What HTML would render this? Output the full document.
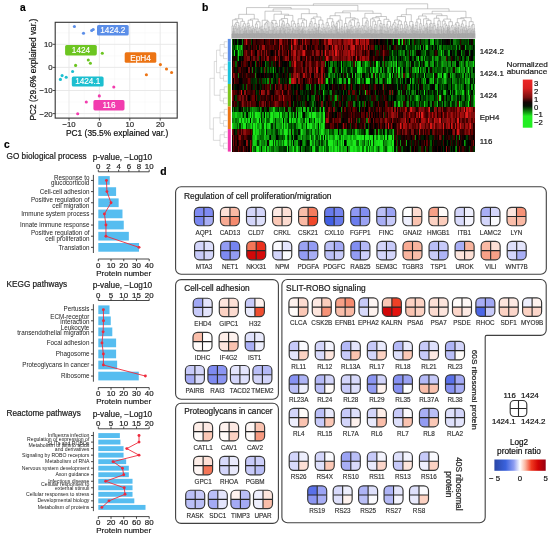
<!DOCTYPE html>
<html><head><meta charset="utf-8"><title>Figure</title>
<style>html,body{margin:0;padding:0;background:#fff;overflow:hidden}svg{display:block}
text{font-family:"Liberation Sans",Arial,Helvetica,sans-serif}</style></head>
<body><svg width="550" height="537" viewBox="0 0 550 537">
<rect width="550" height="537" fill="#fff"/>
<text x="20.00" y="11.00" font-size="10.2" text-anchor="start" fill="#000" stroke="#000" stroke-width="0.2" font-weight="bold">a</text>
<g stroke="#f4f4f4" stroke-width="0.5">
<line x1="84.20" y1="22.3" x2="84.20" y2="118.1"/>
<line x1="114.60" y1="22.3" x2="114.60" y2="118.1"/>
<line x1="145.00" y1="22.3" x2="145.00" y2="118.1"/>
<line x1="55.2" y1="32.75" x2="177.2" y2="32.75"/>
<line x1="55.2" y1="55.85" x2="177.2" y2="55.85"/>
<line x1="55.2" y1="78.95" x2="177.2" y2="78.95"/>
<line x1="55.2" y1="102.05" x2="177.2" y2="102.05"/>
</g>
<g stroke="#e6e6e6" stroke-width="0.9">
<line x1="69.00" y1="22.3" x2="69.00" y2="118.1"/>
<line x1="99.40" y1="22.3" x2="99.40" y2="118.1"/>
<line x1="129.80" y1="22.3" x2="129.80" y2="118.1"/>
<line x1="160.20" y1="22.3" x2="160.20" y2="118.1"/>
<line x1="55.2" y1="44.30" x2="177.2" y2="44.30"/>
<line x1="55.2" y1="67.40" x2="177.2" y2="67.40"/>
<line x1="55.2" y1="90.50" x2="177.2" y2="90.50"/>
<line x1="55.2" y1="113.60" x2="177.2" y2="113.60"/>
</g>
<circle cx="74.4" cy="26.5" r="1.55" fill="#5b8ee8"/>
<circle cx="83.5" cy="33.3" r="1.55" fill="#5b8ee8"/>
<circle cx="91.7" cy="30.5" r="1.55" fill="#5b8ee8"/>
<circle cx="93.2" cy="29.5" r="1.55" fill="#5b8ee8"/>
<circle cx="102.3" cy="53.2" r="1.55" fill="#6cc520"/>
<circle cx="88.3" cy="60" r="1.55" fill="#6cc520"/>
<circle cx="90.4" cy="63.3" r="1.55" fill="#6cc520"/>
<circle cx="75.6" cy="65.4" r="1.55" fill="#6cc520"/>
<circle cx="72.6" cy="71.5" r="1.55" fill="#1cbfd0"/>
<circle cx="62.1" cy="75.6" r="1.55" fill="#1cbfd0"/>
<circle cx="60.4" cy="79.4" r="1.55" fill="#1cbfd0"/>
<circle cx="66.2" cy="77.3" r="1.55" fill="#1cbfd0"/>
<circle cx="113.8" cy="87" r="1.55" fill="#f23cae"/>
<circle cx="99.3" cy="95.9" r="1.55" fill="#f23cae"/>
<circle cx="86.3" cy="102" r="1.55" fill="#f23cae"/>
<circle cx="77.7" cy="113.7" r="1.55" fill="#f23cae"/>
<circle cx="146.4" cy="74.8" r="1.55" fill="#ec7414"/>
<circle cx="160.4" cy="64.6" r="1.55" fill="#ec7414"/>
<circle cx="166.5" cy="69" r="1.55" fill="#ec7414"/>
<circle cx="171.6" cy="72.5" r="1.55" fill="#ec7414"/>
<rect x="97.0" y="25.0" width="31.7" height="10.5" rx="1.6" fill="#5b8ee8"/>
<text x="112.85" y="33.20" font-size="8.2" text-anchor="middle" fill="#fff" stroke="#fff" stroke-width="0.15">1424.2</text>
<rect x="65.1" y="44.9" width="31.7" height="10.5" rx="1.6" fill="#6cc520"/>
<text x="80.95" y="53.10" font-size="8.2" text-anchor="middle" fill="#fff" stroke="#fff" stroke-width="0.15">1424</text>
<rect x="124.7" y="52.3" width="31.6" height="10.5" rx="1.6" fill="#ec7414"/>
<text x="140.50" y="60.50" font-size="8.2" text-anchor="middle" fill="#fff" stroke="#fff" stroke-width="0.15">EpH4</text>
<rect x="71.8" y="76.5" width="31.8" height="10.0" rx="1.6" fill="#1cbfd0"/>
<text x="87.70" y="84.45" font-size="8.2" text-anchor="middle" fill="#fff" stroke="#fff" stroke-width="0.15">1424.1</text>
<rect x="93.4" y="100.1" width="31.1" height="10.3" rx="1.6" fill="#f23cae"/>
<text x="108.95" y="108.20" font-size="8.2" text-anchor="middle" fill="#fff" stroke="#fff" stroke-width="0.15">116</text>
<rect x="55.2" y="22.3" width="121.99999999999999" height="95.8" fill="none" stroke="#333" stroke-width="1.1"/>
<g stroke="#333" stroke-width="0.9">
<line x1="52.7" y1="44.30" x2="55.2" y2="44.30"/>
<line x1="52.7" y1="67.40" x2="55.2" y2="67.40"/>
<line x1="52.7" y1="90.50" x2="55.2" y2="90.50"/>
<line x1="52.7" y1="113.60" x2="55.2" y2="113.60"/>
<line x1="69.00" y1="118.1" x2="69.00" y2="120.6"/>
<line x1="99.40" y1="118.1" x2="99.40" y2="120.6"/>
<line x1="129.80" y1="118.1" x2="129.80" y2="120.6"/>
<line x1="160.20" y1="118.1" x2="160.20" y2="120.6"/>
</g>
<text x="52.60" y="47.20" font-size="8.0" text-anchor="end" fill="#2a2a2a" stroke="#2a2a2a" stroke-width="0.2" textLength="8.63" lengthAdjust="spacingAndGlyphs">10</text>
<text x="52.60" y="70.30" font-size="8.0" text-anchor="end" fill="#2a2a2a" stroke="#2a2a2a" stroke-width="0.2" textLength="4.32" lengthAdjust="spacingAndGlyphs">0</text>
<text x="52.60" y="93.40" font-size="8.0" text-anchor="end" fill="#2a2a2a" stroke="#2a2a2a" stroke-width="0.2" textLength="13.16" lengthAdjust="spacingAndGlyphs">−10</text>
<text x="52.60" y="116.50" font-size="8.0" text-anchor="end" fill="#2a2a2a" stroke="#2a2a2a" stroke-width="0.2" textLength="13.16" lengthAdjust="spacingAndGlyphs">−20</text>
<text x="69.00" y="127.20" font-size="8.0" text-anchor="middle" fill="#2a2a2a" stroke="#2a2a2a" stroke-width="0.2" textLength="13.16" lengthAdjust="spacingAndGlyphs">−10</text>
<text x="99.40" y="127.20" font-size="8.0" text-anchor="middle" fill="#2a2a2a" stroke="#2a2a2a" stroke-width="0.2" textLength="4.32" lengthAdjust="spacingAndGlyphs">0</text>
<text x="129.80" y="127.20" font-size="8.0" text-anchor="middle" fill="#2a2a2a" stroke="#2a2a2a" stroke-width="0.2" textLength="8.63" lengthAdjust="spacingAndGlyphs">10</text>
<text x="160.20" y="127.20" font-size="8.0" text-anchor="middle" fill="#2a2a2a" stroke="#2a2a2a" stroke-width="0.2" textLength="8.63" lengthAdjust="spacingAndGlyphs">20</text>
<text x="117.10" y="135.80" font-size="8.3" text-anchor="middle" fill="#111" stroke="#111" stroke-width="0.2" textLength="102.30" lengthAdjust="spacingAndGlyphs">PC1 (35.5% explained var.)</text>
<text x="36.40" y="69.70" font-size="8.3" text-anchor="middle" fill="#111" stroke="#111" stroke-width="0.2" textLength="101.80" lengthAdjust="spacingAndGlyphs" transform="rotate(-90 36.40 69.70)">PC2 (29.6% explained var.)</text>
<text x="4.00" y="148.30" font-size="10.2" text-anchor="start" fill="#000" stroke="#000" stroke-width="0.2" font-weight="bold">c</text>
<text x="6.60" y="158.60" font-size="8.2" text-anchor="start" fill="#1a1a1a" stroke="#1a1a1a" stroke-width="0.2">GO biological process</text>
<text x="122.40" y="159.90" font-size="8.2" text-anchor="middle" fill="#1a1a1a" stroke="#1a1a1a" stroke-width="0.2" textLength="59.40" lengthAdjust="spacingAndGlyphs">p-value, −Log10</text>
<text x="98.30" y="169.20" font-size="7.9" text-anchor="middle" fill="#222" stroke="#222" stroke-width="0.2">0</text>
<text x="108.48" y="169.20" font-size="7.9" text-anchor="middle" fill="#222" stroke="#222" stroke-width="0.2">2</text>
<text x="118.66" y="169.20" font-size="7.9" text-anchor="middle" fill="#222" stroke="#222" stroke-width="0.2">4</text>
<text x="128.84" y="169.20" font-size="7.9" text-anchor="middle" fill="#222" stroke="#222" stroke-width="0.2">6</text>
<text x="139.02" y="169.20" font-size="7.9" text-anchor="middle" fill="#222" stroke="#222" stroke-width="0.2">8</text>
<text x="149.20" y="169.20" font-size="7.9" text-anchor="middle" fill="#222" stroke="#222" stroke-width="0.2">10</text>
<g stroke="#333" stroke-width="0.9" fill="none">
<line x1="98.3" y1="171.8" x2="149.2" y2="171.8"/>
<line x1="98.30" y1="169.60000000000002" x2="98.30" y2="171.8"/>
<line x1="108.48" y1="169.60000000000002" x2="108.48" y2="171.8"/>
<line x1="118.66" y1="169.60000000000002" x2="118.66" y2="171.8"/>
<line x1="128.84" y1="169.60000000000002" x2="128.84" y2="171.8"/>
<line x1="139.02" y1="169.60000000000002" x2="139.02" y2="171.8"/>
<line x1="149.20" y1="169.60000000000002" x2="149.20" y2="171.8"/>
<line x1="93.4" y1="174.90" x2="93.4" y2="253.00"/>
<line x1="91.0" y1="180.45" x2="93.4" y2="180.45"/>
<line x1="91.0" y1="191.60" x2="93.4" y2="191.60"/>
<line x1="91.0" y1="202.75" x2="93.4" y2="202.75"/>
<line x1="91.0" y1="213.90" x2="93.4" y2="213.90"/>
<line x1="91.0" y1="225.05" x2="93.4" y2="225.05"/>
<line x1="91.0" y1="236.20" x2="93.4" y2="236.20"/>
<line x1="91.0" y1="247.35" x2="93.4" y2="247.35"/>
<line x1="98.3" y1="259.0" x2="149.2" y2="259.0"/>
<line x1="98.30" y1="259.0" x2="98.30" y2="261.2"/>
<line x1="111.02" y1="259.0" x2="111.02" y2="261.2"/>
<line x1="123.75" y1="259.0" x2="123.75" y2="261.2"/>
<line x1="136.47" y1="259.0" x2="136.47" y2="261.2"/>
<line x1="149.20" y1="259.0" x2="149.20" y2="261.2"/>
</g>
<text x="98.30" y="267.50" font-size="7.9" text-anchor="middle" fill="#222" stroke="#222" stroke-width="0.2">0</text>
<text x="111.02" y="267.50" font-size="7.9" text-anchor="middle" fill="#222" stroke="#222" stroke-width="0.2">10</text>
<text x="123.75" y="267.50" font-size="7.9" text-anchor="middle" fill="#222" stroke="#222" stroke-width="0.2">20</text>
<text x="136.47" y="267.50" font-size="7.9" text-anchor="middle" fill="#222" stroke="#222" stroke-width="0.2">30</text>
<text x="149.20" y="267.50" font-size="7.9" text-anchor="middle" fill="#222" stroke="#222" stroke-width="0.2">40</text>
<text x="123.70" y="275.50" font-size="8.05" text-anchor="middle" fill="#1a1a1a" stroke="#1a1a1a" stroke-width="0.2" textLength="55.10" lengthAdjust="spacingAndGlyphs">Protein number</text>
<rect x="98.3" y="176.10" width="11.45" height="8.7" fill="#56bdf0"/>
<rect x="98.3" y="187.25" width="17.81" height="8.7" fill="#56bdf0"/>
<rect x="98.3" y="198.40" width="20.36" height="8.7" fill="#56bdf0"/>
<rect x="98.3" y="209.55" width="24.18" height="8.7" fill="#56bdf0"/>
<rect x="98.3" y="220.70" width="25.45" height="8.7" fill="#56bdf0"/>
<rect x="98.3" y="231.85" width="30.54" height="8.7" fill="#56bdf0"/>
<rect x="98.3" y="243.00" width="40.72" height="8.7" fill="#56bdf0"/>
<polyline points="106.44,180.45 106.95,191.60 111.02,202.75 104.41,213.90 105.94,225.05 105.94,236.20 139.02,247.35" fill="none" stroke="#ee2a3c" stroke-width="0.9"/>
<circle cx="106.44" cy="180.45" r="1.45" fill="#ee2a3c"/>
<circle cx="106.95" cy="191.60" r="1.45" fill="#ee2a3c"/>
<circle cx="111.02" cy="202.75" r="1.45" fill="#ee2a3c"/>
<circle cx="104.41" cy="213.90" r="1.45" fill="#ee2a3c"/>
<circle cx="105.94" cy="225.05" r="1.45" fill="#ee2a3c"/>
<circle cx="105.94" cy="236.20" r="1.45" fill="#ee2a3c"/>
<circle cx="139.02" cy="247.35" r="1.45" fill="#ee2a3c"/>
<text x="89.40" y="179.59" font-size="6.3" text-anchor="end" fill="#222">Response to</text>
<text x="89.40" y="185.49" font-size="6.3" text-anchor="end" fill="#222">glucocorticoid</text>
<text x="89.40" y="193.99" font-size="6.3" text-anchor="end" fill="#222">Cell-cell adhesion</text>
<text x="89.40" y="201.89" font-size="6.3" text-anchor="end" fill="#222">Positive regulation of</text>
<text x="89.40" y="207.79" font-size="6.3" text-anchor="end" fill="#222">cell migration</text>
<text x="89.40" y="216.29" font-size="6.3" text-anchor="end" fill="#222">Immune system process</text>
<text x="89.40" y="227.44" font-size="6.3" text-anchor="end" fill="#222">Innate immune response</text>
<text x="89.40" y="235.34" font-size="6.3" text-anchor="end" fill="#222">Positive regulation of</text>
<text x="89.40" y="241.24" font-size="6.3" text-anchor="end" fill="#222">cell proliferation</text>
<text x="89.40" y="249.74" font-size="6.3" text-anchor="end" fill="#222">Translation</text>
<text x="6.60" y="287.20" font-size="8.2" text-anchor="start" fill="#1a1a1a" stroke="#1a1a1a" stroke-width="0.2">KEGG pathways</text>
<text x="122.40" y="288.20" font-size="8.2" text-anchor="middle" fill="#1a1a1a" stroke="#1a1a1a" stroke-width="0.2" textLength="59.40" lengthAdjust="spacingAndGlyphs">p-value, −Log10</text>
<text x="98.30" y="297.50" font-size="7.9" text-anchor="middle" fill="#222" stroke="#222" stroke-width="0.2">0</text>
<text x="111.02" y="297.50" font-size="7.9" text-anchor="middle" fill="#222" stroke="#222" stroke-width="0.2">5</text>
<text x="123.75" y="297.50" font-size="7.9" text-anchor="middle" fill="#222" stroke="#222" stroke-width="0.2">10</text>
<text x="136.47" y="297.50" font-size="7.9" text-anchor="middle" fill="#222" stroke="#222" stroke-width="0.2">15</text>
<text x="149.20" y="297.50" font-size="7.9" text-anchor="middle" fill="#222" stroke="#222" stroke-width="0.2">20</text>
<g stroke="#333" stroke-width="0.9" fill="none">
<line x1="98.3" y1="300.5" x2="149.2" y2="300.5"/>
<line x1="98.30" y1="298.3" x2="98.30" y2="300.5"/>
<line x1="111.02" y1="298.3" x2="111.02" y2="300.5"/>
<line x1="123.75" y1="298.3" x2="123.75" y2="300.5"/>
<line x1="136.47" y1="298.3" x2="136.47" y2="300.5"/>
<line x1="149.20" y1="298.3" x2="149.20" y2="300.5"/>
<line x1="93.4" y1="304.20" x2="93.4" y2="381.70"/>
<line x1="91.0" y1="309.75" x2="93.4" y2="309.75"/>
<line x1="91.0" y1="320.80" x2="93.4" y2="320.80"/>
<line x1="91.0" y1="331.85" x2="93.4" y2="331.85"/>
<line x1="91.0" y1="342.90" x2="93.4" y2="342.90"/>
<line x1="91.0" y1="353.95" x2="93.4" y2="353.95"/>
<line x1="91.0" y1="365.00" x2="93.4" y2="365.00"/>
<line x1="91.0" y1="376.05" x2="93.4" y2="376.05"/>
<line x1="98.3" y1="387.6" x2="149.2" y2="387.6"/>
<line x1="98.30" y1="387.6" x2="98.30" y2="389.8"/>
<line x1="111.02" y1="387.6" x2="111.02" y2="389.8"/>
<line x1="123.75" y1="387.6" x2="123.75" y2="389.8"/>
<line x1="136.47" y1="387.6" x2="136.47" y2="389.8"/>
<line x1="149.20" y1="387.6" x2="149.20" y2="389.8"/>
</g>
<text x="98.30" y="396.10" font-size="7.9" text-anchor="middle" fill="#222" stroke="#222" stroke-width="0.2">0</text>
<text x="111.02" y="396.10" font-size="7.9" text-anchor="middle" fill="#222" stroke="#222" stroke-width="0.2">10</text>
<text x="123.75" y="396.10" font-size="7.9" text-anchor="middle" fill="#222" stroke="#222" stroke-width="0.2">20</text>
<text x="136.47" y="396.10" font-size="7.9" text-anchor="middle" fill="#222" stroke="#222" stroke-width="0.2">30</text>
<text x="149.20" y="396.10" font-size="7.9" text-anchor="middle" fill="#222" stroke="#222" stroke-width="0.2">40</text>
<text x="123.70" y="404.10" font-size="8.05" text-anchor="middle" fill="#1a1a1a" stroke="#1a1a1a" stroke-width="0.2" textLength="55.10" lengthAdjust="spacingAndGlyphs">Protein number</text>
<rect x="98.3" y="305.40" width="11.20" height="8.7" fill="#56bdf0"/>
<rect x="98.3" y="316.45" width="12.47" height="8.7" fill="#56bdf0"/>
<rect x="98.3" y="327.50" width="14.00" height="8.7" fill="#56bdf0"/>
<rect x="98.3" y="338.55" width="17.81" height="8.7" fill="#56bdf0"/>
<rect x="98.3" y="349.60" width="17.81" height="8.7" fill="#56bdf0"/>
<rect x="98.3" y="360.65" width="18.83" height="8.7" fill="#56bdf0"/>
<rect x="98.3" y="371.70" width="40.47" height="8.7" fill="#56bdf0"/>
<polyline points="103.39,309.75 103.49,320.80 103.14,331.85 101.99,342.90 103.39,353.95 103.39,365.00 145.38,376.05" fill="none" stroke="#ee2a3c" stroke-width="0.9"/>
<circle cx="103.39" cy="309.75" r="1.45" fill="#ee2a3c"/>
<circle cx="103.49" cy="320.80" r="1.45" fill="#ee2a3c"/>
<circle cx="103.14" cy="331.85" r="1.45" fill="#ee2a3c"/>
<circle cx="101.99" cy="342.90" r="1.45" fill="#ee2a3c"/>
<circle cx="103.39" cy="353.95" r="1.45" fill="#ee2a3c"/>
<circle cx="103.39" cy="365.00" r="1.45" fill="#ee2a3c"/>
<circle cx="145.38" cy="376.05" r="1.45" fill="#ee2a3c"/>
<text x="89.40" y="311.44" font-size="6.3" text-anchor="end" fill="#222">Pertussis</text>
<text x="89.40" y="318.99" font-size="6.3" text-anchor="end" fill="#222">ECM-receptor</text>
<text x="89.40" y="324.19" font-size="6.3" text-anchor="end" fill="#222">interaction</text>
<text x="89.40" y="330.04" font-size="6.3" text-anchor="end" fill="#222">Leukocyte</text>
<text x="89.40" y="335.24" font-size="6.3" text-anchor="end" fill="#222">transendothelial migration</text>
<text x="89.40" y="344.59" font-size="6.3" text-anchor="end" fill="#222">Focal adhesion</text>
<text x="89.40" y="355.64" font-size="6.3" text-anchor="end" fill="#222">Phagosome</text>
<text x="89.40" y="366.69" font-size="6.3" text-anchor="end" fill="#222">Proteoglycans in cancer</text>
<text x="89.40" y="377.74" font-size="6.3" text-anchor="end" fill="#222">Ribosome</text>
<text x="6.60" y="415.80" font-size="8.2" text-anchor="start" fill="#1a1a1a" stroke="#1a1a1a" stroke-width="0.2">Reactome pathways</text>
<text x="122.40" y="416.70" font-size="8.2" text-anchor="middle" fill="#1a1a1a" stroke="#1a1a1a" stroke-width="0.2" textLength="59.40" lengthAdjust="spacingAndGlyphs">p-value, −Log10</text>
<text x="98.30" y="426.00" font-size="7.9" text-anchor="middle" fill="#222" stroke="#222" stroke-width="0.2">0</text>
<text x="111.02" y="426.00" font-size="7.9" text-anchor="middle" fill="#222" stroke="#222" stroke-width="0.2">5</text>
<text x="123.75" y="426.00" font-size="7.9" text-anchor="middle" fill="#222" stroke="#222" stroke-width="0.2">10</text>
<text x="136.47" y="426.00" font-size="7.9" text-anchor="middle" fill="#222" stroke="#222" stroke-width="0.2">15</text>
<text x="149.20" y="426.00" font-size="7.9" text-anchor="middle" fill="#222" stroke="#222" stroke-width="0.2">20</text>
<g stroke="#333" stroke-width="0.9" fill="none">
<line x1="98.3" y1="428.8" x2="149.2" y2="428.8"/>
<line x1="98.30" y1="426.6" x2="98.30" y2="428.8"/>
<line x1="111.02" y1="426.6" x2="111.02" y2="428.8"/>
<line x1="123.75" y1="426.6" x2="123.75" y2="428.8"/>
<line x1="136.47" y1="426.6" x2="136.47" y2="428.8"/>
<line x1="149.20" y1="426.6" x2="149.20" y2="428.8"/>
<line x1="93.4" y1="431.90" x2="93.4" y2="511.13"/>
<line x1="91.0" y1="435.55" x2="93.4" y2="435.55"/>
<line x1="91.0" y1="442.08" x2="93.4" y2="442.08"/>
<line x1="91.0" y1="448.61" x2="93.4" y2="448.61"/>
<line x1="91.0" y1="455.14" x2="93.4" y2="455.14"/>
<line x1="91.0" y1="461.67" x2="93.4" y2="461.67"/>
<line x1="91.0" y1="468.20" x2="93.4" y2="468.20"/>
<line x1="91.0" y1="474.73" x2="93.4" y2="474.73"/>
<line x1="91.0" y1="481.26" x2="93.4" y2="481.26"/>
<line x1="91.0" y1="487.79" x2="93.4" y2="487.79"/>
<line x1="91.0" y1="494.32" x2="93.4" y2="494.32"/>
<line x1="91.0" y1="500.85" x2="93.4" y2="500.85"/>
<line x1="91.0" y1="507.38" x2="93.4" y2="507.38"/>
<line x1="98.3" y1="516.6" x2="149.2" y2="516.6"/>
<line x1="98.30" y1="516.6" x2="98.30" y2="518.8000000000001"/>
<line x1="111.02" y1="516.6" x2="111.02" y2="518.8000000000001"/>
<line x1="123.75" y1="516.6" x2="123.75" y2="518.8000000000001"/>
<line x1="136.47" y1="516.6" x2="136.47" y2="518.8000000000001"/>
<line x1="149.20" y1="516.6" x2="149.20" y2="518.8000000000001"/>
</g>
<text x="98.30" y="525.10" font-size="7.9" text-anchor="middle" fill="#222" stroke="#222" stroke-width="0.2">0</text>
<text x="111.02" y="525.10" font-size="7.9" text-anchor="middle" fill="#222" stroke="#222" stroke-width="0.2">20</text>
<text x="123.75" y="525.10" font-size="7.9" text-anchor="middle" fill="#222" stroke="#222" stroke-width="0.2">40</text>
<text x="136.47" y="525.10" font-size="7.9" text-anchor="middle" fill="#222" stroke="#222" stroke-width="0.2">60</text>
<text x="149.20" y="525.10" font-size="7.9" text-anchor="middle" fill="#222" stroke="#222" stroke-width="0.2">80</text>
<text x="123.70" y="533.10" font-size="8.05" text-anchor="middle" fill="#1a1a1a" stroke="#1a1a1a" stroke-width="0.2" textLength="55.10" lengthAdjust="spacingAndGlyphs">Protein number</text>
<rect x="98.3" y="433.10" width="21.57" height="4.9" fill="#56bdf0"/>
<rect x="98.3" y="439.63" width="22.14" height="4.9" fill="#56bdf0"/>
<rect x="98.3" y="446.16" width="25.26" height="4.9" fill="#56bdf0"/>
<rect x="98.3" y="452.69" width="25.26" height="4.9" fill="#56bdf0"/>
<rect x="98.3" y="459.22" width="27.87" height="4.9" fill="#56bdf0"/>
<rect x="98.3" y="465.75" width="30.54" height="4.9" fill="#56bdf0"/>
<rect x="98.3" y="472.28" width="30.54" height="4.9" fill="#56bdf0"/>
<rect x="98.3" y="478.81" width="34.23" height="4.9" fill="#56bdf0"/>
<rect x="98.3" y="485.34" width="34.23" height="4.9" fill="#56bdf0"/>
<rect x="98.3" y="491.87" width="34.23" height="4.9" fill="#56bdf0"/>
<rect x="98.3" y="498.40" width="36.01" height="4.9" fill="#56bdf0"/>
<rect x="98.3" y="504.93" width="47.21" height="4.9" fill="#56bdf0"/>
<polyline points="139.02,435.55 139.02,442.08 126.80,448.61 139.02,455.14 113.06,461.67 122.48,468.20 123.75,474.73 105.68,481.26 124.26,487.79 125.02,494.32 108.99,500.85 101.86,507.38" fill="none" stroke="#ee2a3c" stroke-width="0.9"/>
<circle cx="139.02" cy="435.55" r="1.45" fill="#ee2a3c"/>
<circle cx="139.02" cy="442.08" r="1.45" fill="#ee2a3c"/>
<circle cx="126.80" cy="448.61" r="1.45" fill="#ee2a3c"/>
<circle cx="139.02" cy="455.14" r="1.45" fill="#ee2a3c"/>
<circle cx="113.06" cy="461.67" r="1.45" fill="#ee2a3c"/>
<circle cx="122.48" cy="468.20" r="1.45" fill="#ee2a3c"/>
<circle cx="123.75" cy="474.73" r="1.45" fill="#ee2a3c"/>
<circle cx="105.68" cy="481.26" r="1.45" fill="#ee2a3c"/>
<circle cx="124.26" cy="487.79" r="1.45" fill="#ee2a3c"/>
<circle cx="125.02" cy="494.32" r="1.45" fill="#ee2a3c"/>
<circle cx="108.99" cy="500.85" r="1.45" fill="#ee2a3c"/>
<circle cx="101.86" cy="507.38" r="1.45" fill="#ee2a3c"/>
<text x="89.40" y="437.10" font-size="5.15" text-anchor="end" fill="#222">Influenza infection</text>
<text x="89.40" y="440.78" font-size="5.15" text-anchor="end" fill="#222">Regulation of expression of</text>
<text x="89.40" y="444.68" font-size="5.15" text-anchor="end" fill="#222">SLITs and ROBOs</text>
<text x="89.40" y="447.31" font-size="5.15" text-anchor="end" fill="#222">Metabolism of amino acids</text>
<text x="89.40" y="451.21" font-size="5.15" text-anchor="end" fill="#222">and derivatives</text>
<text x="89.40" y="456.69" font-size="5.15" text-anchor="end" fill="#222">Signaling by ROBO receptors</text>
<text x="89.40" y="463.22" font-size="5.15" text-anchor="end" fill="#222">Metabolism of RNA</text>
<text x="89.40" y="469.75" font-size="5.15" text-anchor="end" fill="#222">Nervous system development</text>
<text x="89.40" y="476.28" font-size="5.15" text-anchor="end" fill="#222">Axon guidance</text>
<text x="89.40" y="482.81" font-size="5.15" text-anchor="end" fill="#222">Infectious disease</text>
<text x="89.40" y="486.49" font-size="5.15" text-anchor="end" fill="#222">Cellular responses to</text>
<text x="89.40" y="490.39" font-size="5.15" text-anchor="end" fill="#222">external stimuli</text>
<text x="89.40" y="495.87" font-size="5.15" text-anchor="end" fill="#222">Cellular responses to stress</text>
<text x="89.40" y="502.40" font-size="5.15" text-anchor="end" fill="#222">Developmental biology</text>
<text x="89.40" y="508.93" font-size="5.15" text-anchor="end" fill="#222">Metabolism of proteins</text>
<text x="201.90" y="10.90" font-size="10.4" text-anchor="start" fill="#000" stroke="#000" stroke-width="0.2" font-weight="bold">b</text>
<defs><filter id="hb" x="-0.01" y="-0.01" width="1.02" height="1.02"><feGaussianBlur stdDeviation="0.45 0.35"/></filter></defs>
<g filter="url(#hb)">
<g transform="translate(231.6 38.9) scale(1.28211 5.63500)" shape-rendering="crispEdges">
<path fill="#046104" d="M0 0h1v1h-1zM4 0h1v1h-1zM132 0h1v1h-1zM135 0h1v1h-1zM141 0h1v1h-1zM175 0h1v1h-1zM112 1h1v1h-1zM157 1h1v1h-1zM166 1h1v1h-1zM168 1h1v1h-1zM185 1h1v1h-1zM7 2h1v1h-1zM130 2h1v1h-1zM132 2h1v1h-1zM137 2h1v1h-1zM143 2h1v1h-1zM149 2h1v1h-1zM150 2h1v1h-1zM156 2h1v1h-1zM175 2h1v1h-1zM141 3h1v1h-1zM183 3h1v1h-1zM3 4h1v1h-1zM81 4h1v1h-1zM90 4h1v1h-1zM102 4h1v1h-1zM103 4h1v1h-1zM106 4h1v1h-1zM107 4h1v1h-1zM114 4h1v1h-1zM125 4h1v1h-1zM130 4h1v1h-1zM133 4h1v1h-1zM145 4h1v1h-1zM182 4h1v1h-1zM28 5h1v1h-1zM34 5h1v1h-1zM75 5h1v1h-1zM114 5h1v1h-1zM154 5h1v1h-1zM172 5h1v1h-1zM178 5h1v1h-1zM87 6h1v1h-1zM116 6h1v1h-1zM122 6h1v1h-1zM135 6h1v1h-1zM142 6h1v1h-1zM152 6h1v1h-1zM153 6h1v1h-1zM154 6h1v1h-1zM155 6h1v1h-1zM160 6h1v1h-1zM178 6h1v1h-1zM87 7h1v1h-1zM117 7h1v1h-1zM148 7h1v1h-1zM161 7h1v1h-1zM170 7h1v1h-1zM11 8h1v1h-1zM58 8h1v1h-1zM59 8h1v1h-1zM141 8h1v1h-1zM143 8h1v1h-1zM183 8h1v1h-1zM185 8h1v1h-1zM65 9h1v1h-1zM87 9h1v1h-1zM112 9h1v1h-1zM140 9h1v1h-1zM147 9h1v1h-1zM177 9h1v1h-1zM183 9h1v1h-1zM185 9h1v1h-1zM59 10h1v1h-1zM63 10h1v1h-1zM130 10h1v1h-1zM146 10h1v1h-1zM166 10h1v1h-1zM174 10h1v1h-1zM181 10h1v1h-1zM48 11h1v1h-1zM80 11h1v1h-1zM102 11h1v1h-1zM139 11h1v1h-1zM141 11h1v1h-1zM144 11h1v1h-1zM151 11h1v1h-1zM158 11h1v1h-1zM159 11h1v1h-1zM183 11h1v1h-1zM4 12h1v1h-1zM20 12h1v1h-1zM23 12h1v1h-1zM34 12h1v1h-1zM68 12h1v1h-1zM41 13h1v1h-1zM46 13h1v1h-1zM47 13h1v1h-1zM28 14h1v1h-1zM46 14h1v1h-1zM50 14h1v1h-1zM4 15h1v1h-1zM45 15h1v1h-1zM106 15h1v1h-1zM31 16h1v1h-1zM44 16h1v1h-1zM51 16h1v1h-1zM65 16h1v1h-1zM111 16h1v1h-1zM115 16h1v1h-1zM123 16h1v1h-1zM22 17h1v1h-1zM38 17h1v1h-1zM41 17h1v1h-1zM55 17h1v1h-1zM68 17h1v1h-1zM84 17h1v1h-1zM125 17h1v1h-1zM175 17h1v1h-1zM36 18h1v1h-1zM44 18h1v1h-1zM82 18h1v1h-1zM155 18h1v1h-1zM182 18h1v1h-1zM56 19h1v1h-1zM65 19h1v1h-1zM72 19h1v1h-1zM75 19h1v1h-1zM133 19h1v1h-1zM151 19h1v1h-1z"/>
<path fill="#150000" d="M1 0h1v1h-1zM9 0h1v1h-1zM19 0h1v1h-1zM32 0h1v1h-1zM36 0h1v1h-1zM44 0h1v1h-1zM61 0h1v1h-1zM118 0h1v1h-1zM147 0h1v1h-1zM187 0h1v1h-1zM11 1h1v1h-1zM12 1h1v1h-1zM59 1h1v1h-1zM111 1h1v1h-1zM9 2h1v1h-1zM35 2h1v1h-1zM111 2h1v1h-1zM26 3h1v1h-1zM45 3h1v1h-1zM57 3h1v1h-1zM63 3h1v1h-1zM108 3h1v1h-1zM109 3h1v1h-1zM112 3h1v1h-1zM119 3h1v1h-1zM186 3h1v1h-1zM0 4h1v1h-1zM2 5h1v1h-1zM4 5h1v1h-1zM7 5h1v1h-1zM17 5h1v1h-1zM36 5h1v1h-1zM45 5h1v1h-1zM46 5h1v1h-1zM155 5h1v1h-1zM7 6h1v1h-1zM9 6h1v1h-1zM14 6h1v1h-1zM22 6h1v1h-1zM41 6h1v1h-1zM93 6h1v1h-1zM107 6h1v1h-1zM114 6h1v1h-1zM159 6h1v1h-1zM8 7h1v1h-1zM76 7h1v1h-1zM111 7h1v1h-1zM118 7h1v1h-1zM158 7h1v1h-1zM6 8h1v1h-1zM21 8h1v1h-1zM79 8h1v1h-1zM85 8h1v1h-1zM92 8h1v1h-1zM113 8h1v1h-1zM123 8h1v1h-1zM146 8h1v1h-1zM5 9h1v1h-1zM8 9h1v1h-1zM11 9h1v1h-1zM30 9h1v1h-1zM42 9h1v1h-1zM49 9h1v1h-1zM106 9h1v1h-1zM116 9h1v1h-1zM128 9h1v1h-1zM133 9h1v1h-1zM30 10h1v1h-1zM57 10h1v1h-1zM65 10h1v1h-1zM88 10h1v1h-1zM89 10h1v1h-1zM101 10h1v1h-1zM138 10h1v1h-1zM164 10h1v1h-1zM165 10h1v1h-1zM49 11h1v1h-1zM50 11h1v1h-1zM54 11h1v1h-1zM94 11h1v1h-1zM107 11h1v1h-1zM113 11h1v1h-1zM135 11h1v1h-1zM8 12h1v1h-1zM43 12h1v1h-1zM48 12h1v1h-1zM49 12h1v1h-1zM74 12h1v1h-1zM82 12h1v1h-1zM90 12h1v1h-1zM102 12h1v1h-1zM114 12h1v1h-1zM156 12h1v1h-1zM89 13h1v1h-1zM121 13h1v1h-1zM163 13h1v1h-1zM88 14h1v1h-1zM89 14h1v1h-1zM111 14h1v1h-1zM75 15h1v1h-1zM80 15h1v1h-1zM81 15h1v1h-1zM109 15h1v1h-1zM111 15h1v1h-1zM113 15h1v1h-1zM127 15h1v1h-1zM188 15h1v1h-1zM46 16h1v1h-1zM139 16h1v1h-1zM166 16h1v1h-1zM170 16h1v1h-1zM13 17h1v1h-1zM14 17h1v1h-1zM136 17h1v1h-1zM139 17h1v1h-1zM168 17h1v1h-1zM178 17h1v1h-1zM180 17h1v1h-1zM2 18h1v1h-1zM9 18h1v1h-1zM132 18h1v1h-1zM133 18h1v1h-1zM134 18h1v1h-1zM146 18h1v1h-1zM149 18h1v1h-1zM160 18h1v1h-1zM179 18h1v1h-1zM0 19h1v1h-1zM135 19h1v1h-1zM144 19h1v1h-1z"/>
<path fill="#002900" d="M2 0h1v1h-1zM162 0h1v1h-1zM2 1h1v1h-1zM130 1h1v1h-1zM135 1h1v1h-1zM139 1h1v1h-1zM153 1h1v1h-1zM154 1h1v1h-1zM161 1h1v1h-1zM115 2h1v1h-1zM123 2h1v1h-1zM124 2h1v1h-1zM127 2h1v1h-1zM136 2h1v1h-1zM140 2h1v1h-1zM154 2h1v1h-1zM167 2h1v1h-1zM186 2h1v1h-1zM188 2h1v1h-1zM151 3h1v1h-1zM154 3h1v1h-1zM162 3h1v1h-1zM178 3h1v1h-1zM181 3h1v1h-1zM27 4h1v1h-1zM93 4h1v1h-1zM135 4h1v1h-1zM19 5h1v1h-1zM22 5h1v1h-1zM78 5h1v1h-1zM90 5h1v1h-1zM96 5h1v1h-1zM115 5h1v1h-1zM189 5h1v1h-1zM73 6h1v1h-1zM81 6h1v1h-1zM138 6h1v1h-1zM177 6h1v1h-1zM15 7h1v1h-1zM17 7h1v1h-1zM38 7h1v1h-1zM40 7h1v1h-1zM42 7h1v1h-1zM81 7h1v1h-1zM126 7h1v1h-1zM136 7h1v1h-1zM181 7h1v1h-1zM187 7h1v1h-1zM2 8h1v1h-1zM8 8h1v1h-1zM17 8h1v1h-1zM19 8h1v1h-1zM22 8h1v1h-1zM48 8h1v1h-1zM83 8h1v1h-1zM96 8h1v1h-1zM107 8h1v1h-1zM131 8h1v1h-1zM134 8h1v1h-1zM139 8h1v1h-1zM164 8h1v1h-1zM54 9h1v1h-1zM57 9h1v1h-1zM59 9h1v1h-1zM74 9h1v1h-1zM81 9h1v1h-1zM96 9h1v1h-1zM119 9h1v1h-1zM124 9h1v1h-1zM126 9h1v1h-1zM129 9h1v1h-1zM148 9h1v1h-1zM149 9h1v1h-1zM155 9h1v1h-1zM157 9h1v1h-1zM159 9h1v1h-1zM167 9h1v1h-1zM168 9h1v1h-1zM21 10h1v1h-1zM56 10h1v1h-1zM90 10h1v1h-1zM105 10h1v1h-1zM107 10h1v1h-1zM128 10h1v1h-1zM141 10h1v1h-1zM149 10h1v1h-1zM151 10h1v1h-1zM5 11h1v1h-1zM43 11h1v1h-1zM61 11h1v1h-1zM69 11h1v1h-1zM78 11h1v1h-1zM79 11h1v1h-1zM83 11h1v1h-1zM98 11h1v1h-1zM108 11h1v1h-1zM128 11h1v1h-1zM142 11h1v1h-1zM154 11h1v1h-1zM173 11h1v1h-1zM7 12h1v1h-1zM11 12h1v1h-1zM13 12h1v1h-1zM21 12h1v1h-1zM27 12h1v1h-1zM63 12h1v1h-1zM81 12h1v1h-1zM9 13h1v1h-1zM23 13h1v1h-1zM23 14h1v1h-1zM98 14h1v1h-1zM31 15h1v1h-1zM34 15h1v1h-1zM58 15h1v1h-1zM3 16h1v1h-1zM35 16h1v1h-1zM49 16h1v1h-1zM36 17h1v1h-1zM44 17h1v1h-1zM121 17h1v1h-1zM154 17h1v1h-1zM172 17h1v1h-1zM52 18h1v1h-1zM58 18h1v1h-1zM68 18h1v1h-1zM139 18h1v1h-1zM145 18h1v1h-1zM171 18h1v1h-1zM23 19h1v1h-1zM41 19h1v1h-1zM42 19h1v1h-1zM62 19h1v1h-1zM145 19h1v1h-1zM172 19h1v1h-1zM188 19h1v1h-1zM189 19h1v1h-1z"/>
<path fill="#000000" d="M3 0h1v1h-1zM25 0h1v1h-1zM111 0h1v1h-1zM113 0h1v1h-1zM116 0h1v1h-1zM139 0h1v1h-1zM158 0h1v1h-1zM164 0h1v1h-1zM168 0h1v1h-1zM71 1h1v1h-1zM76 1h1v1h-1zM117 1h1v1h-1zM125 1h1v1h-1zM18 2h1v1h-1zM19 2h1v1h-1zM108 2h1v1h-1zM129 2h1v1h-1zM135 2h1v1h-1zM178 2h1v1h-1zM183 2h1v1h-1zM187 2h1v1h-1zM6 3h1v1h-1zM14 3h1v1h-1zM54 3h1v1h-1zM131 3h1v1h-1zM6 4h1v1h-1zM17 4h1v1h-1zM24 4h1v1h-1zM35 4h1v1h-1zM39 4h1v1h-1zM41 4h1v1h-1zM42 4h1v1h-1zM44 4h1v1h-1zM86 4h1v1h-1zM147 4h1v1h-1zM176 4h1v1h-1zM33 5h1v1h-1zM68 5h1v1h-1zM117 5h1v1h-1zM152 5h1v1h-1zM20 6h1v1h-1zM23 6h1v1h-1zM24 6h1v1h-1zM31 6h1v1h-1zM63 6h1v1h-1zM83 6h1v1h-1zM103 6h1v1h-1zM124 6h1v1h-1zM164 6h1v1h-1zM181 6h1v1h-1zM7 7h1v1h-1zM34 7h1v1h-1zM56 7h1v1h-1zM80 7h1v1h-1zM103 7h1v1h-1zM114 7h1v1h-1zM140 7h1v1h-1zM152 7h1v1h-1zM153 7h1v1h-1zM171 7h1v1h-1zM0 8h1v1h-1zM5 8h1v1h-1zM20 8h1v1h-1zM32 8h1v1h-1zM56 8h1v1h-1zM60 8h1v1h-1zM73 8h1v1h-1zM106 8h1v1h-1zM116 8h1v1h-1zM121 8h1v1h-1zM140 8h1v1h-1zM157 8h1v1h-1zM168 8h1v1h-1zM171 8h1v1h-1zM186 8h1v1h-1zM32 9h1v1h-1zM88 9h1v1h-1zM98 9h1v1h-1zM109 9h1v1h-1zM113 9h1v1h-1zM127 9h1v1h-1zM135 9h1v1h-1zM139 9h1v1h-1zM146 9h1v1h-1zM169 9h1v1h-1zM18 10h1v1h-1zM46 10h1v1h-1zM58 10h1v1h-1zM61 10h1v1h-1zM68 10h1v1h-1zM74 10h1v1h-1zM100 10h1v1h-1zM121 10h1v1h-1zM147 10h1v1h-1zM167 10h1v1h-1zM178 10h1v1h-1zM182 10h1v1h-1zM47 11h1v1h-1zM66 11h1v1h-1zM72 11h1v1h-1zM75 11h1v1h-1zM101 11h1v1h-1zM105 11h1v1h-1zM156 11h1v1h-1zM6 12h1v1h-1zM55 12h1v1h-1zM58 12h1v1h-1zM87 12h1v1h-1zM117 12h1v1h-1zM25 13h1v1h-1zM56 13h1v1h-1zM78 13h1v1h-1zM100 13h1v1h-1zM104 13h1v1h-1zM110 13h1v1h-1zM112 13h1v1h-1zM114 13h1v1h-1zM117 13h1v1h-1zM40 14h1v1h-1zM109 14h1v1h-1zM138 14h1v1h-1zM90 15h1v1h-1zM108 15h1v1h-1zM112 15h1v1h-1zM119 15h1v1h-1zM83 16h1v1h-1zM109 16h1v1h-1zM171 16h1v1h-1zM30 17h1v1h-1zM35 17h1v1h-1zM72 17h1v1h-1zM150 17h1v1h-1zM181 17h1v1h-1zM4 18h1v1h-1zM10 18h1v1h-1zM53 18h1v1h-1zM54 18h1v1h-1zM127 18h1v1h-1zM137 18h1v1h-1zM156 18h1v1h-1zM189 18h1v1h-1zM13 19h1v1h-1zM53 19h1v1h-1zM137 19h1v1h-1zM141 19h1v1h-1zM159 19h1v1h-1zM162 19h1v1h-1zM166 19h1v1h-1zM168 19h1v1h-1z"/>
<path fill="#001b00" d="M5 0h1v1h-1zM68 0h1v1h-1zM128 0h1v1h-1zM136 0h1v1h-1zM140 0h1v1h-1zM143 0h1v1h-1zM153 0h1v1h-1zM165 0h1v1h-1zM186 0h1v1h-1zM45 1h1v1h-1zM140 1h1v1h-1zM164 1h1v1h-1zM176 1h1v1h-1zM152 2h1v1h-1zM160 2h1v1h-1zM166 2h1v1h-1zM173 2h1v1h-1zM7 3h1v1h-1zM117 3h1v1h-1zM121 3h1v1h-1zM133 3h1v1h-1zM149 3h1v1h-1zM168 3h1v1h-1zM175 3h1v1h-1zM33 4h1v1h-1zM79 4h1v1h-1zM84 4h1v1h-1zM109 4h1v1h-1zM154 4h1v1h-1zM181 4h1v1h-1zM3 5h1v1h-1zM24 5h1v1h-1zM29 5h1v1h-1zM39 5h1v1h-1zM91 5h1v1h-1zM95 5h1v1h-1zM107 5h1v1h-1zM120 5h1v1h-1zM131 5h1v1h-1zM165 5h1v1h-1zM28 6h1v1h-1zM36 6h1v1h-1zM42 6h1v1h-1zM74 6h1v1h-1zM108 6h1v1h-1zM140 6h1v1h-1zM146 6h1v1h-1zM149 6h1v1h-1zM175 6h1v1h-1zM16 7h1v1h-1zM22 7h1v1h-1zM27 7h1v1h-1zM32 7h1v1h-1zM33 7h1v1h-1zM94 7h1v1h-1zM95 7h1v1h-1zM119 7h1v1h-1zM130 7h1v1h-1zM132 7h1v1h-1zM143 7h1v1h-1zM189 7h1v1h-1zM50 8h1v1h-1zM101 8h1v1h-1zM109 8h1v1h-1zM119 8h1v1h-1zM144 8h1v1h-1zM167 8h1v1h-1zM188 8h1v1h-1zM20 9h1v1h-1zM67 9h1v1h-1zM84 9h1v1h-1zM92 9h1v1h-1zM93 9h1v1h-1zM102 9h1v1h-1zM131 9h1v1h-1zM163 9h1v1h-1zM173 9h1v1h-1zM20 10h1v1h-1zM51 10h1v1h-1zM54 10h1v1h-1zM84 10h1v1h-1zM87 10h1v1h-1zM94 10h1v1h-1zM95 10h1v1h-1zM114 10h1v1h-1zM117 10h1v1h-1zM122 10h1v1h-1zM176 10h1v1h-1zM60 11h1v1h-1zM64 11h1v1h-1zM73 11h1v1h-1zM122 11h1v1h-1zM143 11h1v1h-1zM169 11h1v1h-1zM172 11h1v1h-1zM181 11h1v1h-1zM2 12h1v1h-1zM36 12h1v1h-1zM66 12h1v1h-1zM70 12h1v1h-1zM155 12h1v1h-1zM157 12h1v1h-1zM11 13h1v1h-1zM80 13h1v1h-1zM106 13h1v1h-1zM85 14h1v1h-1zM67 15h1v1h-1zM27 16h1v1h-1zM93 16h1v1h-1zM119 16h1v1h-1zM121 16h1v1h-1zM122 16h1v1h-1zM145 16h1v1h-1zM110 17h1v1h-1zM130 17h1v1h-1zM131 17h1v1h-1zM148 17h1v1h-1zM149 17h1v1h-1zM156 17h1v1h-1zM157 17h1v1h-1zM170 17h1v1h-1zM141 18h1v1h-1zM164 18h1v1h-1zM182 19h1v1h-1z"/>
<path fill="#060000" d="M6 0h1v1h-1zM16 0h1v1h-1zM123 0h1v1h-1zM127 0h1v1h-1zM131 0h1v1h-1zM154 0h1v1h-1zM171 0h1v1h-1zM114 1h1v1h-1zM124 1h1v1h-1zM148 1h1v1h-1zM156 1h1v1h-1zM31 2h1v1h-1zM43 2h1v1h-1zM145 2h1v1h-1zM170 2h1v1h-1zM171 2h1v1h-1zM177 2h1v1h-1zM8 3h1v1h-1zM22 3h1v1h-1zM122 3h1v1h-1zM129 3h1v1h-1zM139 3h1v1h-1zM179 3h1v1h-1zM182 3h1v1h-1zM187 3h1v1h-1zM13 4h1v1h-1zM16 4h1v1h-1zM22 4h1v1h-1zM25 4h1v1h-1zM74 4h1v1h-1zM82 4h1v1h-1zM129 4h1v1h-1zM158 4h1v1h-1zM175 4h1v1h-1zM11 5h1v1h-1zM12 5h1v1h-1zM14 5h1v1h-1zM35 5h1v1h-1zM38 5h1v1h-1zM73 5h1v1h-1zM79 5h1v1h-1zM84 5h1v1h-1zM134 5h1v1h-1zM146 5h1v1h-1zM188 5h1v1h-1zM21 6h1v1h-1zM26 6h1v1h-1zM33 6h1v1h-1zM40 6h1v1h-1zM44 6h1v1h-1zM92 6h1v1h-1zM95 6h1v1h-1zM151 6h1v1h-1zM1 7h1v1h-1zM6 7h1v1h-1zM134 7h1v1h-1zM137 7h1v1h-1zM138 7h1v1h-1zM147 7h1v1h-1zM4 8h1v1h-1zM15 8h1v1h-1zM43 8h1v1h-1zM49 8h1v1h-1zM52 8h1v1h-1zM66 8h1v1h-1zM74 8h1v1h-1zM76 8h1v1h-1zM77 8h1v1h-1zM90 8h1v1h-1zM97 8h1v1h-1zM114 8h1v1h-1zM142 8h1v1h-1zM147 8h1v1h-1zM156 8h1v1h-1zM161 8h1v1h-1zM181 8h1v1h-1zM22 9h1v1h-1zM52 9h1v1h-1zM61 9h1v1h-1zM83 9h1v1h-1zM86 9h1v1h-1zM90 9h1v1h-1zM101 9h1v1h-1zM115 9h1v1h-1zM144 9h1v1h-1zM151 9h1v1h-1zM13 10h1v1h-1zM32 10h1v1h-1zM49 10h1v1h-1zM60 10h1v1h-1zM70 10h1v1h-1zM85 10h1v1h-1zM124 10h1v1h-1zM126 10h1v1h-1zM127 10h1v1h-1zM46 11h1v1h-1zM59 11h1v1h-1zM85 11h1v1h-1zM97 11h1v1h-1zM112 11h1v1h-1zM119 11h1v1h-1zM124 11h1v1h-1zM153 11h1v1h-1zM161 11h1v1h-1zM165 11h1v1h-1zM78 12h1v1h-1zM83 12h1v1h-1zM84 12h1v1h-1zM98 12h1v1h-1zM100 12h1v1h-1zM104 12h1v1h-1zM105 12h1v1h-1zM128 12h1v1h-1zM12 13h1v1h-1zM81 13h1v1h-1zM108 13h1v1h-1zM87 14h1v1h-1zM105 15h1v1h-1zM126 15h1v1h-1zM2 16h1v1h-1zM108 16h1v1h-1zM118 16h1v1h-1zM50 17h1v1h-1zM140 17h1v1h-1zM144 17h1v1h-1zM161 17h1v1h-1zM174 17h1v1h-1zM188 17h1v1h-1zM88 18h1v1h-1zM147 18h1v1h-1zM151 18h1v1h-1zM166 18h1v1h-1zM169 18h1v1h-1zM177 18h1v1h-1zM180 18h1v1h-1zM184 18h1v1h-1zM186 18h1v1h-1zM143 19h1v1h-1zM150 19h1v1h-1zM153 19h1v1h-1zM161 19h1v1h-1zM164 19h1v1h-1zM171 19h1v1h-1zM173 19h1v1h-1z"/>
<path fill="#000d00" d="M7 0h1v1h-1zM120 0h1v1h-1zM166 0h1v1h-1zM172 0h1v1h-1zM14 1h1v1h-1zM20 1h1v1h-1zM133 1h1v1h-1zM134 1h1v1h-1zM159 1h1v1h-1zM181 1h1v1h-1zM188 1h1v1h-1zM3 2h1v1h-1zM71 2h1v1h-1zM147 2h1v1h-1zM153 2h1v1h-1zM0 3h1v1h-1zM68 3h1v1h-1zM116 3h1v1h-1zM120 3h1v1h-1zM124 3h1v1h-1zM140 3h1v1h-1zM142 3h1v1h-1zM143 3h1v1h-1zM173 3h1v1h-1zM40 4h1v1h-1zM76 4h1v1h-1zM112 4h1v1h-1zM116 4h1v1h-1zM141 4h1v1h-1zM171 4h1v1h-1zM20 5h1v1h-1zM42 5h1v1h-1zM97 5h1v1h-1zM182 5h1v1h-1zM38 6h1v1h-1zM71 6h1v1h-1zM85 6h1v1h-1zM158 6h1v1h-1zM186 6h1v1h-1zM39 7h1v1h-1zM79 7h1v1h-1zM86 7h1v1h-1zM89 7h1v1h-1zM90 7h1v1h-1zM108 7h1v1h-1zM110 7h1v1h-1zM186 7h1v1h-1zM3 8h1v1h-1zM7 8h1v1h-1zM23 8h1v1h-1zM33 8h1v1h-1zM46 8h1v1h-1zM47 8h1v1h-1zM57 8h1v1h-1zM87 8h1v1h-1zM89 8h1v1h-1zM122 8h1v1h-1zM127 8h1v1h-1zM128 8h1v1h-1zM130 8h1v1h-1zM133 8h1v1h-1zM155 8h1v1h-1zM182 8h1v1h-1zM9 9h1v1h-1zM47 9h1v1h-1zM56 9h1v1h-1zM60 9h1v1h-1zM82 9h1v1h-1zM122 9h1v1h-1zM164 9h1v1h-1zM171 9h1v1h-1zM187 9h1v1h-1zM48 10h1v1h-1zM55 10h1v1h-1zM104 10h1v1h-1zM115 10h1v1h-1zM158 10h1v1h-1zM170 10h1v1h-1zM20 11h1v1h-1zM52 11h1v1h-1zM68 11h1v1h-1zM115 11h1v1h-1zM118 11h1v1h-1zM140 11h1v1h-1zM46 12h1v1h-1zM89 12h1v1h-1zM111 12h1v1h-1zM44 13h1v1h-1zM14 14h1v1h-1zM44 14h1v1h-1zM60 14h1v1h-1zM90 14h1v1h-1zM96 14h1v1h-1zM84 15h1v1h-1zM98 15h1v1h-1zM52 16h1v1h-1zM110 16h1v1h-1zM155 16h1v1h-1zM47 17h1v1h-1zM49 17h1v1h-1zM151 17h1v1h-1zM164 17h1v1h-1zM182 17h1v1h-1zM13 18h1v1h-1zM48 18h1v1h-1zM59 18h1v1h-1zM138 18h1v1h-1zM153 18h1v1h-1zM158 18h1v1h-1zM159 18h1v1h-1zM163 18h1v1h-1zM167 18h1v1h-1zM173 18h1v1h-1zM183 18h1v1h-1zM44 19h1v1h-1zM57 19h1v1h-1zM127 19h1v1h-1zM134 19h1v1h-1zM136 19h1v1h-1zM138 19h1v1h-1zM178 19h1v1h-1zM184 19h1v1h-1z"/>
<path fill="#087d08" d="M8 0h1v1h-1zM160 0h1v1h-1zM173 0h1v1h-1zM174 0h1v1h-1zM8 1h1v1h-1zM145 1h1v1h-1zM151 1h1v1h-1zM185 2h1v1h-1zM126 3h1v1h-1zM144 3h1v1h-1zM157 3h1v1h-1zM163 3h1v1h-1zM164 3h1v1h-1zM165 3h1v1h-1zM26 4h1v1h-1zM77 4h1v1h-1zM115 4h1v1h-1zM118 4h1v1h-1zM122 4h1v1h-1zM131 4h1v1h-1zM137 4h1v1h-1zM166 4h1v1h-1zM173 4h1v1h-1zM177 4h1v1h-1zM180 4h1v1h-1zM186 4h1v1h-1zM16 5h1v1h-1zM89 5h1v1h-1zM112 5h1v1h-1zM123 5h1v1h-1zM132 5h1v1h-1zM136 5h1v1h-1zM151 5h1v1h-1zM163 5h1v1h-1zM183 5h1v1h-1zM187 5h1v1h-1zM5 6h1v1h-1zM78 6h1v1h-1zM82 6h1v1h-1zM106 6h1v1h-1zM132 6h1v1h-1zM136 6h1v1h-1zM167 6h1v1h-1zM173 6h1v1h-1zM183 6h1v1h-1zM187 6h1v1h-1zM128 7h1v1h-1zM165 7h1v1h-1zM167 7h1v1h-1zM173 7h1v1h-1zM177 7h1v1h-1zM188 7h1v1h-1zM68 8h1v1h-1zM129 8h1v1h-1zM145 8h1v1h-1zM153 8h1v1h-1zM77 9h1v1h-1zM136 9h1v1h-1zM138 9h1v1h-1zM143 9h1v1h-1zM172 9h1v1h-1zM189 9h1v1h-1zM71 10h1v1h-1zM132 10h1v1h-1zM139 10h1v1h-1zM145 10h1v1h-1zM175 10h1v1h-1zM180 10h1v1h-1zM188 10h1v1h-1zM63 11h1v1h-1zM95 11h1v1h-1zM145 11h1v1h-1zM155 11h1v1h-1zM166 11h1v1h-1zM174 11h1v1h-1zM12 12h1v1h-1zM14 12h1v1h-1zM18 12h1v1h-1zM19 12h1v1h-1zM31 12h1v1h-1zM45 12h1v1h-1zM65 12h1v1h-1zM72 12h1v1h-1zM40 13h1v1h-1zM70 13h1v1h-1zM0 14h1v1h-1zM5 14h1v1h-1zM7 14h1v1h-1zM12 14h1v1h-1zM17 14h1v1h-1zM24 14h1v1h-1zM29 14h1v1h-1zM37 14h1v1h-1zM54 14h1v1h-1zM61 14h1v1h-1zM70 14h1v1h-1zM105 14h1v1h-1zM16 15h1v1h-1zM33 15h1v1h-1zM21 16h1v1h-1zM28 16h1v1h-1zM29 16h1v1h-1zM33 16h1v1h-1zM39 16h1v1h-1zM53 16h1v1h-1zM60 16h1v1h-1zM100 16h1v1h-1zM117 16h1v1h-1zM125 16h1v1h-1zM21 17h1v1h-1zM31 17h1v1h-1zM32 17h1v1h-1zM33 17h1v1h-1zM57 17h1v1h-1zM63 17h1v1h-1zM65 17h1v1h-1zM74 17h1v1h-1zM79 17h1v1h-1zM16 18h1v1h-1zM23 18h1v1h-1zM24 18h1v1h-1zM38 18h1v1h-1zM63 18h1v1h-1zM66 18h1v1h-1zM71 18h1v1h-1zM97 18h1v1h-1zM102 18h1v1h-1zM29 19h1v1h-1zM35 19h1v1h-1zM52 19h1v1h-1zM110 19h1v1h-1zM119 19h1v1h-1z"/>
<path fill="#6a0606" d="M10 0h1v1h-1zM29 0h1v1h-1zM34 0h1v1h-1zM48 0h1v1h-1zM67 0h1v1h-1zM82 0h1v1h-1zM85 0h1v1h-1zM19 1h1v1h-1zM32 1h1v1h-1zM65 1h1v1h-1zM66 1h1v1h-1zM75 1h1v1h-1zM109 1h1v1h-1zM10 2h1v1h-1zM16 2h1v1h-1zM47 2h1v1h-1zM53 2h1v1h-1zM57 2h1v1h-1zM68 2h1v1h-1zM103 2h1v1h-1zM10 3h1v1h-1zM23 3h1v1h-1zM43 3h1v1h-1zM82 3h1v1h-1zM86 3h1v1h-1zM101 3h1v1h-1zM104 3h1v1h-1zM110 3h1v1h-1zM55 4h1v1h-1zM46 6h1v1h-1zM65 6h1v1h-1zM13 7h1v1h-1zM62 7h1v1h-1zM42 8h1v1h-1zM44 8h1v1h-1zM93 8h1v1h-1zM2 9h1v1h-1zM36 9h1v1h-1zM37 9h1v1h-1zM91 9h1v1h-1zM95 9h1v1h-1zM105 9h1v1h-1zM16 10h1v1h-1zM17 10h1v1h-1zM33 10h1v1h-1zM38 10h1v1h-1zM82 10h1v1h-1zM21 11h1v1h-1zM29 11h1v1h-1zM33 11h1v1h-1zM41 11h1v1h-1zM45 11h1v1h-1zM114 11h1v1h-1zM120 11h1v1h-1zM88 12h1v1h-1zM95 12h1v1h-1zM121 12h1v1h-1zM133 12h1v1h-1zM150 12h1v1h-1zM168 12h1v1h-1zM172 12h1v1h-1zM189 12h1v1h-1zM93 13h1v1h-1zM101 13h1v1h-1zM105 13h1v1h-1zM141 13h1v1h-1zM150 13h1v1h-1zM157 13h1v1h-1zM162 13h1v1h-1zM169 13h1v1h-1zM173 13h1v1h-1zM122 14h1v1h-1zM131 14h1v1h-1zM137 14h1v1h-1zM189 14h1v1h-1zM142 15h1v1h-1zM153 15h1v1h-1zM184 15h1v1h-1zM5 16h1v1h-1zM11 16h1v1h-1zM12 16h1v1h-1zM151 16h1v1h-1zM153 16h1v1h-1zM158 16h1v1h-1zM172 16h1v1h-1zM183 16h1v1h-1zM187 16h1v1h-1zM5 19h1v1h-1zM177 19h1v1h-1z"/>
<path fill="#c01313" d="M11 0h1v1h-1zM77 0h1v1h-1zM103 0h1v1h-1zM93 1h1v1h-1zM49 2h1v1h-1zM94 2h1v1h-1zM51 6h1v1h-1zM47 7h1v1h-1zM67 7h1v1h-1zM40 10h1v1h-1zM186 12h1v1h-1zM182 13h1v1h-1zM158 15h1v1h-1zM174 15h1v1h-1zM146 16h1v1h-1z"/>
<path fill="#560404" d="M12 0h1v1h-1zM24 0h1v1h-1zM39 0h1v1h-1zM59 0h1v1h-1zM60 0h1v1h-1zM64 0h1v1h-1zM74 0h1v1h-1zM78 0h1v1h-1zM104 0h1v1h-1zM29 1h1v1h-1zM43 1h1v1h-1zM62 1h1v1h-1zM83 1h1v1h-1zM85 1h1v1h-1zM72 2h1v1h-1zM75 2h1v1h-1zM98 2h1v1h-1zM107 2h1v1h-1zM11 3h1v1h-1zM32 3h1v1h-1zM41 3h1v1h-1zM69 3h1v1h-1zM73 3h1v1h-1zM84 3h1v1h-1zM93 3h1v1h-1zM167 3h1v1h-1zM7 4h1v1h-1zM19 4h1v1h-1zM23 4h1v1h-1zM52 4h1v1h-1zM53 4h1v1h-1zM62 4h1v1h-1zM0 5h1v1h-1zM6 5h1v1h-1zM52 5h1v1h-1zM71 5h1v1h-1zM57 6h1v1h-1zM134 6h1v1h-1zM59 7h1v1h-1zM69 7h1v1h-1zM36 8h1v1h-1zM41 8h1v1h-1zM45 8h1v1h-1zM103 8h1v1h-1zM1 9h1v1h-1zM17 9h1v1h-1zM21 9h1v1h-1zM34 9h1v1h-1zM107 9h1v1h-1zM118 9h1v1h-1zM1 10h1v1h-1zM44 10h1v1h-1zM45 10h1v1h-1zM67 10h1v1h-1zM86 10h1v1h-1zM17 11h1v1h-1zM40 11h1v1h-1zM91 11h1v1h-1zM92 12h1v1h-1zM103 12h1v1h-1zM113 12h1v1h-1zM120 12h1v1h-1zM134 12h1v1h-1zM138 12h1v1h-1zM143 12h1v1h-1zM145 12h1v1h-1zM152 12h1v1h-1zM102 13h1v1h-1zM103 13h1v1h-1zM109 13h1v1h-1zM115 13h1v1h-1zM128 13h1v1h-1zM167 13h1v1h-1zM83 14h1v1h-1zM113 14h1v1h-1zM117 14h1v1h-1zM119 14h1v1h-1zM152 14h1v1h-1zM170 14h1v1h-1zM181 14h1v1h-1zM187 14h1v1h-1zM114 15h1v1h-1zM130 15h1v1h-1zM137 15h1v1h-1zM141 15h1v1h-1zM143 15h1v1h-1zM175 16h1v1h-1zM142 17h1v1h-1zM128 18h1v1h-1zM1 19h1v1h-1z"/>
<path fill="#390202" d="M13 0h1v1h-1zM21 0h1v1h-1zM26 0h1v1h-1zM27 0h1v1h-1zM31 0h1v1h-1zM35 0h1v1h-1zM47 0h1v1h-1zM70 0h1v1h-1zM71 0h1v1h-1zM99 0h1v1h-1zM109 0h1v1h-1zM129 0h1v1h-1zM142 0h1v1h-1zM178 0h1v1h-1zM10 1h1v1h-1zM22 1h1v1h-1zM28 1h1v1h-1zM34 1h1v1h-1zM35 1h1v1h-1zM38 1h1v1h-1zM40 1h1v1h-1zM60 1h1v1h-1zM64 1h1v1h-1zM70 1h1v1h-1zM72 1h1v1h-1zM108 1h1v1h-1zM116 1h1v1h-1zM22 2h1v1h-1zM24 2h1v1h-1zM58 2h1v1h-1zM62 2h1v1h-1zM102 2h1v1h-1zM159 2h1v1h-1zM16 3h1v1h-1zM31 3h1v1h-1zM47 3h1v1h-1zM50 3h1v1h-1zM66 3h1v1h-1zM67 3h1v1h-1zM70 3h1v1h-1zM77 3h1v1h-1zM171 3h1v1h-1zM4 4h1v1h-1zM12 4h1v1h-1zM15 4h1v1h-1zM69 4h1v1h-1zM15 5h1v1h-1zM41 5h1v1h-1zM50 5h1v1h-1zM80 5h1v1h-1zM12 6h1v1h-1zM47 6h1v1h-1zM59 6h1v1h-1zM67 6h1v1h-1zM69 6h1v1h-1zM129 6h1v1h-1zM3 7h1v1h-1zM4 7h1v1h-1zM12 7h1v1h-1zM14 7h1v1h-1zM53 7h1v1h-1zM1 8h1v1h-1zM18 8h1v1h-1zM24 8h1v1h-1zM29 8h1v1h-1zM55 8h1v1h-1zM69 8h1v1h-1zM33 9h1v1h-1zM38 9h1v1h-1zM40 9h1v1h-1zM45 9h1v1h-1zM51 9h1v1h-1zM114 9h1v1h-1zM24 10h1v1h-1zM35 10h1v1h-1zM39 10h1v1h-1zM50 10h1v1h-1zM76 10h1v1h-1zM96 10h1v1h-1zM15 11h1v1h-1zM25 11h1v1h-1zM31 11h1v1h-1zM38 11h1v1h-1zM74 11h1v1h-1zM125 11h1v1h-1zM91 12h1v1h-1zM101 12h1v1h-1zM108 12h1v1h-1zM118 12h1v1h-1zM130 12h1v1h-1zM151 12h1v1h-1zM163 12h1v1h-1zM182 12h1v1h-1zM99 13h1v1h-1zM111 13h1v1h-1zM131 13h1v1h-1zM147 13h1v1h-1zM152 13h1v1h-1zM102 14h1v1h-1zM104 14h1v1h-1zM123 15h1v1h-1zM125 15h1v1h-1zM145 15h1v1h-1zM175 15h1v1h-1zM189 15h1v1h-1zM6 16h1v1h-1zM148 16h1v1h-1zM152 16h1v1h-1zM161 16h1v1h-1zM168 16h1v1h-1zM178 16h1v1h-1zM186 16h1v1h-1zM3 17h1v1h-1zM7 17h1v1h-1zM8 17h1v1h-1zM127 17h1v1h-1zM152 17h1v1h-1zM160 17h1v1h-1zM169 17h1v1h-1zM179 17h1v1h-1zM185 17h1v1h-1zM186 17h1v1h-1zM8 18h1v1h-1zM135 18h1v1h-1zM157 18h1v1h-1zM170 18h1v1h-1zM187 18h1v1h-1zM2 19h1v1h-1zM152 19h1v1h-1z"/>
<path fill="#4c0303" d="M14 0h1v1h-1zM17 0h1v1h-1zM23 0h1v1h-1zM28 0h1v1h-1zM53 0h1v1h-1zM95 0h1v1h-1zM134 0h1v1h-1zM15 1h1v1h-1zM23 1h1v1h-1zM27 1h1v1h-1zM31 1h1v1h-1zM51 1h1v1h-1zM52 1h1v1h-1zM77 1h1v1h-1zM79 1h1v1h-1zM104 1h1v1h-1zM17 2h1v1h-1zM42 2h1v1h-1zM65 2h1v1h-1zM80 2h1v1h-1zM86 2h1v1h-1zM33 3h1v1h-1zM35 3h1v1h-1zM40 3h1v1h-1zM55 3h1v1h-1zM56 3h1v1h-1zM60 3h1v1h-1zM76 3h1v1h-1zM96 3h1v1h-1zM9 4h1v1h-1zM14 4h1v1h-1zM21 4h1v1h-1zM34 4h1v1h-1zM46 4h1v1h-1zM50 4h1v1h-1zM59 4h1v1h-1zM64 4h1v1h-1zM65 4h1v1h-1zM67 4h1v1h-1zM68 4h1v1h-1zM48 5h1v1h-1zM51 5h1v1h-1zM8 6h1v1h-1zM55 6h1v1h-1zM60 6h1v1h-1zM110 6h1v1h-1zM0 7h1v1h-1zM54 7h1v1h-1zM61 7h1v1h-1zM64 7h1v1h-1zM65 7h1v1h-1zM26 8h1v1h-1zM37 8h1v1h-1zM78 8h1v1h-1zM111 8h1v1h-1zM12 9h1v1h-1zM13 9h1v1h-1zM29 9h1v1h-1zM43 9h1v1h-1zM22 10h1v1h-1zM42 10h1v1h-1zM97 10h1v1h-1zM112 10h1v1h-1zM119 10h1v1h-1zM10 11h1v1h-1zM13 11h1v1h-1zM16 11h1v1h-1zM18 11h1v1h-1zM84 11h1v1h-1zM86 12h1v1h-1zM94 12h1v1h-1zM106 12h1v1h-1zM171 12h1v1h-1zM173 12h1v1h-1zM175 12h1v1h-1zM178 12h1v1h-1zM74 13h1v1h-1zM84 13h1v1h-1zM95 13h1v1h-1zM120 13h1v1h-1zM140 13h1v1h-1zM142 13h1v1h-1zM151 13h1v1h-1zM175 13h1v1h-1zM78 14h1v1h-1zM108 14h1v1h-1zM114 14h1v1h-1zM123 14h1v1h-1zM126 14h1v1h-1zM128 14h1v1h-1zM142 14h1v1h-1zM156 14h1v1h-1zM157 14h1v1h-1zM175 14h1v1h-1zM78 15h1v1h-1zM93 15h1v1h-1zM110 15h1v1h-1zM151 15h1v1h-1zM154 15h1v1h-1zM1 16h1v1h-1zM4 16h1v1h-1zM130 16h1v1h-1zM134 16h1v1h-1zM147 16h1v1h-1zM162 16h1v1h-1zM11 17h1v1h-1zM129 17h1v1h-1zM146 17h1v1h-1zM3 18h1v1h-1zM15 18h1v1h-1zM165 18h1v1h-1zM142 19h1v1h-1zM186 19h1v1h-1z"/>
<path fill="#024502" d="M15 0h1v1h-1zM146 0h1v1h-1zM148 0h1v1h-1zM180 0h1v1h-1zM182 0h1v1h-1zM113 1h1v1h-1zM121 1h1v1h-1zM128 1h1v1h-1zM132 1h1v1h-1zM137 1h1v1h-1zM144 1h1v1h-1zM155 1h1v1h-1zM167 1h1v1h-1zM170 1h1v1h-1zM173 1h1v1h-1zM174 1h1v1h-1zM184 1h1v1h-1zM187 1h1v1h-1zM189 1h1v1h-1zM128 2h1v1h-1zM142 2h1v1h-1zM164 2h1v1h-1zM181 2h1v1h-1zM189 2h1v1h-1zM132 3h1v1h-1zM136 3h1v1h-1zM169 3h1v1h-1zM121 4h1v1h-1zM148 4h1v1h-1zM150 4h1v1h-1zM153 4h1v1h-1zM159 4h1v1h-1zM161 4h1v1h-1zM162 4h1v1h-1zM168 4h1v1h-1zM18 5h1v1h-1zM31 5h1v1h-1zM40 5h1v1h-1zM105 5h1v1h-1zM124 5h1v1h-1zM139 5h1v1h-1zM158 5h1v1h-1zM160 5h1v1h-1zM166 5h1v1h-1zM35 6h1v1h-1zM105 6h1v1h-1zM120 6h1v1h-1zM131 6h1v1h-1zM145 6h1v1h-1zM179 6h1v1h-1zM19 7h1v1h-1zM24 7h1v1h-1zM25 7h1v1h-1zM77 7h1v1h-1zM83 7h1v1h-1zM100 7h1v1h-1zM104 7h1v1h-1zM120 7h1v1h-1zM124 7h1v1h-1zM144 7h1v1h-1zM162 7h1v1h-1zM169 7h1v1h-1zM64 8h1v1h-1zM71 8h1v1h-1zM91 8h1v1h-1zM19 9h1v1h-1zM55 9h1v1h-1zM64 9h1v1h-1zM76 9h1v1h-1zM162 9h1v1h-1zM181 9h1v1h-1zM69 10h1v1h-1zM77 10h1v1h-1zM83 10h1v1h-1zM113 10h1v1h-1zM123 10h1v1h-1zM150 10h1v1h-1zM169 10h1v1h-1zM53 11h1v1h-1zM65 11h1v1h-1zM71 11h1v1h-1zM129 11h1v1h-1zM168 11h1v1h-1zM3 12h1v1h-1zM10 12h1v1h-1zM25 12h1v1h-1zM26 12h1v1h-1zM39 12h1v1h-1zM40 12h1v1h-1zM51 12h1v1h-1zM64 12h1v1h-1zM55 13h1v1h-1zM43 14h1v1h-1zM56 14h1v1h-1zM11 15h1v1h-1zM92 15h1v1h-1zM104 15h1v1h-1zM16 16h1v1h-1zM34 16h1v1h-1zM50 16h1v1h-1zM59 16h1v1h-1zM62 16h1v1h-1zM67 16h1v1h-1zM76 16h1v1h-1zM78 16h1v1h-1zM79 16h1v1h-1zM91 16h1v1h-1zM101 16h1v1h-1zM104 16h1v1h-1zM46 17h1v1h-1zM62 17h1v1h-1zM66 17h1v1h-1zM119 17h1v1h-1zM128 17h1v1h-1zM165 17h1v1h-1zM32 18h1v1h-1zM65 18h1v1h-1zM74 18h1v1h-1zM175 18h1v1h-1zM18 19h1v1h-1zM27 19h1v1h-1zM38 19h1v1h-1zM129 19h1v1h-1zM132 19h1v1h-1zM147 19h1v1h-1zM155 19h1v1h-1zM185 19h1v1h-1z"/>
<path fill="#430303" d="M18 0h1v1h-1zM22 0h1v1h-1zM42 0h1v1h-1zM56 0h1v1h-1zM65 0h1v1h-1zM86 0h1v1h-1zM107 0h1v1h-1zM13 1h1v1h-1zM17 1h1v1h-1zM57 1h1v1h-1zM91 1h1v1h-1zM127 1h1v1h-1zM12 2h1v1h-1zM29 2h1v1h-1zM41 2h1v1h-1zM50 2h1v1h-1zM61 2h1v1h-1zM113 2h1v1h-1zM114 2h1v1h-1zM18 3h1v1h-1zM24 3h1v1h-1zM72 3h1v1h-1zM111 3h1v1h-1zM2 4h1v1h-1zM51 4h1v1h-1zM95 4h1v1h-1zM1 5h1v1h-1zM5 5h1v1h-1zM53 5h1v1h-1zM72 5h1v1h-1zM43 6h1v1h-1zM50 7h1v1h-1zM57 7h1v1h-1zM72 7h1v1h-1zM54 8h1v1h-1zM86 8h1v1h-1zM3 9h1v1h-1zM6 9h1v1h-1zM4 10h1v1h-1zM7 10h1v1h-1zM15 10h1v1h-1zM43 10h1v1h-1zM0 11h1v1h-1zM7 11h1v1h-1zM32 11h1v1h-1zM37 11h1v1h-1zM42 11h1v1h-1zM57 11h1v1h-1zM93 11h1v1h-1zM106 11h1v1h-1zM121 11h1v1h-1zM176 11h1v1h-1zM77 12h1v1h-1zM97 12h1v1h-1zM110 12h1v1h-1zM116 12h1v1h-1zM132 12h1v1h-1zM167 12h1v1h-1zM188 12h1v1h-1zM166 13h1v1h-1zM73 14h1v1h-1zM112 14h1v1h-1zM130 14h1v1h-1zM144 14h1v1h-1zM174 14h1v1h-1zM180 14h1v1h-1zM183 14h1v1h-1zM101 15h1v1h-1zM128 15h1v1h-1zM166 15h1v1h-1zM173 15h1v1h-1zM181 15h1v1h-1zM8 16h1v1h-1zM131 16h1v1h-1zM137 16h1v1h-1zM144 16h1v1h-1zM163 16h1v1h-1zM179 16h1v1h-1zM158 17h1v1h-1zM163 17h1v1h-1zM173 17h1v1h-1zM143 18h1v1h-1zM12 19h1v1h-1zM148 19h1v1h-1zM180 19h1v1h-1z"/>
<path fill="#300101" d="M20 0h1v1h-1zM30 0h1v1h-1zM40 0h1v1h-1zM110 0h1v1h-1zM112 0h1v1h-1zM114 0h1v1h-1zM115 0h1v1h-1zM124 0h1v1h-1zM18 1h1v1h-1zM33 1h1v1h-1zM42 1h1v1h-1zM44 1h1v1h-1zM48 1h1v1h-1zM68 1h1v1h-1zM129 1h1v1h-1zM13 2h1v1h-1zM14 2h1v1h-1zM28 2h1v1h-1zM59 2h1v1h-1zM60 2h1v1h-1zM96 2h1v1h-1zM117 2h1v1h-1zM120 2h1v1h-1zM122 2h1v1h-1zM19 3h1v1h-1zM59 3h1v1h-1zM107 3h1v1h-1zM177 3h1v1h-1zM11 4h1v1h-1zM32 4h1v1h-1zM63 4h1v1h-1zM108 4h1v1h-1zM119 4h1v1h-1zM8 5h1v1h-1zM63 5h1v1h-1zM65 5h1v1h-1zM67 5h1v1h-1zM69 5h1v1h-1zM0 6h1v1h-1zM3 6h1v1h-1zM4 6h1v1h-1zM25 6h1v1h-1zM5 7h1v1h-1zM9 7h1v1h-1zM23 7h1v1h-1zM71 7h1v1h-1zM145 7h1v1h-1zM13 8h1v1h-1zM14 8h1v1h-1zM27 8h1v1h-1zM31 8h1v1h-1zM100 8h1v1h-1zM102 8h1v1h-1zM108 8h1v1h-1zM132 8h1v1h-1zM135 8h1v1h-1zM14 9h1v1h-1zM16 9h1v1h-1zM62 9h1v1h-1zM80 9h1v1h-1zM103 9h1v1h-1zM10 10h1v1h-1zM12 10h1v1h-1zM28 10h1v1h-1zM34 10h1v1h-1zM52 10h1v1h-1zM75 10h1v1h-1zM78 10h1v1h-1zM79 10h1v1h-1zM109 10h1v1h-1zM111 10h1v1h-1zM3 11h1v1h-1zM11 11h1v1h-1zM22 11h1v1h-1zM28 11h1v1h-1zM76 11h1v1h-1zM134 11h1v1h-1zM157 11h1v1h-1zM73 12h1v1h-1zM96 12h1v1h-1zM165 12h1v1h-1zM91 13h1v1h-1zM92 13h1v1h-1zM97 13h1v1h-1zM116 13h1v1h-1zM136 13h1v1h-1zM80 14h1v1h-1zM95 14h1v1h-1zM118 14h1v1h-1zM127 14h1v1h-1zM147 14h1v1h-1zM163 14h1v1h-1zM86 15h1v1h-1zM88 15h1v1h-1zM100 15h1v1h-1zM107 15h1v1h-1zM118 15h1v1h-1zM133 15h1v1h-1zM159 16h1v1h-1zM164 16h1v1h-1zM180 16h1v1h-1zM135 17h1v1h-1zM137 17h1v1h-1zM141 17h1v1h-1zM189 17h1v1h-1zM7 18h1v1h-1zM140 18h1v1h-1zM154 18h1v1h-1zM176 18h1v1h-1zM178 18h1v1h-1zM6 19h1v1h-1zM10 19h1v1h-1zM15 19h1v1h-1zM130 19h1v1h-1zM140 19h1v1h-1zM160 19h1v1h-1zM187 19h1v1h-1z"/>
<path fill="#8a0a0a" d="M33 0h1v1h-1zM83 0h1v1h-1zM89 0h1v1h-1zM49 1h1v1h-1zM73 1h1v1h-1zM11 2h1v1h-1zM67 2h1v1h-1zM87 2h1v1h-1zM101 2h1v1h-1zM106 2h1v1h-1zM51 3h1v1h-1zM52 3h1v1h-1zM75 3h1v1h-1zM87 3h1v1h-1zM118 3h1v1h-1zM37 4h1v1h-1zM70 4h1v1h-1zM55 5h1v1h-1zM61 5h1v1h-1zM62 5h1v1h-1zM48 6h1v1h-1zM0 9h1v1h-1zM28 9h1v1h-1zM125 9h1v1h-1zM0 10h1v1h-1zM76 12h1v1h-1zM124 12h1v1h-1zM147 12h1v1h-1zM149 12h1v1h-1zM180 12h1v1h-1zM174 13h1v1h-1zM189 13h1v1h-1zM75 14h1v1h-1zM93 14h1v1h-1zM134 14h1v1h-1zM141 14h1v1h-1zM167 14h1v1h-1zM184 14h1v1h-1zM185 14h1v1h-1zM188 14h1v1h-1zM148 15h1v1h-1zM149 15h1v1h-1zM150 15h1v1h-1zM7 16h1v1h-1zM136 16h1v1h-1zM173 16h1v1h-1zM12 18h1v1h-1zM14 19h1v1h-1z"/>
<path fill="#9f0d0d" d="M37 0h1v1h-1zM88 0h1v1h-1zM102 0h1v1h-1zM25 1h1v1h-1zM39 1h1v1h-1zM44 2h1v1h-1zM48 2h1v1h-1zM76 2h1v1h-1zM79 2h1v1h-1zM89 2h1v1h-1zM97 2h1v1h-1zM28 3h1v1h-1zM48 3h1v1h-1zM49 3h1v1h-1zM1 6h1v1h-1zM49 6h1v1h-1zM61 6h1v1h-1zM136 12h1v1h-1zM158 12h1v1h-1zM187 12h1v1h-1zM126 13h1v1h-1zM129 13h1v1h-1zM144 13h1v1h-1zM154 13h1v1h-1zM179 13h1v1h-1zM120 14h1v1h-1zM159 14h1v1h-1zM160 14h1v1h-1zM186 14h1v1h-1zM136 15h1v1h-1zM138 15h1v1h-1zM162 15h1v1h-1zM172 15h1v1h-1zM183 15h1v1h-1zM185 16h1v1h-1z"/>
<path fill="#aa0f0f" d="M38 0h1v1h-1zM46 0h1v1h-1zM55 0h1v1h-1zM72 0h1v1h-1zM94 0h1v1h-1zM105 0h1v1h-1zM24 1h1v1h-1zM58 1h1v1h-1zM15 2h1v1h-1zM55 2h1v1h-1zM83 2h1v1h-1zM58 3h1v1h-1zM79 3h1v1h-1zM91 3h1v1h-1zM100 3h1v1h-1zM102 3h1v1h-1zM103 3h1v1h-1zM106 3h1v1h-1zM70 5h1v1h-1zM70 6h1v1h-1zM46 7h1v1h-1zM49 7h1v1h-1zM70 7h1v1h-1zM153 12h1v1h-1zM176 12h1v1h-1zM125 13h1v1h-1zM165 13h1v1h-1zM168 13h1v1h-1zM171 13h1v1h-1zM178 13h1v1h-1zM186 13h1v1h-1zM74 14h1v1h-1zM148 14h1v1h-1zM150 14h1v1h-1zM168 14h1v1h-1zM172 14h1v1h-1zM87 15h1v1h-1zM169 15h1v1h-1z"/>
<path fill="#600505" d="M41 0h1v1h-1zM58 0h1v1h-1zM63 0h1v1h-1zM66 0h1v1h-1zM30 1h1v1h-1zM41 1h1v1h-1zM98 1h1v1h-1zM100 1h1v1h-1zM102 1h1v1h-1zM110 1h1v1h-1zM118 1h1v1h-1zM21 2h1v1h-1zM40 2h1v1h-1zM51 2h1v1h-1zM54 2h1v1h-1zM74 2h1v1h-1zM84 2h1v1h-1zM92 2h1v1h-1zM105 2h1v1h-1zM119 2h1v1h-1zM15 3h1v1h-1zM27 3h1v1h-1zM46 3h1v1h-1zM64 3h1v1h-1zM89 3h1v1h-1zM99 3h1v1h-1zM1 4h1v1h-1zM10 4h1v1h-1zM48 4h1v1h-1zM57 4h1v1h-1zM72 4h1v1h-1zM54 5h1v1h-1zM11 6h1v1h-1zM68 6h1v1h-1zM29 7h1v1h-1zM36 7h1v1h-1zM55 7h1v1h-1zM12 8h1v1h-1zM28 8h1v1h-1zM53 8h1v1h-1zM88 8h1v1h-1zM112 8h1v1h-1zM50 9h1v1h-1zM94 9h1v1h-1zM5 10h1v1h-1zM19 10h1v1h-1zM27 10h1v1h-1zM31 10h1v1h-1zM36 10h1v1h-1zM41 10h1v1h-1zM161 10h1v1h-1zM2 11h1v1h-1zM23 11h1v1h-1zM36 11h1v1h-1zM103 11h1v1h-1zM123 12h1v1h-1zM170 12h1v1h-1zM82 13h1v1h-1zM123 13h1v1h-1zM137 13h1v1h-1zM139 13h1v1h-1zM145 13h1v1h-1zM155 13h1v1h-1zM158 13h1v1h-1zM161 13h1v1h-1zM164 13h1v1h-1zM177 13h1v1h-1zM181 13h1v1h-1zM81 14h1v1h-1zM82 14h1v1h-1zM103 14h1v1h-1zM107 14h1v1h-1zM121 14h1v1h-1zM139 14h1v1h-1zM145 14h1v1h-1zM77 15h1v1h-1zM79 15h1v1h-1zM82 15h1v1h-1zM89 15h1v1h-1zM96 15h1v1h-1zM97 15h1v1h-1zM116 15h1v1h-1zM159 15h1v1h-1zM164 15h1v1h-1zM177 15h1v1h-1zM13 16h1v1h-1zM15 16h1v1h-1zM154 16h1v1h-1zM156 16h1v1h-1zM160 16h1v1h-1zM181 16h1v1h-1zM5 17h1v1h-1zM10 17h1v1h-1zM6 18h1v1h-1zM150 18h1v1h-1zM152 18h1v1h-1z"/>
<path fill="#750808" d="M43 0h1v1h-1zM50 0h1v1h-1zM87 0h1v1h-1zM21 1h1v1h-1zM47 1h1v1h-1zM50 1h1v1h-1zM54 1h1v1h-1zM74 1h1v1h-1zM99 1h1v1h-1zM107 1h1v1h-1zM37 2h1v1h-1zM77 2h1v1h-1zM82 2h1v1h-1zM99 2h1v1h-1zM13 3h1v1h-1zM17 3h1v1h-1zM20 3h1v1h-1zM61 3h1v1h-1zM78 3h1v1h-1zM85 3h1v1h-1zM88 3h1v1h-1zM90 3h1v1h-1zM92 3h1v1h-1zM54 4h1v1h-1zM71 4h1v1h-1zM13 5h1v1h-1zM25 5h1v1h-1zM57 5h1v1h-1zM2 6h1v1h-1zM50 6h1v1h-1zM52 6h1v1h-1zM66 6h1v1h-1zM2 7h1v1h-1zM38 8h1v1h-1zM35 9h1v1h-1zM123 9h1v1h-1zM6 10h1v1h-1zM9 10h1v1h-1zM9 11h1v1h-1zM12 11h1v1h-1zM35 11h1v1h-1zM75 12h1v1h-1zM80 12h1v1h-1zM131 12h1v1h-1zM142 12h1v1h-1zM148 12h1v1h-1zM169 12h1v1h-1zM174 12h1v1h-1zM127 13h1v1h-1zM134 13h1v1h-1zM153 13h1v1h-1zM170 13h1v1h-1zM84 14h1v1h-1zM91 14h1v1h-1zM110 14h1v1h-1zM116 14h1v1h-1zM155 14h1v1h-1zM164 14h1v1h-1zM165 14h1v1h-1zM166 14h1v1h-1zM173 14h1v1h-1zM178 14h1v1h-1zM103 15h1v1h-1zM120 15h1v1h-1zM129 15h1v1h-1zM156 15h1v1h-1zM163 15h1v1h-1zM187 15h1v1h-1zM141 16h1v1h-1zM157 16h1v1h-1zM177 16h1v1h-1zM162 17h1v1h-1zM9 19h1v1h-1z"/>
<path fill="#270101" d="M45 0h1v1h-1zM54 0h1v1h-1zM9 1h1v1h-1zM26 1h1v1h-1zM96 1h1v1h-1zM119 1h1v1h-1zM26 2h1v1h-1zM33 2h1v1h-1zM38 2h1v1h-1zM64 2h1v1h-1zM110 2h1v1h-1zM116 2h1v1h-1zM121 2h1v1h-1zM138 2h1v1h-1zM1 3h1v1h-1zM3 3h1v1h-1zM30 3h1v1h-1zM36 3h1v1h-1zM39 3h1v1h-1zM53 3h1v1h-1zM62 3h1v1h-1zM98 3h1v1h-1zM113 3h1v1h-1zM138 3h1v1h-1zM29 4h1v1h-1zM36 4h1v1h-1zM43 4h1v1h-1zM56 5h1v1h-1zM59 5h1v1h-1zM10 6h1v1h-1zM13 6h1v1h-1zM15 6h1v1h-1zM17 6h1v1h-1zM19 6h1v1h-1zM37 6h1v1h-1zM39 6h1v1h-1zM54 6h1v1h-1zM139 6h1v1h-1zM10 7h1v1h-1zM44 7h1v1h-1zM58 7h1v1h-1zM66 7h1v1h-1zM93 7h1v1h-1zM35 8h1v1h-1zM80 8h1v1h-1zM105 8h1v1h-1zM110 8h1v1h-1zM120 8h1v1h-1zM15 9h1v1h-1zM26 9h1v1h-1zM46 9h1v1h-1zM97 9h1v1h-1zM100 9h1v1h-1zM110 9h1v1h-1zM14 10h1v1h-1zM23 10h1v1h-1zM25 10h1v1h-1zM47 10h1v1h-1zM66 10h1v1h-1zM110 10h1v1h-1zM116 10h1v1h-1zM118 10h1v1h-1zM120 10h1v1h-1zM1 11h1v1h-1zM44 11h1v1h-1zM58 11h1v1h-1zM67 11h1v1h-1zM77 11h1v1h-1zM92 11h1v1h-1zM110 11h1v1h-1zM111 11h1v1h-1zM123 11h1v1h-1zM138 11h1v1h-1zM146 11h1v1h-1zM186 11h1v1h-1zM137 12h1v1h-1zM144 12h1v1h-1zM166 12h1v1h-1zM76 13h1v1h-1zM77 13h1v1h-1zM83 13h1v1h-1zM86 13h1v1h-1zM98 13h1v1h-1zM113 13h1v1h-1zM130 13h1v1h-1zM132 13h1v1h-1zM143 13h1v1h-1zM92 14h1v1h-1zM101 14h1v1h-1zM115 14h1v1h-1zM136 14h1v1h-1zM177 14h1v1h-1zM74 15h1v1h-1zM95 15h1v1h-1zM99 15h1v1h-1zM117 15h1v1h-1zM14 16h1v1h-1zM113 16h1v1h-1zM127 16h1v1h-1zM128 16h1v1h-1zM138 16h1v1h-1zM143 16h1v1h-1zM188 16h1v1h-1zM189 16h1v1h-1zM0 17h1v1h-1zM9 17h1v1h-1zM12 17h1v1h-1zM138 17h1v1h-1zM145 17h1v1h-1zM167 17h1v1h-1zM171 17h1v1h-1zM176 17h1v1h-1zM187 17h1v1h-1zM148 18h1v1h-1zM172 18h1v1h-1zM174 18h1v1h-1zM3 19h1v1h-1zM8 19h1v1h-1zM131 19h1v1h-1zM149 19h1v1h-1zM156 19h1v1h-1zM163 19h1v1h-1zM169 19h1v1h-1z"/>
<path fill="#e11919" d="M49 0h1v1h-1zM7 9h1v1h-1zM153 14h1v1h-1zM122 15h1v1h-1zM147 15h1v1h-1z"/>
<path fill="#7f0909" d="M51 0h1v1h-1zM79 0h1v1h-1zM80 0h1v1h-1zM81 0h1v1h-1zM96 0h1v1h-1zM55 1h1v1h-1zM80 1h1v1h-1zM84 1h1v1h-1zM89 1h1v1h-1zM97 1h1v1h-1zM20 2h1v1h-1zM25 2h1v1h-1zM34 2h1v1h-1zM39 2h1v1h-1zM52 2h1v1h-1zM63 2h1v1h-1zM70 2h1v1h-1zM85 2h1v1h-1zM90 2h1v1h-1zM100 2h1v1h-1zM12 3h1v1h-1zM25 3h1v1h-1zM37 3h1v1h-1zM80 3h1v1h-1zM81 3h1v1h-1zM83 3h1v1h-1zM105 3h1v1h-1zM47 4h1v1h-1zM58 4h1v1h-1zM60 4h1v1h-1zM58 5h1v1h-1zM64 5h1v1h-1zM58 6h1v1h-1zM64 6h1v1h-1zM72 6h1v1h-1zM68 7h1v1h-1zM25 9h1v1h-1zM44 9h1v1h-1zM8 10h1v1h-1zM11 10h1v1h-1zM14 11h1v1h-1zM24 11h1v1h-1zM26 11h1v1h-1zM70 11h1v1h-1zM79 12h1v1h-1zM107 12h1v1h-1zM115 12h1v1h-1zM122 12h1v1h-1zM141 12h1v1h-1zM159 12h1v1h-1zM161 12h1v1h-1zM162 12h1v1h-1zM177 12h1v1h-1zM75 13h1v1h-1zM107 13h1v1h-1zM118 13h1v1h-1zM122 13h1v1h-1zM184 13h1v1h-1zM187 13h1v1h-1zM188 13h1v1h-1zM79 14h1v1h-1zM97 14h1v1h-1zM132 14h1v1h-1zM133 14h1v1h-1zM151 14h1v1h-1zM154 14h1v1h-1zM161 14h1v1h-1zM179 14h1v1h-1zM182 14h1v1h-1zM139 15h1v1h-1zM140 15h1v1h-1zM144 15h1v1h-1zM152 15h1v1h-1zM157 15h1v1h-1zM160 15h1v1h-1zM161 15h1v1h-1zM168 15h1v1h-1zM179 15h1v1h-1zM180 15h1v1h-1zM0 16h1v1h-1zM9 16h1v1h-1zM129 16h1v1h-1zM133 16h1v1h-1zM135 16h1v1h-1zM140 16h1v1h-1zM149 16h1v1h-1zM182 16h1v1h-1zM184 16h1v1h-1zM1 17h1v1h-1zM1 18h1v1h-1zM14 18h1v1h-1zM188 18h1v1h-1z"/>
<path fill="#1e0000" d="M52 0h1v1h-1zM108 0h1v1h-1zM119 0h1v1h-1zM36 1h1v1h-1zM56 1h1v1h-1zM63 1h1v1h-1zM67 1h1v1h-1zM69 1h1v1h-1zM87 1h1v1h-1zM120 1h1v1h-1zM122 1h1v1h-1zM126 1h1v1h-1zM179 1h1v1h-1zM30 2h1v1h-1zM32 2h1v1h-1zM45 2h1v1h-1zM2 3h1v1h-1zM9 3h1v1h-1zM29 3h1v1h-1zM65 3h1v1h-1zM95 3h1v1h-1zM172 3h1v1h-1zM8 4h1v1h-1zM30 4h1v1h-1zM38 4h1v1h-1zM111 4h1v1h-1zM9 5h1v1h-1zM10 5h1v1h-1zM27 5h1v1h-1zM47 5h1v1h-1zM140 5h1v1h-1zM173 5h1v1h-1zM6 6h1v1h-1zM16 6h1v1h-1zM27 6h1v1h-1zM29 6h1v1h-1zM34 6h1v1h-1zM53 6h1v1h-1zM62 6h1v1h-1zM88 6h1v1h-1zM11 7h1v1h-1zM20 7h1v1h-1zM30 7h1v1h-1zM41 7h1v1h-1zM51 7h1v1h-1zM63 7h1v1h-1zM10 8h1v1h-1zM16 8h1v1h-1zM39 8h1v1h-1zM62 8h1v1h-1zM63 8h1v1h-1zM115 8h1v1h-1zM124 8h1v1h-1zM136 8h1v1h-1zM148 8h1v1h-1zM4 9h1v1h-1zM27 9h1v1h-1zM41 9h1v1h-1zM63 9h1v1h-1zM66 9h1v1h-1zM69 9h1v1h-1zM79 9h1v1h-1zM108 9h1v1h-1zM111 9h1v1h-1zM134 9h1v1h-1zM26 10h1v1h-1zM29 10h1v1h-1zM53 10h1v1h-1zM73 10h1v1h-1zM103 10h1v1h-1zM106 10h1v1h-1zM186 10h1v1h-1zM6 11h1v1h-1zM30 11h1v1h-1zM81 11h1v1h-1zM116 11h1v1h-1zM117 11h1v1h-1zM126 11h1v1h-1zM42 12h1v1h-1zM67 12h1v1h-1zM109 12h1v1h-1zM112 12h1v1h-1zM119 12h1v1h-1zM160 12h1v1h-1zM79 13h1v1h-1zM87 13h1v1h-1zM88 13h1v1h-1zM94 13h1v1h-1zM96 13h1v1h-1zM133 13h1v1h-1zM160 13h1v1h-1zM76 14h1v1h-1zM77 14h1v1h-1zM94 14h1v1h-1zM100 14h1v1h-1zM124 14h1v1h-1zM129 14h1v1h-1zM146 14h1v1h-1zM73 15h1v1h-1zM76 15h1v1h-1zM91 15h1v1h-1zM102 15h1v1h-1zM121 15h1v1h-1zM170 15h1v1h-1zM107 16h1v1h-1zM132 16h1v1h-1zM150 16h1v1h-1zM2 17h1v1h-1zM15 17h1v1h-1zM132 17h1v1h-1zM133 17h1v1h-1zM147 17h1v1h-1zM159 17h1v1h-1zM5 18h1v1h-1zM142 18h1v1h-1zM144 18h1v1h-1zM161 18h1v1h-1zM162 18h1v1h-1zM4 19h1v1h-1zM7 19h1v1h-1zM179 19h1v1h-1zM181 19h1v1h-1z"/>
<path fill="#b51111" d="M57 0h1v1h-1zM91 0h1v1h-1zM98 0h1v1h-1zM100 0h1v1h-1zM106 0h1v1h-1zM37 1h1v1h-1zM101 1h1v1h-1zM78 2h1v1h-1zM91 2h1v1h-1zM93 2h1v1h-1zM56 6h1v1h-1zM23 9h1v1h-1zM39 9h1v1h-1zM135 12h1v1h-1zM138 13h1v1h-1zM156 13h1v1h-1zM106 14h1v1h-1zM143 14h1v1h-1zM149 14h1v1h-1zM134 15h1v1h-1zM176 15h1v1h-1zM185 15h1v1h-1z"/>
<path fill="#0d0000" d="M62 0h1v1h-1zM69 0h1v1h-1zM117 0h1v1h-1zM122 0h1v1h-1zM167 0h1v1h-1zM169 0h1v1h-1zM185 0h1v1h-1zM16 1h1v1h-1zM61 1h1v1h-1zM106 1h1v1h-1zM150 1h1v1h-1zM180 1h1v1h-1zM69 2h1v1h-1zM104 2h1v1h-1zM109 2h1v1h-1zM144 2h1v1h-1zM146 2h1v1h-1zM158 2h1v1h-1zM176 2h1v1h-1zM182 2h1v1h-1zM184 2h1v1h-1zM38 3h1v1h-1zM114 3h1v1h-1zM115 3h1v1h-1zM146 3h1v1h-1zM185 3h1v1h-1zM5 4h1v1h-1zM20 4h1v1h-1zM56 4h1v1h-1zM101 4h1v1h-1zM140 4h1v1h-1zM149 4h1v1h-1zM21 5h1v1h-1zM44 5h1v1h-1zM74 5h1v1h-1zM125 5h1v1h-1zM138 5h1v1h-1zM30 6h1v1h-1zM86 6h1v1h-1zM102 6h1v1h-1zM111 6h1v1h-1zM126 6h1v1h-1zM143 6h1v1h-1zM169 6h1v1h-1zM43 7h1v1h-1zM125 7h1v1h-1zM25 8h1v1h-1zM40 8h1v1h-1zM67 8h1v1h-1zM81 8h1v1h-1zM82 8h1v1h-1zM84 8h1v1h-1zM94 8h1v1h-1zM98 8h1v1h-1zM104 8h1v1h-1zM125 8h1v1h-1zM126 8h1v1h-1zM158 8h1v1h-1zM18 9h1v1h-1zM31 9h1v1h-1zM58 9h1v1h-1zM70 9h1v1h-1zM75 9h1v1h-1zM78 9h1v1h-1zM85 9h1v1h-1zM117 9h1v1h-1zM120 9h1v1h-1zM121 9h1v1h-1zM153 9h1v1h-1zM158 9h1v1h-1zM161 9h1v1h-1zM182 9h1v1h-1zM2 10h1v1h-1zM93 10h1v1h-1zM99 10h1v1h-1zM102 10h1v1h-1zM135 10h1v1h-1zM136 10h1v1h-1zM19 11h1v1h-1zM27 11h1v1h-1zM39 11h1v1h-1zM82 11h1v1h-1zM87 11h1v1h-1zM88 11h1v1h-1zM24 12h1v1h-1zM28 12h1v1h-1zM61 12h1v1h-1zM93 12h1v1h-1zM126 12h1v1h-1zM51 13h1v1h-1zM73 13h1v1h-1zM90 13h1v1h-1zM86 14h1v1h-1zM83 15h1v1h-1zM85 15h1v1h-1zM94 15h1v1h-1zM115 15h1v1h-1zM103 16h1v1h-1zM142 16h1v1h-1zM167 16h1v1h-1zM169 16h1v1h-1zM174 16h1v1h-1zM4 17h1v1h-1zM134 17h1v1h-1zM153 17h1v1h-1zM166 17h1v1h-1zM184 17h1v1h-1zM0 18h1v1h-1zM28 18h1v1h-1zM130 18h1v1h-1zM185 18h1v1h-1zM11 19h1v1h-1zM90 19h1v1h-1zM157 19h1v1h-1zM158 19h1v1h-1zM176 19h1v1h-1zM183 19h1v1h-1z"/>
<path fill="#940c0c" d="M73 0h1v1h-1zM84 0h1v1h-1zM90 0h1v1h-1zM92 0h1v1h-1zM101 0h1v1h-1zM53 1h1v1h-1zM82 1h1v1h-1zM86 1h1v1h-1zM88 1h1v1h-1zM90 1h1v1h-1zM92 1h1v1h-1zM105 1h1v1h-1zM23 2h1v1h-1zM27 2h1v1h-1zM36 2h1v1h-1zM46 2h1v1h-1zM66 2h1v1h-1zM88 2h1v1h-1zM95 2h1v1h-1zM118 2h1v1h-1zM42 3h1v1h-1zM44 3h1v1h-1zM94 3h1v1h-1zM61 4h1v1h-1zM66 4h1v1h-1zM49 5h1v1h-1zM60 5h1v1h-1zM37 7h1v1h-1zM52 7h1v1h-1zM60 7h1v1h-1zM34 8h1v1h-1zM118 8h1v1h-1zM10 9h1v1h-1zM24 9h1v1h-1zM37 10h1v1h-1zM8 11h1v1h-1zM34 11h1v1h-1zM125 12h1v1h-1zM127 12h1v1h-1zM129 12h1v1h-1zM146 12h1v1h-1zM164 12h1v1h-1zM179 12h1v1h-1zM184 12h1v1h-1zM124 13h1v1h-1zM135 13h1v1h-1zM149 13h1v1h-1zM159 13h1v1h-1zM172 13h1v1h-1zM176 13h1v1h-1zM180 13h1v1h-1zM185 13h1v1h-1zM125 14h1v1h-1zM140 14h1v1h-1zM169 14h1v1h-1zM171 14h1v1h-1zM124 15h1v1h-1zM132 15h1v1h-1zM135 15h1v1h-1zM146 15h1v1h-1zM167 15h1v1h-1zM182 15h1v1h-1zM10 16h1v1h-1zM165 16h1v1h-1zM6 17h1v1h-1zM11 18h1v1h-1zM167 19h1v1h-1z"/>
<path fill="#cb1515" d="M75 0h1v1h-1zM76 0h1v1h-1zM93 0h1v1h-1zM81 1h1v1h-1zM94 1h1v1h-1zM95 1h1v1h-1zM66 5h1v1h-1zM183 12h1v1h-1zM185 12h1v1h-1zM135 14h1v1h-1zM158 14h1v1h-1z"/>
<path fill="#d61717" d="M97 0h1v1h-1zM78 1h1v1h-1zM103 1h1v1h-1zM56 2h1v1h-1zM34 3h1v1h-1zM74 3h1v1h-1zM49 4h1v1h-1zM48 7h1v1h-1zM139 12h1v1h-1zM155 15h1v1h-1zM171 15h1v1h-1zM178 15h1v1h-1zM176 16h1v1h-1z"/>
<path fill="#035303" d="M121 0h1v1h-1zM137 0h1v1h-1zM145 0h1v1h-1zM149 0h1v1h-1zM159 0h1v1h-1zM161 0h1v1h-1zM163 0h1v1h-1zM170 0h1v1h-1zM176 0h1v1h-1zM188 0h1v1h-1zM0 1h1v1h-1zM1 1h1v1h-1zM123 1h1v1h-1zM141 1h1v1h-1zM169 1h1v1h-1zM4 2h1v1h-1zM133 2h1v1h-1zM148 2h1v1h-1zM155 2h1v1h-1zM157 2h1v1h-1zM4 3h1v1h-1zM123 3h1v1h-1zM134 3h1v1h-1zM147 3h1v1h-1zM152 3h1v1h-1zM174 3h1v1h-1zM176 3h1v1h-1zM188 3h1v1h-1zM45 4h1v1h-1zM88 4h1v1h-1zM94 4h1v1h-1zM143 4h1v1h-1zM184 4h1v1h-1zM189 4h1v1h-1zM26 5h1v1h-1zM92 5h1v1h-1zM109 5h1v1h-1zM148 5h1v1h-1zM156 5h1v1h-1zM161 5h1v1h-1zM162 5h1v1h-1zM169 5h1v1h-1zM32 6h1v1h-1zM45 6h1v1h-1zM77 6h1v1h-1zM79 6h1v1h-1zM84 6h1v1h-1zM100 6h1v1h-1zM104 6h1v1h-1zM113 6h1v1h-1zM127 6h1v1h-1zM141 6h1v1h-1zM147 6h1v1h-1zM156 6h1v1h-1zM168 6h1v1h-1zM171 6h1v1h-1zM174 6h1v1h-1zM189 6h1v1h-1zM73 7h1v1h-1zM92 7h1v1h-1zM142 7h1v1h-1zM163 7h1v1h-1zM179 7h1v1h-1zM9 8h1v1h-1zM70 8h1v1h-1zM75 8h1v1h-1zM152 8h1v1h-1zM154 8h1v1h-1zM169 8h1v1h-1zM173 8h1v1h-1zM176 8h1v1h-1zM178 8h1v1h-1zM72 9h1v1h-1zM145 9h1v1h-1zM152 9h1v1h-1zM62 10h1v1h-1zM80 10h1v1h-1zM92 10h1v1h-1zM129 10h1v1h-1zM131 10h1v1h-1zM133 10h1v1h-1zM134 10h1v1h-1zM137 10h1v1h-1zM140 10h1v1h-1zM142 10h1v1h-1zM148 10h1v1h-1zM154 10h1v1h-1zM168 10h1v1h-1zM173 10h1v1h-1zM177 10h1v1h-1zM179 10h1v1h-1zM183 10h1v1h-1zM55 11h1v1h-1zM89 11h1v1h-1zM109 11h1v1h-1zM131 11h1v1h-1zM136 11h1v1h-1zM182 11h1v1h-1zM35 12h1v1h-1zM38 12h1v1h-1zM29 13h1v1h-1zM39 13h1v1h-1zM21 14h1v1h-1zM24 15h1v1h-1zM44 15h1v1h-1zM55 15h1v1h-1zM85 16h1v1h-1zM92 16h1v1h-1zM95 16h1v1h-1zM99 16h1v1h-1zM37 17h1v1h-1zM58 17h1v1h-1zM70 17h1v1h-1zM103 17h1v1h-1zM34 18h1v1h-1zM46 18h1v1h-1zM67 18h1v1h-1zM89 18h1v1h-1zM103 18h1v1h-1zM106 18h1v1h-1zM108 18h1v1h-1zM118 18h1v1h-1zM129 18h1v1h-1zM32 19h1v1h-1zM39 19h1v1h-1zM60 19h1v1h-1zM67 19h1v1h-1zM74 19h1v1h-1zM114 19h1v1h-1zM120 19h1v1h-1z"/>
<path fill="#013701" d="M125 0h1v1h-1zM144 0h1v1h-1zM150 0h1v1h-1zM177 0h1v1h-1zM179 0h1v1h-1zM181 0h1v1h-1zM183 0h1v1h-1zM115 1h1v1h-1zM131 1h1v1h-1zM138 1h1v1h-1zM142 1h1v1h-1zM146 1h1v1h-1zM158 1h1v1h-1zM172 1h1v1h-1zM178 1h1v1h-1zM183 1h1v1h-1zM0 2h1v1h-1zM1 2h1v1h-1zM112 2h1v1h-1zM126 2h1v1h-1zM168 2h1v1h-1zM172 2h1v1h-1zM180 2h1v1h-1zM21 3h1v1h-1zM71 3h1v1h-1zM127 3h1v1h-1zM130 3h1v1h-1zM153 3h1v1h-1zM155 3h1v1h-1zM158 3h1v1h-1zM170 3h1v1h-1zM28 4h1v1h-1zM31 4h1v1h-1zM83 4h1v1h-1zM89 4h1v1h-1zM97 4h1v1h-1zM134 4h1v1h-1zM138 4h1v1h-1zM144 4h1v1h-1zM37 5h1v1h-1zM43 5h1v1h-1zM82 5h1v1h-1zM83 5h1v1h-1zM86 5h1v1h-1zM88 5h1v1h-1zM106 5h1v1h-1zM119 5h1v1h-1zM127 5h1v1h-1zM129 5h1v1h-1zM135 5h1v1h-1zM186 5h1v1h-1zM89 6h1v1h-1zM91 6h1v1h-1zM97 6h1v1h-1zM148 6h1v1h-1zM176 6h1v1h-1zM184 6h1v1h-1zM18 7h1v1h-1zM21 7h1v1h-1zM35 7h1v1h-1zM75 7h1v1h-1zM97 7h1v1h-1zM101 7h1v1h-1zM109 7h1v1h-1zM127 7h1v1h-1zM146 7h1v1h-1zM159 7h1v1h-1zM168 7h1v1h-1zM176 7h1v1h-1zM178 7h1v1h-1zM51 8h1v1h-1zM95 8h1v1h-1zM99 8h1v1h-1zM117 8h1v1h-1zM151 8h1v1h-1zM162 8h1v1h-1zM166 8h1v1h-1zM48 9h1v1h-1zM53 9h1v1h-1zM68 9h1v1h-1zM73 9h1v1h-1zM89 9h1v1h-1zM137 9h1v1h-1zM142 9h1v1h-1zM154 9h1v1h-1zM186 9h1v1h-1zM3 10h1v1h-1zM72 10h1v1h-1zM91 10h1v1h-1zM98 10h1v1h-1zM108 10h1v1h-1zM125 10h1v1h-1zM153 10h1v1h-1zM159 10h1v1h-1zM163 10h1v1h-1zM187 10h1v1h-1zM4 11h1v1h-1zM51 11h1v1h-1zM56 11h1v1h-1zM62 11h1v1h-1zM86 11h1v1h-1zM90 11h1v1h-1zM96 11h1v1h-1zM100 11h1v1h-1zM148 11h1v1h-1zM149 11h1v1h-1zM162 11h1v1h-1zM163 11h1v1h-1zM167 11h1v1h-1zM180 11h1v1h-1zM185 11h1v1h-1zM187 11h1v1h-1zM0 12h1v1h-1zM5 12h1v1h-1zM47 12h1v1h-1zM60 12h1v1h-1zM49 13h1v1h-1zM85 13h1v1h-1zM119 13h1v1h-1zM34 14h1v1h-1zM64 14h1v1h-1zM6 15h1v1h-1zM46 15h1v1h-1zM49 15h1v1h-1zM58 16h1v1h-1zM86 16h1v1h-1zM90 16h1v1h-1zM102 16h1v1h-1zM116 16h1v1h-1zM124 16h1v1h-1zM29 17h1v1h-1zM39 17h1v1h-1zM51 17h1v1h-1zM155 17h1v1h-1zM183 17h1v1h-1zM20 18h1v1h-1zM60 18h1v1h-1zM70 18h1v1h-1zM110 18h1v1h-1zM168 18h1v1h-1zM37 19h1v1h-1zM40 19h1v1h-1zM58 19h1v1h-1zM59 19h1v1h-1zM66 19h1v1h-1zM146 19h1v1h-1zM154 19h1v1h-1zM165 19h1v1h-1zM170 19h1v1h-1z"/>
<path fill="#0c990c" d="M126 0h1v1h-1zM143 1h1v1h-1zM149 1h1v1h-1zM162 1h1v1h-1zM125 2h1v1h-1zM131 2h1v1h-1zM141 2h1v1h-1zM151 2h1v1h-1zM165 2h1v1h-1zM179 2h1v1h-1zM135 3h1v1h-1zM184 3h1v1h-1zM73 4h1v1h-1zM92 4h1v1h-1zM105 4h1v1h-1zM160 4h1v1h-1zM170 4h1v1h-1zM93 5h1v1h-1zM121 5h1v1h-1zM141 5h1v1h-1zM149 5h1v1h-1zM153 5h1v1h-1zM168 5h1v1h-1zM176 5h1v1h-1zM179 5h1v1h-1zM80 6h1v1h-1zM113 7h1v1h-1zM122 7h1v1h-1zM179 8h1v1h-1zM184 8h1v1h-1zM171 10h1v1h-1zM172 10h1v1h-1zM184 10h1v1h-1zM99 11h1v1h-1zM133 11h1v1h-1zM170 11h1v1h-1zM22 12h1v1h-1zM41 12h1v1h-1zM50 12h1v1h-1zM52 12h1v1h-1zM53 12h1v1h-1zM57 12h1v1h-1zM6 13h1v1h-1zM13 13h1v1h-1zM24 13h1v1h-1zM59 13h1v1h-1zM66 13h1v1h-1zM35 14h1v1h-1zM36 14h1v1h-1zM53 14h1v1h-1zM55 14h1v1h-1zM3 15h1v1h-1zM20 15h1v1h-1zM37 15h1v1h-1zM42 15h1v1h-1zM50 15h1v1h-1zM54 15h1v1h-1zM69 15h1v1h-1zM48 16h1v1h-1zM56 16h1v1h-1zM57 16h1v1h-1zM72 16h1v1h-1zM89 16h1v1h-1zM112 16h1v1h-1zM67 17h1v1h-1zM76 17h1v1h-1zM80 17h1v1h-1zM86 17h1v1h-1zM92 17h1v1h-1zM116 17h1v1h-1zM117 17h1v1h-1zM27 18h1v1h-1zM43 18h1v1h-1zM56 18h1v1h-1zM69 18h1v1h-1zM86 18h1v1h-1zM181 18h1v1h-1zM33 19h1v1h-1zM34 19h1v1h-1zM54 19h1v1h-1zM70 19h1v1h-1zM113 19h1v1h-1zM115 19h1v1h-1z"/>
<path fill="#19df19" d="M130 0h1v1h-1zM2 2h1v1h-1zM163 2h1v1h-1zM145 3h1v1h-1zM188 4h1v1h-1zM85 5h1v1h-1zM101 5h1v1h-1zM161 6h1v1h-1zM74 7h1v1h-1zM107 7h1v1h-1zM121 7h1v1h-1zM71 9h1v1h-1zM189 10h1v1h-1zM32 12h1v1h-1zM20 13h1v1h-1zM35 13h1v1h-1zM60 13h1v1h-1zM13 14h1v1h-1zM52 14h1v1h-1zM15 15h1v1h-1zM22 15h1v1h-1zM43 15h1v1h-1zM19 16h1v1h-1zM19 17h1v1h-1zM42 17h1v1h-1zM85 17h1v1h-1zM87 17h1v1h-1zM100 17h1v1h-1zM109 17h1v1h-1zM118 17h1v1h-1zM31 18h1v1h-1zM33 18h1v1h-1zM41 18h1v1h-1zM90 18h1v1h-1zM113 18h1v1h-1zM115 18h1v1h-1zM97 19h1v1h-1zM112 19h1v1h-1zM116 19h1v1h-1zM126 19h1v1h-1z"/>
<path fill="#1ceb1c" d="M133 0h1v1h-1zM4 1h1v1h-1zM5 2h1v1h-1zM99 4h1v1h-1zM113 4h1v1h-1zM128 4h1v1h-1zM98 5h1v1h-1zM99 5h1v1h-1zM110 5h1v1h-1zM126 5h1v1h-1zM130 5h1v1h-1zM145 5h1v1h-1zM177 5h1v1h-1zM184 5h1v1h-1zM123 6h1v1h-1zM150 6h1v1h-1zM157 6h1v1h-1zM166 6h1v1h-1zM91 7h1v1h-1zM99 7h1v1h-1zM105 7h1v1h-1zM106 7h1v1h-1zM150 9h1v1h-1zM184 9h1v1h-1zM162 10h1v1h-1zM177 11h1v1h-1zM184 11h1v1h-1zM71 12h1v1h-1zM14 13h1v1h-1zM16 13h1v1h-1zM18 13h1v1h-1zM19 13h1v1h-1zM26 13h1v1h-1zM31 13h1v1h-1zM36 13h1v1h-1zM38 13h1v1h-1zM54 13h1v1h-1zM61 13h1v1h-1zM63 13h1v1h-1zM64 13h1v1h-1zM65 13h1v1h-1zM71 13h1v1h-1zM72 13h1v1h-1zM6 14h1v1h-1zM8 14h1v1h-1zM9 14h1v1h-1zM11 14h1v1h-1zM15 14h1v1h-1zM20 14h1v1h-1zM22 14h1v1h-1zM26 14h1v1h-1zM30 14h1v1h-1zM31 14h1v1h-1zM39 14h1v1h-1zM45 14h1v1h-1zM47 14h1v1h-1zM57 14h1v1h-1zM65 14h1v1h-1zM68 14h1v1h-1zM71 14h1v1h-1zM72 14h1v1h-1zM0 15h1v1h-1zM9 15h1v1h-1zM10 15h1v1h-1zM17 15h1v1h-1zM19 15h1v1h-1zM25 15h1v1h-1zM26 15h1v1h-1zM29 15h1v1h-1zM39 15h1v1h-1zM41 15h1v1h-1zM59 15h1v1h-1zM61 15h1v1h-1zM62 15h1v1h-1zM65 15h1v1h-1zM68 15h1v1h-1zM71 15h1v1h-1zM17 16h1v1h-1zM26 16h1v1h-1zM41 16h1v1h-1zM42 16h1v1h-1zM54 16h1v1h-1zM70 16h1v1h-1zM18 17h1v1h-1zM61 17h1v1h-1zM64 17h1v1h-1zM69 17h1v1h-1zM71 17h1v1h-1zM73 17h1v1h-1zM75 17h1v1h-1zM81 17h1v1h-1zM94 17h1v1h-1zM98 17h1v1h-1zM99 17h1v1h-1zM102 17h1v1h-1zM104 17h1v1h-1zM105 17h1v1h-1zM106 17h1v1h-1zM108 17h1v1h-1zM112 17h1v1h-1zM114 17h1v1h-1zM115 17h1v1h-1zM120 17h1v1h-1zM123 17h1v1h-1zM124 17h1v1h-1zM126 17h1v1h-1zM30 18h1v1h-1zM42 18h1v1h-1zM61 18h1v1h-1zM75 18h1v1h-1zM76 18h1v1h-1zM77 18h1v1h-1zM78 18h1v1h-1zM85 18h1v1h-1zM87 18h1v1h-1zM95 18h1v1h-1zM96 18h1v1h-1zM99 18h1v1h-1zM107 18h1v1h-1zM109 18h1v1h-1zM114 18h1v1h-1zM116 18h1v1h-1zM117 18h1v1h-1zM125 18h1v1h-1zM126 18h1v1h-1zM20 19h1v1h-1zM26 19h1v1h-1zM43 19h1v1h-1zM48 19h1v1h-1zM51 19h1v1h-1zM64 19h1v1h-1zM71 19h1v1h-1zM76 19h1v1h-1zM78 19h1v1h-1zM81 19h1v1h-1zM83 19h1v1h-1zM92 19h1v1h-1zM93 19h1v1h-1zM94 19h1v1h-1zM96 19h1v1h-1zM100 19h1v1h-1zM101 19h1v1h-1zM103 19h1v1h-1zM104 19h1v1h-1zM106 19h1v1h-1zM111 19h1v1h-1zM117 19h1v1h-1zM122 19h1v1h-1zM123 19h1v1h-1zM124 19h1v1h-1z"/>
<path fill="#10b510" d="M138 0h1v1h-1zM182 1h1v1h-1zM5 3h1v1h-1zM150 3h1v1h-1zM156 3h1v1h-1zM146 4h1v1h-1zM151 4h1v1h-1zM152 4h1v1h-1zM164 4h1v1h-1zM179 4h1v1h-1zM183 4h1v1h-1zM32 5h1v1h-1zM77 5h1v1h-1zM104 5h1v1h-1zM133 5h1v1h-1zM147 5h1v1h-1zM181 5h1v1h-1zM76 6h1v1h-1zM99 6h1v1h-1zM109 6h1v1h-1zM115 6h1v1h-1zM125 6h1v1h-1zM137 6h1v1h-1zM170 6h1v1h-1zM172 6h1v1h-1zM45 7h1v1h-1zM85 7h1v1h-1zM149 7h1v1h-1zM151 7h1v1h-1zM155 7h1v1h-1zM160 7h1v1h-1zM185 7h1v1h-1zM174 8h1v1h-1zM160 9h1v1h-1zM170 9h1v1h-1zM59 12h1v1h-1zM62 12h1v1h-1zM1 13h1v1h-1zM22 13h1v1h-1zM53 13h1v1h-1zM19 14h1v1h-1zM38 14h1v1h-1zM48 14h1v1h-1zM63 14h1v1h-1zM1 15h1v1h-1zM5 15h1v1h-1zM7 15h1v1h-1zM14 15h1v1h-1zM18 15h1v1h-1zM21 15h1v1h-1zM72 15h1v1h-1zM18 16h1v1h-1zM22 16h1v1h-1zM25 16h1v1h-1zM64 16h1v1h-1zM68 16h1v1h-1zM81 16h1v1h-1zM82 16h1v1h-1zM114 16h1v1h-1zM26 17h1v1h-1zM78 17h1v1h-1zM90 17h1v1h-1zM93 17h1v1h-1zM19 18h1v1h-1zM35 18h1v1h-1zM51 18h1v1h-1zM81 18h1v1h-1zM93 18h1v1h-1zM100 18h1v1h-1zM101 18h1v1h-1zM121 18h1v1h-1zM24 19h1v1h-1zM25 19h1v1h-1zM47 19h1v1h-1zM69 19h1v1h-1zM86 19h1v1h-1zM88 19h1v1h-1zM89 19h1v1h-1zM98 19h1v1h-1zM99 19h1v1h-1z"/>
<path fill="#066f06" d="M151 0h1v1h-1zM152 0h1v1h-1zM184 0h1v1h-1zM189 0h1v1h-1zM3 1h1v1h-1zM5 1h1v1h-1zM163 1h1v1h-1zM165 1h1v1h-1zM171 1h1v1h-1zM186 1h1v1h-1zM161 2h1v1h-1zM162 2h1v1h-1zM174 2h1v1h-1zM125 3h1v1h-1zM137 3h1v1h-1zM161 3h1v1h-1zM180 3h1v1h-1zM189 3h1v1h-1zM18 4h1v1h-1zM75 4h1v1h-1zM80 4h1v1h-1zM87 4h1v1h-1zM91 4h1v1h-1zM110 4h1v1h-1zM117 4h1v1h-1zM120 4h1v1h-1zM132 4h1v1h-1zM178 4h1v1h-1zM23 5h1v1h-1zM30 5h1v1h-1zM81 5h1v1h-1zM87 5h1v1h-1zM94 5h1v1h-1zM102 5h1v1h-1zM103 5h1v1h-1zM137 5h1v1h-1zM150 5h1v1h-1zM157 5h1v1h-1zM159 5h1v1h-1zM164 5h1v1h-1zM170 5h1v1h-1zM175 5h1v1h-1zM185 5h1v1h-1zM128 6h1v1h-1zM144 6h1v1h-1zM188 6h1v1h-1zM26 7h1v1h-1zM31 7h1v1h-1zM82 7h1v1h-1zM102 7h1v1h-1zM129 7h1v1h-1zM133 7h1v1h-1zM135 7h1v1h-1zM150 7h1v1h-1zM154 7h1v1h-1zM174 7h1v1h-1zM175 7h1v1h-1zM180 7h1v1h-1zM30 8h1v1h-1zM65 8h1v1h-1zM72 8h1v1h-1zM137 8h1v1h-1zM149 8h1v1h-1zM150 8h1v1h-1zM163 8h1v1h-1zM165 8h1v1h-1zM170 8h1v1h-1zM172 8h1v1h-1zM180 8h1v1h-1zM99 9h1v1h-1zM156 9h1v1h-1zM176 9h1v1h-1zM179 9h1v1h-1zM143 10h1v1h-1zM152 10h1v1h-1zM155 10h1v1h-1zM156 10h1v1h-1zM157 10h1v1h-1zM160 10h1v1h-1zM104 11h1v1h-1zM132 11h1v1h-1zM147 11h1v1h-1zM152 11h1v1h-1zM171 11h1v1h-1zM175 11h1v1h-1zM178 11h1v1h-1zM15 12h1v1h-1zM29 12h1v1h-1zM30 12h1v1h-1zM15 13h1v1h-1zM27 13h1v1h-1zM37 13h1v1h-1zM57 13h1v1h-1zM58 13h1v1h-1zM3 14h1v1h-1zM27 14h1v1h-1zM62 14h1v1h-1zM99 14h1v1h-1zM27 15h1v1h-1zM40 15h1v1h-1zM47 15h1v1h-1zM48 15h1v1h-1zM23 16h1v1h-1zM24 16h1v1h-1zM37 16h1v1h-1zM73 16h1v1h-1zM77 16h1v1h-1zM23 17h1v1h-1zM24 17h1v1h-1zM34 17h1v1h-1zM40 17h1v1h-1zM43 17h1v1h-1zM59 17h1v1h-1zM25 18h1v1h-1zM40 18h1v1h-1zM55 18h1v1h-1zM57 18h1v1h-1zM98 18h1v1h-1zM17 19h1v1h-1zM31 19h1v1h-1zM36 19h1v1h-1zM49 19h1v1h-1zM55 19h1v1h-1zM61 19h1v1h-1zM102 19h1v1h-1zM105 19h1v1h-1zM107 19h1v1h-1zM139 19h1v1h-1zM174 19h1v1h-1z"/>
<path fill="#0ea70e" d="M155 0h1v1h-1zM136 1h1v1h-1zM147 1h1v1h-1zM175 1h1v1h-1zM169 2h1v1h-1zM148 3h1v1h-1zM160 3h1v1h-1zM136 4h1v1h-1zM156 4h1v1h-1zM157 4h1v1h-1zM174 4h1v1h-1zM108 5h1v1h-1zM116 5h1v1h-1zM101 6h1v1h-1zM117 6h1v1h-1zM162 6h1v1h-1zM180 6h1v1h-1zM182 6h1v1h-1zM185 6h1v1h-1zM78 7h1v1h-1zM88 7h1v1h-1zM116 7h1v1h-1zM141 7h1v1h-1zM172 7h1v1h-1zM138 8h1v1h-1zM159 8h1v1h-1zM160 8h1v1h-1zM175 8h1v1h-1zM187 8h1v1h-1zM189 8h1v1h-1zM165 9h1v1h-1zM81 10h1v1h-1zM127 11h1v1h-1zM16 12h1v1h-1zM0 13h1v1h-1zM2 13h1v1h-1zM4 13h1v1h-1zM5 13h1v1h-1zM10 13h1v1h-1zM28 13h1v1h-1zM32 13h1v1h-1zM42 13h1v1h-1zM2 14h1v1h-1zM10 14h1v1h-1zM33 14h1v1h-1zM67 14h1v1h-1zM2 15h1v1h-1zM12 15h1v1h-1zM23 15h1v1h-1zM30 15h1v1h-1zM35 15h1v1h-1zM36 15h1v1h-1zM56 15h1v1h-1zM63 15h1v1h-1zM66 15h1v1h-1zM47 16h1v1h-1zM69 16h1v1h-1zM80 16h1v1h-1zM87 16h1v1h-1zM120 16h1v1h-1zM28 17h1v1h-1zM45 17h1v1h-1zM48 17h1v1h-1zM88 17h1v1h-1zM89 17h1v1h-1zM95 17h1v1h-1zM96 17h1v1h-1zM107 17h1v1h-1zM26 18h1v1h-1zM37 18h1v1h-1zM50 18h1v1h-1zM79 18h1v1h-1zM84 18h1v1h-1zM105 18h1v1h-1zM124 18h1v1h-1zM136 18h1v1h-1zM22 19h1v1h-1zM30 19h1v1h-1zM73 19h1v1h-1zM79 19h1v1h-1zM82 19h1v1h-1zM109 19h1v1h-1zM125 19h1v1h-1z"/>
<path fill="#13c313" d="M156 0h1v1h-1zM157 0h1v1h-1zM96 4h1v1h-1zM98 4h1v1h-1zM100 4h1v1h-1zM124 4h1v1h-1zM126 4h1v1h-1zM122 5h1v1h-1zM128 5h1v1h-1zM90 6h1v1h-1zM94 6h1v1h-1zM130 6h1v1h-1zM133 6h1v1h-1zM84 7h1v1h-1zM98 7h1v1h-1zM166 7h1v1h-1zM182 7h1v1h-1zM184 7h1v1h-1zM166 9h1v1h-1zM144 10h1v1h-1zM160 11h1v1h-1zM189 11h1v1h-1zM33 12h1v1h-1zM54 12h1v1h-1zM56 12h1v1h-1zM69 12h1v1h-1zM7 13h1v1h-1zM45 13h1v1h-1zM50 13h1v1h-1zM52 13h1v1h-1zM68 13h1v1h-1zM16 14h1v1h-1zM69 14h1v1h-1zM52 15h1v1h-1zM57 15h1v1h-1zM60 15h1v1h-1zM38 16h1v1h-1zM45 16h1v1h-1zM55 16h1v1h-1zM63 16h1v1h-1zM75 16h1v1h-1zM96 16h1v1h-1zM126 16h1v1h-1zM17 17h1v1h-1zM25 17h1v1h-1zM54 17h1v1h-1zM77 17h1v1h-1zM82 17h1v1h-1zM122 17h1v1h-1zM22 18h1v1h-1zM29 18h1v1h-1zM39 18h1v1h-1zM45 18h1v1h-1zM47 18h1v1h-1zM73 18h1v1h-1zM92 18h1v1h-1zM94 18h1v1h-1zM111 18h1v1h-1zM122 18h1v1h-1zM16 19h1v1h-1zM28 19h1v1h-1zM68 19h1v1h-1zM77 19h1v1h-1zM80 19h1v1h-1zM121 19h1v1h-1z"/>
<path fill="#098b09" d="M6 1h1v1h-1zM160 1h1v1h-1zM177 1h1v1h-1zM6 2h1v1h-1zM8 2h1v1h-1zM134 2h1v1h-1zM139 2h1v1h-1zM128 3h1v1h-1zM159 3h1v1h-1zM166 3h1v1h-1zM78 4h1v1h-1zM123 4h1v1h-1zM127 4h1v1h-1zM139 4h1v1h-1zM142 4h1v1h-1zM155 4h1v1h-1zM163 4h1v1h-1zM165 4h1v1h-1zM167 4h1v1h-1zM169 4h1v1h-1zM172 4h1v1h-1zM185 4h1v1h-1zM187 4h1v1h-1zM76 5h1v1h-1zM111 5h1v1h-1zM118 5h1v1h-1zM142 5h1v1h-1zM144 5h1v1h-1zM167 5h1v1h-1zM171 5h1v1h-1zM174 5h1v1h-1zM180 5h1v1h-1zM18 6h1v1h-1zM75 6h1v1h-1zM98 6h1v1h-1zM118 6h1v1h-1zM119 6h1v1h-1zM121 6h1v1h-1zM165 6h1v1h-1zM28 7h1v1h-1zM96 7h1v1h-1zM112 7h1v1h-1zM115 7h1v1h-1zM131 7h1v1h-1zM156 7h1v1h-1zM164 7h1v1h-1zM183 7h1v1h-1zM61 8h1v1h-1zM177 8h1v1h-1zM130 9h1v1h-1zM132 9h1v1h-1zM141 9h1v1h-1zM174 9h1v1h-1zM178 9h1v1h-1zM188 9h1v1h-1zM64 10h1v1h-1zM137 11h1v1h-1zM164 11h1v1h-1zM179 11h1v1h-1zM188 11h1v1h-1zM1 12h1v1h-1zM9 12h1v1h-1zM17 12h1v1h-1zM37 12h1v1h-1zM44 12h1v1h-1zM85 12h1v1h-1zM99 12h1v1h-1zM8 13h1v1h-1zM17 13h1v1h-1zM43 13h1v1h-1zM62 13h1v1h-1zM67 13h1v1h-1zM1 14h1v1h-1zM4 14h1v1h-1zM18 14h1v1h-1zM25 14h1v1h-1zM32 14h1v1h-1zM42 14h1v1h-1zM51 14h1v1h-1zM58 14h1v1h-1zM8 15h1v1h-1zM13 15h1v1h-1zM32 15h1v1h-1zM38 15h1v1h-1zM51 15h1v1h-1zM64 15h1v1h-1zM30 16h1v1h-1zM32 16h1v1h-1zM36 16h1v1h-1zM40 16h1v1h-1zM61 16h1v1h-1zM66 16h1v1h-1zM74 16h1v1h-1zM84 16h1v1h-1zM94 16h1v1h-1zM98 16h1v1h-1zM106 16h1v1h-1zM16 17h1v1h-1zM20 17h1v1h-1zM27 17h1v1h-1zM52 17h1v1h-1zM53 17h1v1h-1zM56 17h1v1h-1zM60 17h1v1h-1zM113 17h1v1h-1zM143 17h1v1h-1zM177 17h1v1h-1zM21 18h1v1h-1zM49 18h1v1h-1zM72 18h1v1h-1zM119 18h1v1h-1zM120 18h1v1h-1zM131 18h1v1h-1zM21 19h1v1h-1zM45 19h1v1h-1zM46 19h1v1h-1zM84 19h1v1h-1zM87 19h1v1h-1zM91 19h1v1h-1zM118 19h1v1h-1zM128 19h1v1h-1zM175 19h1v1h-1z"/>
<path fill="#16d116" d="M7 1h1v1h-1zM152 1h1v1h-1zM85 4h1v1h-1zM104 4h1v1h-1zM100 5h1v1h-1zM113 5h1v1h-1zM143 5h1v1h-1zM96 6h1v1h-1zM112 6h1v1h-1zM163 6h1v1h-1zM123 7h1v1h-1zM139 7h1v1h-1zM157 7h1v1h-1zM104 9h1v1h-1zM175 9h1v1h-1zM180 9h1v1h-1zM185 10h1v1h-1zM130 11h1v1h-1zM150 11h1v1h-1zM3 13h1v1h-1zM21 13h1v1h-1zM30 13h1v1h-1zM33 13h1v1h-1zM34 13h1v1h-1zM48 13h1v1h-1zM69 13h1v1h-1zM41 14h1v1h-1zM49 14h1v1h-1zM59 14h1v1h-1zM66 14h1v1h-1zM28 15h1v1h-1zM53 15h1v1h-1zM70 15h1v1h-1zM20 16h1v1h-1zM43 16h1v1h-1zM71 16h1v1h-1zM88 16h1v1h-1zM97 16h1v1h-1zM105 16h1v1h-1zM83 17h1v1h-1zM91 17h1v1h-1zM97 17h1v1h-1zM101 17h1v1h-1zM111 17h1v1h-1zM17 18h1v1h-1zM18 18h1v1h-1zM62 18h1v1h-1zM64 18h1v1h-1zM80 18h1v1h-1zM83 18h1v1h-1zM91 18h1v1h-1zM104 18h1v1h-1zM112 18h1v1h-1zM123 18h1v1h-1zM19 19h1v1h-1zM50 19h1v1h-1zM63 19h1v1h-1zM85 19h1v1h-1zM95 19h1v1h-1zM108 19h1v1h-1z"/>
<path fill="#e41a1a" d="M46 1h1v1h-1zM73 2h1v1h-1zM81 2h1v1h-1zM97 3h1v1h-1zM140 12h1v1h-1zM154 12h1v1h-1zM181 12h1v1h-1zM146 13h1v1h-1zM148 13h1v1h-1zM183 13h1v1h-1zM162 14h1v1h-1zM176 14h1v1h-1zM131 15h1v1h-1zM165 15h1v1h-1zM186 15h1v1h-1z"/>
</g></g>
<rect x="227.8" y="38.90" width="3.0" height="22.54" fill="#5b8ee8"/>
<rect x="227.8" y="61.44" width="3.0" height="22.54" fill="#1cc3dc"/>
<rect x="227.8" y="83.98" width="3.0" height="22.54" fill="#7cc520"/>
<rect x="227.8" y="106.52" width="3.0" height="22.54" fill="#ec7414"/>
<rect x="227.8" y="129.06" width="3.0" height="22.54" fill="#f23cae"/>
<text x="479.70" y="54.20" font-size="7.9" text-anchor="start" fill="#111" stroke="#111" stroke-width="0.2">1424.2</text>
<text x="479.70" y="75.80" font-size="7.9" text-anchor="start" fill="#111" stroke="#111" stroke-width="0.2">1424.1</text>
<text x="479.70" y="97.90" font-size="7.9" text-anchor="start" fill="#111" stroke="#111" stroke-width="0.2">1424</text>
<text x="479.70" y="120.40" font-size="7.9" text-anchor="start" fill="#111" stroke="#111" stroke-width="0.2">EpH4</text>
<text x="479.70" y="143.50" font-size="7.9" text-anchor="start" fill="#111" stroke="#111" stroke-width="0.2">116</text>
<text x="527.20" y="67.30" font-size="8.1" text-anchor="middle" fill="#1a1a1a" stroke="#1a1a1a" stroke-width="0.2" textLength="41.30" lengthAdjust="spacingAndGlyphs">Normalized</text>
<text x="527.00" y="74.30" font-size="8.1" text-anchor="middle" fill="#1a1a1a" stroke="#1a1a1a" stroke-width="0.2" textLength="40.50" lengthAdjust="spacingAndGlyphs">abundance</text>
<defs><linearGradient id="hm" x1="0" y1="0" x2="0" y2="1"><stop offset="0" stop-color="#ee2626"/><stop offset="0.18" stop-color="#d82020"/><stop offset="0.37" stop-color="#7a1010"/><stop offset="0.47" stop-color="#150505"/><stop offset="0.55" stop-color="#051205"/><stop offset="0.68" stop-color="#109a10"/><stop offset="0.76" stop-color="#22ee22"/><stop offset="1" stop-color="#22ee22"/></linearGradient></defs>
<rect x="522.8" y="79.6" width="9.6" height="48.1" fill="url(#hm)"/>
<text x="534.00" y="86.05" font-size="7.7" text-anchor="start" fill="#111" stroke="#111" stroke-width="0.2">3</text>
<text x="534.00" y="93.90" font-size="7.7" text-anchor="start" fill="#111" stroke="#111" stroke-width="0.2">2</text>
<text x="534.00" y="101.75" font-size="7.7" text-anchor="start" fill="#111" stroke="#111" stroke-width="0.2">1</text>
<text x="534.00" y="109.60" font-size="7.7" text-anchor="start" fill="#111" stroke="#111" stroke-width="0.2">0</text>
<text x="534.00" y="117.45" font-size="7.7" text-anchor="start" fill="#111" stroke="#111" stroke-width="0.2">−1</text>
<text x="534.00" y="125.30" font-size="7.7" text-anchor="start" fill="#111" stroke="#111" stroke-width="0.2">−2</text>
<path d="M231.78,38.40V33.99H232.14V38.40M232.50,38.40V33.48H232.85V38.40M232.67,33.48V31.49H233.21V38.40M232.94,31.49V28.26H233.57V38.40M231.96,33.99V25.88H233.26V28.26M233.93,38.40V33.78H234.29V38.40M235.00,38.40V33.88H235.36V38.40M234.64,38.40V31.33H235.18V33.88M235.72,38.40V33.70H236.08V38.40M234.91,31.33V28.31H235.90V33.70M234.11,33.78V26.02H235.41V28.31M236.44,38.40V33.93H236.79V38.40M234.76,26.02V24.12H236.62V33.93M237.15,38.40V33.16H237.51V38.40M237.87,38.40V34.07H238.23V38.40M237.33,33.16V29.21H238.05V34.07M238.59,38.40V33.81H238.94V38.40M237.69,29.21V27.87H238.76V33.81M239.30,38.40V33.67H239.66V38.40M238.23,27.87V25.69H239.48V33.67M235.69,24.12V22.62H238.85V25.69M232.61,25.88V19.84H237.27V22.62M240.38,38.40V33.84H240.73V38.40M240.02,38.40V30.59H240.56V33.84M241.09,38.40V33.81H241.45V38.40M240.29,30.59V27.71H241.27V33.81M241.81,38.40V34.08H242.17V38.40M242.53,38.40V33.88H242.88V38.40M241.99,34.08V29.39H242.71V33.88M243.24,38.40V33.23H243.60V38.40M243.42,33.23V31.17H243.96V38.40M244.32,38.40V33.36H244.68V38.40M243.69,31.17V27.69H244.50V33.36M242.35,29.39V26.06H244.09V27.69M245.39,38.40V33.77H245.75V38.40M245.57,33.77V30.83H246.11V38.40M245.03,38.40V28.03H245.84V30.83M243.22,26.06V23.79H245.44V28.03M240.78,27.71V21.32H244.33V23.79M234.94,19.84V18.77H242.55V21.32M246.82,38.40V33.74H247.18V38.40M246.47,38.40V30.00H247.00V33.74M247.54,38.40V33.19H247.90V38.40M246.74,30.00V26.56H247.72V33.19M248.26,38.40V33.98H248.62V38.40M249.33,38.40V33.34H249.69V38.40M248.97,38.40V30.05H249.51V33.34M250.05,38.40V33.74H250.41V38.40M250.23,33.74V31.12H250.77V38.40M249.24,30.05V27.37H250.50V31.12M248.44,33.98V25.69H249.87V27.37M247.23,26.56V23.22H249.15V25.69M251.48,38.40V33.62H251.84V38.40M251.12,38.40V30.67H251.66V33.62M251.39,30.67V29.28H252.20V38.40M252.91,38.40V33.36H253.27V38.40M252.56,38.40V30.40H253.09V33.36M253.63,38.40V33.50H253.99V38.40M252.83,30.40V28.16H253.81V33.50M251.80,29.28V26.10H253.32V28.16M248.19,23.22V20.15H252.56V26.10M254.35,38.40V33.58H254.71V38.40M255.06,38.40V33.34H255.42V38.40M254.53,33.58V29.15H255.24V33.34M255.78,38.40V33.76H256.14V38.40M254.89,29.15V27.46H255.96V33.76M256.86,38.40V33.52H257.21V38.40M256.50,38.40V31.15H257.03V33.52M257.93,38.40V33.29H258.29V38.40M257.57,38.40V31.59H258.11V33.29M256.77,31.15V27.80H257.84V31.59M255.42,27.46V23.99H257.30V27.80M259.00,38.40V33.43H259.36V38.40M258.65,38.40V30.71H259.18V33.43M259.72,38.40V33.38H260.08V38.40M258.92,30.71V28.43H259.90V33.38M260.44,38.40V33.57H260.80V38.40M259.41,28.43V26.94H260.62V33.57M256.36,23.99V21.76H260.01V26.94M250.37,20.15V19.04H258.19V21.76M238.75,18.77V14.34H254.28V19.04M261.15,38.40V33.26H261.51V38.40M261.33,33.26V29.53H261.87V38.40M262.23,38.40V33.56H262.59V38.40M262.95,38.40V33.34H263.30V38.40M262.41,33.56V29.63H263.12V33.34M261.60,29.53V26.01H262.77V29.63M264.02,38.40V33.42H264.38V38.40M263.66,38.40V31.08H264.20V33.42M264.74,38.40V33.19H265.09V38.40M263.93,31.08V28.67H264.92V33.19M265.45,38.40V33.80H265.81V38.40M266.53,38.40V34.00H266.89V38.40M266.17,38.40V31.51H266.71V34.00M265.63,33.80V28.61H266.44V31.51M264.42,28.67V24.08H266.04V28.61M267.24,38.40V33.61H267.60V38.40M267.42,33.61V31.28H267.96V38.40M265.23,24.08V22.95H267.69V31.28M268.32,38.40V33.43H268.68V38.40M269.04,38.40V33.96H269.39V38.40M269.75,38.40V33.61H270.11V38.40M269.21,33.96V29.96H269.93V33.61M268.50,33.43V26.82H269.57V29.96M266.46,22.95V21.78H269.04V26.82M262.18,26.01V20.25H267.75V21.78M270.47,38.40V33.94H270.83V38.40M271.19,38.40V33.75H271.54V38.40M270.65,33.94V30.01H271.36V33.75M271.90,38.40V33.40H272.26V38.40M272.98,38.40V33.91H273.33V38.40M272.62,38.40V30.22H273.16V33.91M272.89,30.22V26.68H273.69V38.40M272.08,33.40V23.38H273.29V26.68M271.01,30.01V22.32H272.69V23.38M274.05,38.40V34.05H274.41V38.40M274.77,38.40V33.88H275.13V38.40M274.23,34.05V29.49H274.95V33.88M275.48,38.40V33.32H275.84V38.40M274.59,29.49V27.67H275.66V33.32M276.56,38.40V33.18H276.92V38.40M276.20,38.40V31.38H276.74V33.18M277.27,38.40V34.02H277.63V38.40M277.99,38.40V33.90H278.35V38.40M277.45,34.02V30.16H278.17V33.90M276.47,31.38V26.53H277.81V30.16M275.13,27.67V23.32H277.14V26.53M271.85,22.32V20.43H276.13V23.32M278.71,38.40V33.25H279.07V38.40M279.78,38.40V33.45H280.14V38.40M279.42,38.40V30.64H279.96V33.45M279.69,30.64V28.49H280.50V38.40M278.89,33.25V25.95H280.10V28.49M281.22,38.40V33.70H281.57V38.40M280.86,38.40V30.27H281.39V33.70M281.93,38.40V33.34H282.29V38.40M281.13,30.27V26.89H282.11V33.34M282.65,38.40V33.97H283.01V38.40M281.62,26.89V23.79H282.83V33.97M283.72,38.40V33.53H284.08V38.40M283.90,33.53V30.89H284.44V38.40M283.37,38.40V28.43H284.17V30.89M283.77,28.43V25.11H284.80V38.40M282.22,23.79V21.63H284.28V25.11M279.49,25.95V20.04H283.25V21.63M285.16,38.40V33.21H285.51V38.40M285.87,38.40V33.43H286.23V38.40M285.34,33.21V29.90H286.05V33.43M286.59,38.40V34.10H286.95V38.40M285.69,29.90V27.05H286.77V34.10M287.31,38.40V33.25H287.66V38.40M288.38,38.40V33.77H288.74V38.40M288.02,38.40V31.85H288.56V33.77M288.29,31.85V29.06H289.10V38.40M287.48,33.25V27.04H288.69V29.06M289.45,38.40V33.34H289.81V38.40M288.09,27.04V25.02H289.63V33.34M286.23,27.05V23.75H288.86V25.02M281.37,20.04V18.54H287.55V23.75M290.17,38.40V33.99H290.53V38.40M290.89,38.40V33.28H291.25V38.40M290.35,33.99V29.42H291.07V33.28M291.60,38.40V33.72H291.96V38.40M291.78,33.72V31.05H292.32V38.40M290.71,29.42V26.28H292.05V31.05M293.04,38.40V33.56H293.40V38.40M293.75,38.40V33.78H294.11V38.40M293.22,33.56V29.66H293.93V33.78M292.68,38.40V28.13H293.57V29.66M294.47,38.40V33.50H294.83V38.40M294.65,33.50V29.76H295.19V38.40M295.55,38.40V33.98H295.90V38.40M295.72,33.98V30.27H296.26V38.40M294.92,29.76V26.42H295.99V30.27M293.13,28.13V23.76H295.46V26.42M291.38,26.28V21.05H294.29V23.76M284.46,18.54V15.39H292.84V21.05M273.99,20.43V14.21H288.65V15.39M264.97,20.25V11.20H281.32V14.21M296.62,38.40V33.86H296.98V38.40M297.34,38.40V33.78H297.69V38.40M297.52,33.78V29.98H298.05V38.40M296.80,33.86V27.81H297.78V29.98M298.41,38.40V33.26H298.77V38.40M299.49,38.40V33.17H299.84V38.40M299.13,38.40V29.36H299.66V33.17M298.59,33.26V25.94H299.40V29.36M297.29,27.81V23.55H298.99V25.94M300.20,38.40V33.86H300.56V38.40M300.38,33.86V30.97H300.92V38.40M301.28,38.40V33.41H301.63V38.40M301.46,33.41V30.57H301.99V38.40M301.72,30.57V29.27H302.35V38.40M300.65,30.97V26.27H302.04V29.27M303.07,38.40V33.87H303.43V38.40M303.25,33.87V31.57H303.78V38.40M302.71,38.40V28.55H303.52V31.57M304.14,38.40V33.65H304.50V38.40M304.86,38.40V33.91H305.22V38.40M304.32,33.65V30.55H305.04V33.91M303.11,28.55V26.92H304.68V30.55M301.34,26.27V22.77H303.90V26.92M305.93,38.40V33.95H306.29V38.40M305.58,38.40V30.83H306.11V33.95M306.65,38.40V34.06H307.01V38.40M307.37,38.40V33.46H307.73V38.40M306.83,34.06V30.24H307.55V33.46M305.84,30.83V26.78H307.19V30.24M302.62,22.77V20.05H306.52V26.78M298.14,23.55V18.80H304.57V20.05M308.08,38.40V33.82H308.44V38.40M308.26,33.82V31.58H308.80V38.40M308.53,31.58V29.20H309.16V38.40M309.52,38.40V33.71H309.87V38.40M309.70,33.71V31.21H310.23V38.40M308.84,29.20V25.97H309.96V31.21M310.59,38.40V34.00H310.95V38.40M310.77,34.00V31.25H311.31V38.40M309.40,25.97V23.61H311.04V31.25M311.67,38.40V33.65H312.02V38.40M312.38,38.40V33.85H312.74V38.40M311.84,33.65V29.00H312.56V33.85M310.22,23.61V21.70H312.20V29.00M313.46,38.40V33.20H313.81V38.40M313.10,38.40V30.98H313.64V33.20M314.53,38.40V34.01H314.89V38.40M314.17,38.40V31.42H314.71V34.01M315.25,38.40V33.31H315.61V38.40M314.44,31.42V27.97H315.43V33.31M313.37,30.98V26.80H314.93V27.97M316.68,38.40V33.30H317.04V38.40M316.32,38.40V30.49H316.86V33.30M315.96,38.40V28.34H316.59V30.49M314.15,26.80V23.59H316.28V28.34M311.21,21.70V18.59H315.21V23.59M317.40,38.40V33.70H317.76V38.40M317.58,33.70V30.04H318.11V38.40M317.85,30.04V26.84H318.47V38.40M318.83,38.40V33.47H319.19V38.40M319.55,38.40V33.38H319.90V38.40M320.26,38.40V33.34H320.62V38.40M319.73,33.38V30.47H320.44V33.34M319.01,33.47V27.00H320.08V30.47M318.16,26.84V24.38H319.55V27.00M321.34,38.40V33.96H321.70V38.40M320.98,38.40V31.16H321.52V33.96M322.05,38.40V34.01H322.41V38.40M322.23,34.01V31.67H322.77V38.40M321.25,31.16V28.64H322.50V31.67M323.13,38.40V33.38H323.49V38.40M323.85,38.40V33.84H324.20V38.40M324.56,38.40V33.68H324.92V38.40M324.02,33.84V29.25H324.74V33.68M323.31,33.38V27.07H324.38V29.25M321.88,28.64V24.07H323.85V27.07M318.85,24.38V20.12H322.86V24.07M313.21,18.59V16.99H320.86V20.12M301.36,18.80V13.67H317.03V16.99M273.14,11.20V8.99H309.20V13.67M246.51,14.34V7.58H291.17V8.99M325.64,38.40V33.91H326.00V38.40M325.28,38.40V31.09H325.82V33.91M326.71,38.40V33.54H327.07V38.40M326.35,38.40V31.74H326.89V33.54M325.55,31.09V27.82H326.62V31.74M327.43,38.40V33.53H327.79V38.40M328.14,38.40V33.66H328.50V38.40M328.32,33.66V30.81H328.86V38.40M329.22,38.40V33.87H329.58V38.40M329.94,38.40V33.72H330.29V38.40M329.40,33.87V30.51H330.11V33.72M328.59,30.81V27.83H329.76V30.51M327.61,33.53V25.21H329.17V27.83M326.08,27.82V22.67H328.39V25.21M331.01,38.40V33.74H331.37V38.40M331.19,33.74V31.26H331.73V38.40M330.65,38.40V29.18H331.46V31.26M332.08,38.40V33.60H332.44V38.40M331.06,29.18V26.69H332.26V33.60M332.80,38.40V33.36H333.16V38.40M333.52,38.40V33.73H333.88V38.40M334.23,38.40V33.69H334.59V38.40M333.70,33.73V30.21H334.41V33.69M334.95,38.40V33.74H335.31V38.40M334.06,30.21V26.68H335.13V33.74M332.98,33.36V24.99H334.59V26.68M331.66,26.69V21.76H333.79V24.99M327.24,22.67V18.67H332.72V21.76M336.03,38.40V33.58H336.38V38.40M336.20,33.58V29.96H336.74V38.40M335.67,38.40V26.42H336.47V29.96M337.82,38.40V33.47H338.17V38.40M337.46,38.40V31.87H338.00V33.47M337.10,38.40V29.04H337.73V31.87M336.07,26.42V23.41H337.41V29.04M338.89,38.40V33.80H339.25V38.40M338.53,38.40V31.84H339.07V33.80M338.80,31.84V29.20H339.61V38.40M339.97,38.40V33.40H340.32V38.40M339.20,29.20V27.77H340.15V33.40M336.74,23.41V21.75H339.68V27.77M340.68,38.40V33.79H341.04V38.40M340.86,33.79V30.84H341.40V38.40M341.76,38.40V34.05H342.12V38.40M341.13,30.84V28.75H341.94V34.05M342.83,38.40V33.46H343.19V38.40M342.47,38.40V31.52H343.01V33.46M341.53,28.75V26.25H342.74V31.52M338.21,21.75V20.21H342.14V26.25M329.98,18.67V15.71H340.17V20.21M343.55,38.40V33.72H343.91V38.40M343.73,33.72V29.90H344.26V38.40M344.98,38.40V33.39H345.34V38.40M344.62,38.40V31.63H345.16V33.39M344.00,29.90V26.90H344.89V31.63M345.70,38.40V33.59H346.06V38.40M345.88,33.59V29.82H346.41V38.40M346.77,38.40V33.46H347.13V38.40M346.95,33.46V30.73H347.49V38.40M347.22,30.73V29.07H347.85V38.40M346.15,29.82V26.27H347.53V29.07M344.44,26.90V23.56H346.84V26.27M348.56,38.40V33.81H348.92V38.40M348.21,38.40V31.11H348.74V33.81M348.47,31.11V29.34H349.28V38.40M350.00,38.40V33.30H350.36V38.40M349.64,38.40V30.31H350.18V33.30M349.91,30.31V28.94H350.71V38.40M351.07,38.40V34.11H351.43V38.40M351.25,34.11V30.69H351.79V38.40M352.15,38.40V33.98H352.50V38.40M352.33,33.98V31.24H352.86V38.40M351.52,30.69V27.02H352.59V31.24M350.31,28.94V25.28H352.06V27.02M348.88,29.34V21.87H351.18V25.28M353.22,38.40V33.45H353.58V38.40M353.94,38.40V33.87H354.30V38.40M353.40,33.45V29.68H354.12V33.87M354.65,38.40V33.30H355.01V38.40M355.37,38.40V33.60H355.73V38.40M355.55,33.60V30.77H356.09V38.40M354.83,33.30V28.93H355.82V30.77M353.76,29.68V26.10H355.33V28.93M350.03,21.87V20.00H354.54V26.10M356.44,38.40V33.64H356.80V38.40M357.52,38.40V33.62H357.88V38.40M357.16,38.40V30.16H357.70V33.62M356.62,33.64V28.13H357.43V30.16M358.59,38.40V33.31H358.95V38.40M358.24,38.40V29.93H358.77V33.31M359.31,38.40V33.58H359.67V38.40M360.03,38.40V33.33H360.39V38.40M360.21,33.33V30.98H360.74V38.40M359.49,33.58V28.39H360.48V30.98M358.50,29.93V25.72H359.98V28.39M357.03,28.13V22.63H359.24V25.72M352.29,20.00V18.94H358.14V22.63M345.64,23.56V17.83H355.21V18.94M335.08,15.71V12.79H350.43V17.83M361.10,38.40V34.12H361.46V38.40M361.82,38.40V33.53H362.18V38.40M362.53,38.40V34.09H362.89V38.40M362.00,33.53V29.67H362.71V34.09M361.28,34.12V27.89H362.36V29.67M363.25,38.40V33.85H363.61V38.40M361.82,27.89V25.55H363.43V33.85M363.97,38.40V33.54H364.33V38.40M364.68,38.40V33.38H365.04V38.40M364.15,33.54V30.35H364.86V33.38M365.40,38.40V33.24H365.76V38.40M365.58,33.24V30.23H366.12V38.40M364.51,30.35V25.84H365.85V30.23M366.48,38.40V33.84H366.83V38.40M366.65,33.84V30.98H367.19V38.40M365.18,25.84V22.78H366.92V30.98M367.55,38.40V33.38H367.91V38.40M368.27,38.40V33.27H368.62V38.40M368.98,38.40V33.37H369.34V38.40M368.45,33.27V29.59H369.16V33.37M367.73,33.38V27.77H368.80V29.59M366.05,22.78V20.89H368.27V27.77M362.62,25.55V18.06H367.16V20.89M369.70,38.40V33.49H370.06V38.40M370.42,38.40V33.43H370.77V38.40M370.60,33.43V29.86H371.13V38.40M371.49,38.40V34.04H371.85V38.40M370.86,29.86V27.82H371.67V34.04M369.88,33.49V26.14H371.27V27.82M372.21,38.40V33.83H372.57V38.40M372.92,38.40V33.45H373.28V38.40M372.39,33.83V29.59H373.10V33.45M373.64,38.40V33.52H374.00V38.40M374.36,38.40V33.55H374.71V38.40M373.82,33.52V29.14H374.54V33.55M375.43,38.40V33.79H375.79V38.40M375.07,38.40V30.13H375.61V33.79M374.18,29.14V27.19H375.34V30.13M376.51,38.40V33.92H376.86V38.40M376.15,38.40V31.28H376.69V33.92M374.76,27.19V24.52H376.42V31.28M372.74,29.59V21.17H375.59V24.52M370.57,26.14V18.92H374.17V21.17M377.22,38.40V33.40H377.58V38.40M377.94,38.40V33.92H378.30V38.40M377.40,33.40V30.09H378.12V33.92M378.66,38.40V33.78H379.01V38.40M379.37,38.40V33.69H379.73V38.40M378.83,33.78V30.09H379.55V33.69M380.09,38.40V33.44H380.45V38.40M380.27,33.44V29.65H380.80V38.40M379.19,30.09V25.80H380.54V29.65M381.52,38.40V33.20H381.88V38.40M381.16,38.40V29.93H381.70V33.20M382.24,38.40V33.23H382.60V38.40M381.43,29.93V26.79H382.42V33.23M379.86,25.80V23.61H381.92V26.79M377.76,30.09V20.55H380.89V23.61M372.37,18.92V17.76H379.33V20.55M382.95,38.40V33.51H383.31V38.40M383.67,38.40V33.84H384.03V38.40M384.39,38.40V33.83H384.75V38.40M383.85,33.84V30.09H384.57V33.83M385.46,38.40V33.74H385.82V38.40M385.10,38.40V31.00H385.64V33.74M384.21,30.09V26.82H385.37V31.00M383.13,33.51V24.55H384.79V26.82M386.18,38.40V33.65H386.54V38.40M386.36,33.65V31.52H386.89V38.40M387.25,38.40V33.72H387.61V38.40M388.33,38.40V34.08H388.69V38.40M387.97,38.40V30.52H388.51V34.08M387.43,33.72V27.75H388.24V30.52M386.63,31.52V24.26H387.84V27.75M389.04,38.40V33.96H389.40V38.40M389.76,38.40V33.36H390.12V38.40M390.48,38.40V33.58H390.84V38.40M389.94,33.36V29.60H390.66V33.58M389.22,33.96V27.82H390.30V29.60M391.19,38.40V34.07H391.55V38.40M389.76,27.82V26.14H391.37V34.07M387.23,24.26V21.39H390.57V26.14M383.96,24.55V19.30H388.90V21.39M375.85,17.76V16.50H386.43V19.30M364.89,18.06V13.34H381.14V16.50M342.75,12.79V10.98H373.02V13.34M268.84,7.58V5.34H357.88V10.98M391.91,38.40V33.69H392.27V38.40M392.63,38.40V33.69H392.99V38.40M392.09,33.69V29.36H392.81V33.69M393.34,38.40V34.04H393.70V38.40M393.52,34.04V31.70H394.06V38.40M394.42,38.40V33.90H394.78V38.40M393.79,31.70V28.08H394.60V33.90M392.45,29.36V24.67H394.19V28.08M395.13,38.40V33.82H395.49V38.40M395.31,33.82V29.95H395.85V38.40M395.58,29.95V26.54H396.21V38.40M393.32,24.67V22.82H395.90V26.54M396.57,38.40V34.05H396.93V38.40M397.28,38.40V33.74H397.64V38.40M396.75,34.05V29.20H397.46V33.74M398.00,38.40V33.28H398.36V38.40M397.10,29.20V27.26H398.18V33.28M399.07,38.40V33.78H399.43V38.40M398.72,38.40V31.23H399.25V33.78M397.64,27.26V24.24H398.99V31.23M399.79,38.40V34.10H400.15V38.40M400.87,38.40V33.49H401.22V38.40M400.51,38.40V31.45H401.05V33.49M399.97,34.10V28.78H400.78V31.45M401.94,38.40V33.78H402.30V38.40M401.58,38.40V31.23H402.12V33.78M403.02,38.40V33.52H403.37V38.40M402.66,38.40V29.79H403.19V33.52M401.85,31.23V28.23H402.93V29.79M400.37,28.78V24.61H402.39V28.23M398.31,24.24V21.06H401.38V24.61M394.61,22.82V19.99H399.85V21.06M403.73,38.40V33.21H404.09V38.40M404.45,38.40V33.84H404.81V38.40M404.63,33.84V30.79H405.16V38.40M403.91,33.21V28.02H404.90V30.79M405.88,38.40V33.95H406.24V38.40M405.52,38.40V31.67H406.06V33.95M406.96,38.40V33.21H407.31V38.40M406.60,38.40V29.52H407.14V33.21M407.67,38.40V34.01H408.03V38.40M406.87,29.52V26.86H407.85V34.01M405.79,31.67V24.65H407.36V26.86M404.40,28.02V21.78H406.58V24.65M397.23,19.99V16.53H405.49V21.78M408.39,38.40V34.11H408.75V38.40M409.11,38.40V33.43H409.46V38.40M408.57,34.11V30.32H409.28V33.43M409.82,38.40V33.54H410.18V38.40M410.54,38.40V33.68H410.90V38.40M410.00,33.54V29.40H410.72V33.68M408.93,30.32V25.74H410.36V29.40M411.61,38.40V34.02H411.97V38.40M411.25,38.40V30.86H411.79V34.02M411.52,30.86V27.65H412.33V38.40M411.93,27.65V26.07H412.69V38.40M413.05,38.40V33.45H413.40V38.40M413.23,33.45V30.53H413.76V38.40M412.31,26.07V24.53H413.49V30.53M409.64,25.74V21.59H412.90V24.53M401.36,16.53V14.69H411.27V21.59M414.12,38.40V33.35H414.48V38.40M414.30,33.35V30.32H414.84V38.40M415.20,38.40V33.43H415.55V38.40M415.37,33.43V31.26H415.91V38.40M414.57,30.32V27.94H415.64V31.26M416.27,38.40V33.88H416.63V38.40M416.45,33.88V30.82H416.99V38.40M415.11,27.94V25.39H416.72V30.82M417.70,38.40V33.73H418.06V38.40M417.88,33.73V31.42H418.42V38.40M417.35,38.40V29.15H418.15V31.42M415.91,25.39V21.99H417.75V29.15M418.78,38.40V33.71H419.14V38.40M419.49,38.40V33.59H419.85V38.40M418.96,33.71V29.58H419.67V33.59M419.32,29.58V26.91H420.21V38.40M420.93,38.40V33.90H421.29V38.40M420.57,38.40V30.92H421.11V33.90M421.64,38.40V33.33H422.00V38.40M420.84,30.92V29.04H421.82V33.33M419.76,26.91V23.62H421.33V29.04M416.83,21.99V19.09H420.55V23.62M422.36,38.40V33.22H422.72V38.40M422.54,33.22V30.68H423.08V38.40M423.43,38.40V33.33H423.79V38.40M423.61,33.33V31.02H424.15V38.40M424.51,38.40V33.72H424.87V38.40M423.88,31.02V27.75H424.69V33.72M422.81,30.68V25.65H424.29V27.75M425.58,38.40V33.78H425.94V38.40M425.23,38.40V29.90H425.76V33.78M426.30,38.40V33.56H426.66V38.40M425.49,29.90V27.90H426.48V33.56M428.09,38.40V33.52H428.45V38.40M427.73,38.40V31.54H428.27V33.52M427.38,38.40V29.23H428.00V31.54M427.02,38.40V26.93H427.69V29.23M425.99,27.90V23.64H427.35V26.93M429.17,38.40V34.10H429.52V38.40M429.35,34.10V30.10H429.88V38.40M428.81,38.40V26.71H429.61V30.10M430.60,38.40V33.73H430.96V38.40M430.24,38.40V30.19H430.78V33.73M429.21,26.71V24.63H430.51V30.19M431.67,38.40V33.45H432.03V38.40M431.32,38.40V30.05H431.85V33.45M432.39,38.40V33.57H432.75V38.40M431.58,30.05V26.96H432.57V33.57M429.86,24.63V23.42H432.08V26.96M426.67,23.64V20.33H430.97V23.42M423.55,25.65V18.83H428.82V20.33M418.69,19.09V16.00H426.18V18.83M433.11,38.40V33.72H433.47V38.40M434.18,38.40V33.84H434.54V38.40M433.82,38.40V30.61H434.36V33.84M434.90,38.40V33.81H435.26V38.40M435.62,38.40V34.11H435.97V38.40M435.08,33.81V29.26H435.79V34.11M434.09,30.61V25.64H435.44V29.26M433.29,33.72V23.32H434.76V25.64M436.33,38.40V33.91H436.69V38.40M437.05,38.40V33.79H437.41V38.40M436.51,33.91V29.09H437.23V33.79M436.87,29.09V27.56H437.76V38.40M438.48,38.40V33.26H438.84V38.40M438.12,38.40V29.97H438.66V33.26M437.32,27.56V24.06H438.39V29.97M439.20,38.40V33.31H439.56V38.40M439.91,38.40V34.09H440.27V38.40M439.38,33.31V29.74H440.09V34.09M440.63,38.40V33.92H440.99V38.40M439.73,29.74V26.54H440.81V33.92M437.85,24.06V20.86H440.27V26.54M434.03,23.32V18.21H439.06V20.86M442.06,38.40V33.91H442.42V38.40M441.70,38.40V30.74H442.24V33.91M441.35,38.40V29.26H441.97V30.74M442.78,38.40V33.46H443.14V38.40M441.66,29.26V26.75H442.96V33.46M443.85,38.40V33.26H444.21V38.40M444.57,38.40V33.61H444.93V38.40M444.03,33.26V29.96H444.75V33.61M443.50,38.40V28.07H444.39V29.96M445.65,38.40V33.95H446.00V38.40M445.29,38.40V31.31H445.82V33.95M446.36,38.40V33.68H446.72V38.40M446.54,33.68V30.24H447.08V38.40M446.81,30.24V27.65H447.44V38.40M445.56,31.31V25.51H447.12V27.65M443.94,28.07V23.99H446.34V25.51M442.31,26.75V21.03H445.14V23.99M448.15,38.40V33.52H448.51V38.40M448.33,33.52V29.63H448.87V38.40M447.79,38.40V27.26H448.60V29.63M449.94,38.40V33.50H450.30V38.40M449.59,38.40V31.37H450.12V33.50M449.23,38.40V28.23H449.85V31.37M448.20,27.26V25.76H449.54V28.23M451.02,38.40V33.80H451.38V38.40M450.66,38.40V30.86H451.20V33.80M451.74,38.40V33.78H452.09V38.40M451.91,33.78V30.36H452.45V38.40M450.93,30.86V26.90H452.18V30.36M452.81,38.40V33.34H453.17V38.40M452.99,33.34V30.86H453.53V38.40M451.56,26.90V25.42H453.26V30.86M448.87,25.76V21.71H452.41V25.42M443.73,21.03V19.08H450.64V21.71M436.54,18.21V15.64H447.18V19.08M422.44,16.00V13.88H441.86V15.64M454.24,38.40V33.93H454.60V38.40M453.88,38.40V31.77H454.42V33.93M454.15,31.77V29.22H454.96V38.40M455.32,38.40V34.00H455.68V38.40M454.56,29.22V27.49H455.50V34.00M456.75,38.40V33.25H457.11V38.40M456.39,38.40V30.47H456.93V33.25M456.03,38.40V28.43H456.66V30.47M455.03,27.49V24.31H456.35V28.43M457.47,38.40V34.00H457.83V38.40M458.90,38.40V33.39H459.26V38.40M458.54,38.40V30.91H459.08V33.39M458.18,38.40V28.37H458.81V30.91M457.65,34.00V26.90H458.50V28.37M459.62,38.40V33.58H459.98V38.40M458.07,26.90V25.32H459.80V33.58M455.69,24.31V22.76H458.93V25.32M460.33,38.40V33.83H460.69V38.40M461.05,38.40V33.45H461.41V38.40M460.51,33.83V29.57H461.23V33.45M461.77,38.40V33.47H462.12V38.40M460.87,29.57V26.41H461.95V33.47M462.84,38.40V33.24H463.20V38.40M462.48,38.40V29.49H463.02V33.24M463.56,38.40V33.50H463.92V38.40M462.75,29.49V27.72H463.74V33.50M461.41,26.41V23.96H463.24V27.72M464.63,38.40V33.50H464.99V38.40M464.27,38.40V30.08H464.81V33.50M465.35,38.40V33.38H465.71V38.40M465.53,33.38V30.66H466.06V38.40M464.54,30.08V27.18H465.80V30.66M466.78,38.40V33.80H467.14V38.40M466.96,33.80V30.11H467.50V38.40M466.42,38.40V28.58H467.23V30.11M465.17,27.18V25.80H466.83V28.58M462.33,23.96V20.70H466.00V25.80M457.31,22.76V18.67H464.16V20.70M467.86,38.40V33.40H468.21V38.40M468.57,38.40V33.38H468.93V38.40M468.04,33.40V29.41H468.75V33.38M469.29,38.40V33.40H469.65V38.40M470.01,38.40V33.19H470.36V38.40M470.18,33.19V31.82H470.72V38.40M469.47,33.40V28.51H470.45V31.82M468.39,29.41V26.24H469.96V28.51M471.44,38.40V33.44H471.80V38.40M471.08,38.40V30.19H471.62V33.44M472.15,38.40V33.38H472.51V38.40M473.23,38.40V33.61H473.59V38.40M472.87,38.40V30.94H473.41V33.61M472.33,33.38V29.12H473.14V30.94M471.35,30.19V25.64H472.74V29.12M474.66,38.40V33.46H475.02V38.40M474.30,38.40V31.19H474.84V33.46M473.95,38.40V28.40H474.57V31.19M472.04,25.64V24.49H474.26V28.40M469.18,26.24V21.67H473.15V24.49M460.74,18.67V17.66H471.16V21.67M432.15,13.88V11.25H465.95V17.66M406.32,14.69V8.80H449.05V11.25M313.36,5.34V3.80H427.68V8.80" fill="none" stroke="#959595" stroke-width="0.5"/>
<path d="M227.4,41.72 L224.25,41.72 L224.25,47.35 L227.4,47.35 M227.4,52.99 L223.55,52.99 L223.55,58.62 L227.4,58.62 M224.25,44.53 L220.05,44.53 L220.05,55.80 L223.55,55.80 M227.4,64.26 L224.25,64.26 L224.25,69.89 L227.4,69.89 M227.4,75.53 L223.55,75.53 L223.55,81.16 L227.4,81.16 M224.25,67.07 L220.05,67.07 L220.05,78.34 L223.55,78.34 M227.4,86.80 L224.25,86.80 L224.25,92.43 L227.4,92.43 M227.4,98.07 L223.55,98.07 L223.55,103.70 L227.4,103.70 M224.25,89.62 L220.05,89.62 L220.05,100.88 L223.55,100.88 M227.4,109.34 L224.25,109.34 L224.25,114.97 L227.4,114.97 M227.4,120.61 L223.55,120.61 L223.55,126.24 L227.4,126.24 M224.25,112.16 L220.05,112.16 L220.05,123.42 L223.55,123.42 M227.4,131.88 L224.25,131.88 L224.25,137.51 L227.4,137.51 M227.4,143.15 L223.55,143.15 L223.55,148.78 L227.4,148.78 M224.25,134.69 L220.05,134.69 L220.05,145.97 L223.55,145.97 M220.05,50.17 L216.55,50.17 L216.55,72.71 L220.05,72.71 M216.55,61.44 L214.28,61.44 L214.28,95.25 L220.05,95.25 M220.05,117.79 L213.40,117.79 L213.40,140.33 L220.05,140.33 M214.28,78.34 L209.90,78.34 L209.90,129.06 L213.40,129.06" fill="none" stroke="#b0b0b0" stroke-width="0.45"/>
<text x="160.20" y="174.90" font-size="10.4" text-anchor="start" fill="#000" stroke="#000" stroke-width="0.2" font-weight="bold">d</text>
<rect x="175.6" y="186.7" width="370.7" height="87.6" rx="5.5" fill="none" stroke="#404040" stroke-width="1.1"/>
<text x="183.90" y="199.00" font-size="8.3" text-anchor="start" fill="#1a1a1a" stroke="#1a1a1a" stroke-width="0.2" textLength="147.60" lengthAdjust="spacingAndGlyphs">Regulation of cell proliferation/migration</text>
<path d="M199.00,207.30 H203.90 V216.50 H194.40 V211.90 A4.6,4.6 0 0 1 199.00,207.30 Z" fill="#7e8af1"/>
<path d="M203.90,207.30 H208.80 A4.6,4.6 0 0 1 213.40,211.90 V216.50 H203.90 Z" fill="#7e8af1"/>
<path d="M194.40,216.50 H203.90 V225.70 H199.00 A4.6,4.6 0 0 1 194.40,221.10 Z" fill="#7987f0"/>
<path d="M203.90,216.50 H213.40 V221.10 A4.6,4.6 0 0 1 208.80,225.70 H203.90 Z" fill="#a8aef5"/>
<path d="M203.90,207.30 V225.70 M194.40,216.50 H213.40" stroke="#262626" stroke-width="1.1"/>
<rect x="194.40" y="207.30" width="19.0" height="18.4" rx="4.6" fill="none" stroke="#363636" stroke-width="1.15"/>
<text x="203.90" y="235.30" font-size="6.35" text-anchor="middle" fill="#2e2e2e" stroke="#2e2e2e" stroke-width="0.14">AQP1</text>
<path d="M225.05,207.30 H229.95 V216.50 H220.45 V211.90 A4.6,4.6 0 0 1 225.05,207.30 Z" fill="#fde0d6"/>
<path d="M229.95,207.30 H234.85 A4.6,4.6 0 0 1 239.45,211.90 V216.50 H229.95 Z" fill="#fab9a4"/>
<path d="M220.45,216.50 H229.95 V225.70 H225.05 A4.6,4.6 0 0 1 220.45,221.10 Z" fill="#f8aa93"/>
<path d="M229.95,216.50 H239.45 V221.10 A4.6,4.6 0 0 1 234.85,225.70 H229.95 Z" fill="#f58a6e"/>
<path d="M229.95,207.30 V225.70 M220.45,216.50 H239.45" stroke="#262626" stroke-width="1.1"/>
<rect x="220.45" y="207.30" width="19.0" height="18.4" rx="4.6" fill="none" stroke="#363636" stroke-width="1.15"/>
<text x="229.95" y="235.30" font-size="6.35" text-anchor="middle" fill="#2e2e2e" stroke="#2e2e2e" stroke-width="0.14">CAD13</text>
<path d="M251.10,207.30 H256.00 V216.50 H246.50 V211.90 A4.6,4.6 0 0 1 251.10,207.30 Z" fill="#d3d5fa"/>
<path d="M256.00,207.30 H260.90 A4.6,4.6 0 0 1 265.50,211.90 V216.50 H256.00 Z" fill="#d3d5fa"/>
<path d="M246.50,216.50 H256.00 V225.70 H251.10 A4.6,4.6 0 0 1 246.50,221.10 Z" fill="#d3d5fa"/>
<path d="M256.00,216.50 H265.50 V221.10 A4.6,4.6 0 0 1 260.90,225.70 H256.00 Z" fill="#dee0fb"/>
<path d="M256.00,207.30 V225.70 M246.50,216.50 H265.50" stroke="#262626" stroke-width="1.1"/>
<rect x="246.50" y="207.30" width="19.0" height="18.4" rx="4.6" fill="none" stroke="#363636" stroke-width="1.15"/>
<text x="256.00" y="235.30" font-size="6.35" text-anchor="middle" fill="#2e2e2e" stroke="#2e2e2e" stroke-width="0.14">CLD7</text>
<path d="M277.15,207.30 H282.05 V216.50 H272.55 V211.90 A4.6,4.6 0 0 1 277.15,207.30 Z" fill="#fde9e3"/>
<path d="M282.05,207.30 H286.95 A4.6,4.6 0 0 1 291.55,211.90 V216.50 H282.05 Z" fill="#fde0d6"/>
<path d="M272.55,216.50 H282.05 V225.70 H277.15 A4.6,4.6 0 0 1 272.55,221.10 Z" fill="#fbc8b6"/>
<path d="M282.05,216.50 H291.55 V221.10 A4.6,4.6 0 0 1 286.95,225.70 H282.05 Z" fill="#fcdbd0"/>
<path d="M282.05,207.30 V225.70 M272.55,216.50 H291.55" stroke="#262626" stroke-width="1.1"/>
<rect x="272.55" y="207.30" width="19.0" height="18.4" rx="4.6" fill="none" stroke="#363636" stroke-width="1.15"/>
<text x="282.05" y="235.30" font-size="6.35" text-anchor="middle" fill="#2e2e2e" stroke="#2e2e2e" stroke-width="0.14">CRKL</text>
<path d="M303.20,207.30 H308.10 V216.50 H298.60 V211.90 A4.6,4.6 0 0 1 303.20,207.30 Z" fill="#fabeaa"/>
<path d="M308.10,207.30 H313.00 A4.6,4.6 0 0 1 317.60,211.90 V216.50 H308.10 Z" fill="#f47c5e"/>
<path d="M298.60,216.50 H308.10 V225.70 H303.20 A4.6,4.6 0 0 1 298.60,221.10 Z" fill="#fab9a4"/>
<path d="M308.10,216.50 H317.60 V221.10 A4.6,4.6 0 0 1 313.00,225.70 H308.10 Z" fill="#f0482a"/>
<path d="M308.10,207.30 V225.70 M298.60,216.50 H317.60" stroke="#262626" stroke-width="1.1"/>
<rect x="298.60" y="207.30" width="19.0" height="18.4" rx="4.6" fill="none" stroke="#363636" stroke-width="1.15"/>
<text x="308.10" y="235.30" font-size="6.35" text-anchor="middle" fill="#2e2e2e" stroke="#2e2e2e" stroke-width="0.14">CSK21</text>
<path d="M329.25,207.30 H334.15 V216.50 H324.65 V211.90 A4.6,4.6 0 0 1 329.25,207.30 Z" fill="#677aec"/>
<path d="M334.15,207.30 H339.05 A4.6,4.6 0 0 1 343.65,211.90 V216.50 H334.15 Z" fill="#7584ef"/>
<path d="M324.65,216.50 H334.15 V225.70 H329.25 A4.6,4.6 0 0 1 324.65,221.10 Z" fill="#4260e4"/>
<path d="M334.15,216.50 H343.65 V221.10 A4.6,4.6 0 0 1 339.05,225.70 H334.15 Z" fill="#677aec"/>
<path d="M334.15,207.30 V225.70 M324.65,216.50 H343.65" stroke="#262626" stroke-width="1.1"/>
<rect x="324.65" y="207.30" width="19.0" height="18.4" rx="4.6" fill="none" stroke="#363636" stroke-width="1.15"/>
<text x="334.15" y="235.30" font-size="6.35" text-anchor="middle" fill="#2e2e2e" stroke="#2e2e2e" stroke-width="0.14">CXL10</text>
<path d="M355.30,207.30 H360.20 V216.50 H350.70 V211.90 A4.6,4.6 0 0 1 355.30,207.30 Z" fill="#8f98f3"/>
<path d="M360.20,207.30 H365.10 A4.6,4.6 0 0 1 369.70,211.90 V216.50 H360.20 Z" fill="#828ef1"/>
<path d="M350.70,216.50 H360.20 V225.70 H355.30 A4.6,4.6 0 0 1 350.70,221.10 Z" fill="#6c7ded"/>
<path d="M360.20,216.50 H369.70 V221.10 A4.6,4.6 0 0 1 365.10,225.70 H360.20 Z" fill="#9ba3f4"/>
<path d="M360.20,207.30 V225.70 M350.70,216.50 H369.70" stroke="#262626" stroke-width="1.1"/>
<rect x="350.70" y="207.30" width="19.0" height="18.4" rx="4.6" fill="none" stroke="#363636" stroke-width="1.15"/>
<text x="360.20" y="235.30" font-size="6.35" text-anchor="middle" fill="#2e2e2e" stroke="#2e2e2e" stroke-width="0.14">FGFP1</text>
<path d="M381.35,207.30 H386.25 V216.50 H376.75 V211.90 A4.6,4.6 0 0 1 381.35,207.30 Z" fill="#babff7"/>
<path d="M386.25,207.30 H391.15 A4.6,4.6 0 0 1 395.75,211.90 V216.50 H386.25 Z" fill="#9ba3f4"/>
<path d="M376.75,216.50 H386.25 V225.70 H381.35 A4.6,4.6 0 0 1 376.75,221.10 Z" fill="#a8aef5"/>
<path d="M386.25,216.50 H395.75 V221.10 A4.6,4.6 0 0 1 391.15,225.70 H386.25 Z" fill="#c7caf9"/>
<path d="M386.25,207.30 V225.70 M376.75,216.50 H395.75" stroke="#262626" stroke-width="1.1"/>
<rect x="376.75" y="207.30" width="19.0" height="18.4" rx="4.6" fill="none" stroke="#363636" stroke-width="1.15"/>
<text x="386.25" y="235.30" font-size="6.35" text-anchor="middle" fill="#2e2e2e" stroke="#2e2e2e" stroke-width="0.14">FINC</text>
<path d="M407.40,207.30 H412.30 V216.50 H402.80 V211.90 A4.6,4.6 0 0 1 407.40,207.30 Z" fill="#ffffff"/>
<path d="M412.30,207.30 H417.20 A4.6,4.6 0 0 1 421.80,211.90 V216.50 H412.30 Z" fill="#fcdbd0"/>
<path d="M402.80,216.50 H412.30 V225.70 H407.40 A4.6,4.6 0 0 1 402.80,221.10 Z" fill="#eeeffd"/>
<path d="M412.30,216.50 H421.80 V221.10 A4.6,4.6 0 0 1 417.20,225.70 H412.30 Z" fill="#fac3b0"/>
<path d="M412.30,207.30 V225.70 M402.80,216.50 H421.80" stroke="#262626" stroke-width="1.1"/>
<rect x="402.80" y="207.30" width="19.0" height="18.4" rx="4.6" fill="none" stroke="#363636" stroke-width="1.15"/>
<text x="412.30" y="235.30" font-size="6.35" text-anchor="middle" fill="#2e2e2e" stroke="#2e2e2e" stroke-width="0.14">GNAI2</text>
<path d="M433.45,207.30 H438.35 V216.50 H428.85 V211.90 A4.6,4.6 0 0 1 433.45,207.30 Z" fill="#f7a087"/>
<path d="M438.35,207.30 H443.25 A4.6,4.6 0 0 1 447.85,211.90 V216.50 H438.35 Z" fill="#fffbf9"/>
<path d="M428.85,216.50 H438.35 V225.70 H433.45 A4.6,4.6 0 0 1 428.85,221.10 Z" fill="#fcd2c3"/>
<path d="M438.35,216.50 H447.85 V221.10 A4.6,4.6 0 0 1 443.25,225.70 H438.35 Z" fill="#fbcdbc"/>
<path d="M438.35,207.30 V225.70 M428.85,216.50 H447.85" stroke="#262626" stroke-width="1.1"/>
<rect x="428.85" y="207.30" width="19.0" height="18.4" rx="4.6" fill="none" stroke="#363636" stroke-width="1.15"/>
<text x="438.35" y="235.30" font-size="6.35" text-anchor="middle" fill="#2e2e2e" stroke="#2e2e2e" stroke-width="0.14">HMGB1</text>
<path d="M459.50,207.30 H464.40 V216.50 H454.90 V211.90 A4.6,4.6 0 0 1 459.50,207.30 Z" fill="#d3d5fa"/>
<path d="M464.40,207.30 H469.30 A4.6,4.6 0 0 1 473.90,211.90 V216.50 H464.40 Z" fill="#eeeffd"/>
<path d="M454.90,216.50 H464.40 V225.70 H459.50 A4.6,4.6 0 0 1 454.90,221.10 Z" fill="#d8dafb"/>
<path d="M464.40,216.50 H473.90 V221.10 A4.6,4.6 0 0 1 469.30,225.70 H464.40 Z" fill="#f4f4fe"/>
<path d="M464.40,207.30 V225.70 M454.90,216.50 H473.90" stroke="#262626" stroke-width="1.1"/>
<rect x="454.90" y="207.30" width="19.0" height="18.4" rx="4.6" fill="none" stroke="#363636" stroke-width="1.15"/>
<text x="464.40" y="235.30" font-size="6.35" text-anchor="middle" fill="#2e2e2e" stroke="#2e2e2e" stroke-width="0.14">ITB1</text>
<path d="M485.55,207.30 H490.45 V216.50 H480.95 V211.90 A4.6,4.6 0 0 1 485.55,207.30 Z" fill="#a8aef5"/>
<path d="M490.45,207.30 H495.35 A4.6,4.6 0 0 1 499.95,211.90 V216.50 H490.45 Z" fill="#d3d5fa"/>
<path d="M480.95,216.50 H490.45 V225.70 H485.55 A4.6,4.6 0 0 1 480.95,221.10 Z" fill="#d3d5fa"/>
<path d="M490.45,216.50 H499.95 V221.10 A4.6,4.6 0 0 1 495.35,225.70 H490.45 Z" fill="#fafafe"/>
<path d="M490.45,207.30 V225.70 M480.95,216.50 H499.95" stroke="#262626" stroke-width="1.1"/>
<rect x="480.95" y="207.30" width="19.0" height="18.4" rx="4.6" fill="none" stroke="#363636" stroke-width="1.15"/>
<text x="490.45" y="235.30" font-size="6.35" text-anchor="middle" fill="#2e2e2e" stroke="#2e2e2e" stroke-width="0.14">LAMC2</text>
<path d="M511.60,207.30 H516.50 V216.50 H507.00 V211.90 A4.6,4.6 0 0 1 511.60,207.30 Z" fill="#fde5dd"/>
<path d="M516.50,207.30 H521.40 A4.6,4.6 0 0 1 526.00,211.90 V216.50 H516.50 Z" fill="#f69277"/>
<path d="M507.00,216.50 H516.50 V225.70 H511.60 A4.6,4.6 0 0 1 507.00,221.10 Z" fill="#fabeaa"/>
<path d="M516.50,216.50 H526.00 V221.10 A4.6,4.6 0 0 1 521.40,225.70 H516.50 Z" fill="#fab9a4"/>
<path d="M516.50,207.30 V225.70 M507.00,216.50 H526.00" stroke="#262626" stroke-width="1.1"/>
<rect x="507.00" y="207.30" width="19.0" height="18.4" rx="4.6" fill="none" stroke="#363636" stroke-width="1.15"/>
<text x="516.50" y="235.30" font-size="6.35" text-anchor="middle" fill="#2e2e2e" stroke="#2e2e2e" stroke-width="0.14">LYN</text>
<path d="M199.20,241.40 H204.10 V250.60 H194.60 V246.00 A4.6,4.6 0 0 1 199.20,241.40 Z" fill="#d3d5fa"/>
<path d="M204.10,241.40 H209.00 A4.6,4.6 0 0 1 213.60,246.00 V250.60 H204.10 Z" fill="#dee0fb"/>
<path d="M194.60,250.60 H204.10 V259.80 H199.20 A4.6,4.6 0 0 1 194.60,255.20 Z" fill="#c7caf9"/>
<path d="M204.10,250.60 H213.60 V255.20 A4.6,4.6 0 0 1 209.00,259.80 H204.10 Z" fill="#d3d5fa"/>
<path d="M204.10,241.40 V259.80 M194.60,250.60 H213.60" stroke="#262626" stroke-width="1.1"/>
<rect x="194.60" y="241.40" width="19.0" height="18.4" rx="4.6" fill="none" stroke="#363636" stroke-width="1.15"/>
<text x="204.10" y="268.90" font-size="6.35" text-anchor="middle" fill="#2e2e2e" stroke="#2e2e2e" stroke-width="0.14">MTA3</text>
<path d="M225.25,241.40 H230.15 V250.60 H220.65 V246.00 A4.6,4.6 0 0 1 225.25,241.40 Z" fill="#939cf3"/>
<path d="M230.15,241.40 H235.05 A4.6,4.6 0 0 1 239.65,246.00 V250.60 H230.15 Z" fill="#7584ef"/>
<path d="M220.65,250.60 H230.15 V259.80 H225.25 A4.6,4.6 0 0 1 220.65,255.20 Z" fill="#7e8af1"/>
<path d="M230.15,250.60 H239.65 V255.20 A4.6,4.6 0 0 1 235.05,259.80 H230.15 Z" fill="#939cf3"/>
<path d="M230.15,241.40 V259.80 M220.65,250.60 H239.65" stroke="#262626" stroke-width="1.1"/>
<rect x="220.65" y="241.40" width="19.0" height="18.4" rx="4.6" fill="none" stroke="#363636" stroke-width="1.15"/>
<text x="230.15" y="268.90" font-size="6.35" text-anchor="middle" fill="#2e2e2e" stroke="#2e2e2e" stroke-width="0.14">NET1</text>
<path d="M251.30,241.40 H256.20 V250.60 H246.70 V246.00 A4.6,4.6 0 0 1 251.30,241.40 Z" fill="#f47658"/>
<path d="M256.20,241.40 H261.10 A4.6,4.6 0 0 1 265.70,246.00 V250.60 H256.20 Z" fill="#eb311e"/>
<path d="M246.70,250.60 H256.20 V259.80 H251.30 A4.6,4.6 0 0 1 246.70,255.20 Z" fill="#d10809"/>
<path d="M256.20,250.60 H265.70 V255.20 A4.6,4.6 0 0 1 261.10,259.80 H256.20 Z" fill="#d50a0a"/>
<path d="M256.20,241.40 V259.80 M246.70,250.60 H265.70" stroke="#262626" stroke-width="1.1"/>
<rect x="246.70" y="241.40" width="19.0" height="18.4" rx="4.6" fill="none" stroke="#363636" stroke-width="1.15"/>
<text x="256.20" y="268.90" font-size="6.35" text-anchor="middle" fill="#2e2e2e" stroke="#2e2e2e" stroke-width="0.14">NKX31</text>
<path d="M277.35,241.40 H282.25 V250.60 H272.75 V246.00 A4.6,4.6 0 0 1 277.35,241.40 Z" fill="#fafafe"/>
<path d="M282.25,241.40 H287.15 A4.6,4.6 0 0 1 291.75,246.00 V250.60 H282.25 Z" fill="#e4e5fc"/>
<path d="M272.75,250.60 H282.25 V259.80 H277.35 A4.6,4.6 0 0 1 272.75,255.20 Z" fill="#d3d5fa"/>
<path d="M282.25,250.60 H291.75 V255.20 A4.6,4.6 0 0 1 287.15,259.80 H282.25 Z" fill="#fafafe"/>
<path d="M282.25,241.40 V259.80 M272.75,250.60 H291.75" stroke="#262626" stroke-width="1.1"/>
<rect x="272.75" y="241.40" width="19.0" height="18.4" rx="4.6" fill="none" stroke="#363636" stroke-width="1.15"/>
<text x="282.25" y="268.90" font-size="6.35" text-anchor="middle" fill="#2e2e2e" stroke="#2e2e2e" stroke-width="0.14">NPM</text>
<path d="M303.40,241.40 H308.30 V250.60 H298.80 V246.00 A4.6,4.6 0 0 1 303.40,241.40 Z" fill="#9ba3f4"/>
<path d="M308.30,241.40 H313.20 A4.6,4.6 0 0 1 317.80,246.00 V250.60 H308.30 Z" fill="#939cf3"/>
<path d="M298.80,250.60 H308.30 V259.80 H303.40 A4.6,4.6 0 0 1 298.80,255.20 Z" fill="#939cf3"/>
<path d="M308.30,250.60 H317.80 V255.20 A4.6,4.6 0 0 1 313.20,259.80 H308.30 Z" fill="#a8aef5"/>
<path d="M308.30,241.40 V259.80 M298.80,250.60 H317.80" stroke="#262626" stroke-width="1.1"/>
<rect x="298.80" y="241.40" width="19.0" height="18.4" rx="4.6" fill="none" stroke="#363636" stroke-width="1.15"/>
<text x="308.30" y="268.90" font-size="6.35" text-anchor="middle" fill="#2e2e2e" stroke="#2e2e2e" stroke-width="0.14">PDGFA</text>
<path d="M329.45,241.40 H334.35 V250.60 H324.85 V246.00 A4.6,4.6 0 0 1 329.45,241.40 Z" fill="#babff7"/>
<path d="M334.35,241.40 H339.25 A4.6,4.6 0 0 1 343.85,246.00 V250.60 H334.35 Z" fill="#a4aaf5"/>
<path d="M324.85,250.60 H334.35 V259.80 H329.45 A4.6,4.6 0 0 1 324.85,255.20 Z" fill="#babff7"/>
<path d="M334.35,250.60 H343.85 V255.20 A4.6,4.6 0 0 1 339.25,259.80 H334.35 Z" fill="#c7caf9"/>
<path d="M334.35,241.40 V259.80 M324.85,250.60 H343.85" stroke="#262626" stroke-width="1.1"/>
<rect x="324.85" y="241.40" width="19.0" height="18.4" rx="4.6" fill="none" stroke="#363636" stroke-width="1.15"/>
<text x="334.35" y="268.90" font-size="6.35" text-anchor="middle" fill="#2e2e2e" stroke="#2e2e2e" stroke-width="0.14">PDGFC</text>
<path d="M355.50,241.40 H360.40 V250.60 H350.90 V246.00 A4.6,4.6 0 0 1 355.50,241.40 Z" fill="#828ef1"/>
<path d="M360.40,241.40 H365.30 A4.6,4.6 0 0 1 369.90,246.00 V250.60 H360.40 Z" fill="#b4b9f6"/>
<path d="M350.90,250.60 H360.40 V259.80 H355.50 A4.6,4.6 0 0 1 350.90,255.20 Z" fill="#939cf3"/>
<path d="M360.40,250.60 H369.90 V255.20 A4.6,4.6 0 0 1 365.30,259.80 H360.40 Z" fill="#cdcff9"/>
<path d="M360.40,241.40 V259.80 M350.90,250.60 H369.90" stroke="#262626" stroke-width="1.1"/>
<rect x="350.90" y="241.40" width="19.0" height="18.4" rx="4.6" fill="none" stroke="#363636" stroke-width="1.15"/>
<text x="360.40" y="268.90" font-size="6.35" text-anchor="middle" fill="#2e2e2e" stroke="#2e2e2e" stroke-width="0.14">RAB25</text>
<path d="M381.55,241.40 H386.45 V250.60 H376.95 V246.00 A4.6,4.6 0 0 1 381.55,241.40 Z" fill="#d3d5fa"/>
<path d="M386.45,241.40 H391.35 A4.6,4.6 0 0 1 395.95,246.00 V250.60 H386.45 Z" fill="#c7caf9"/>
<path d="M376.95,250.60 H386.45 V259.80 H381.55 A4.6,4.6 0 0 1 376.95,255.20 Z" fill="#d3d5fa"/>
<path d="M386.45,250.60 H395.95 V255.20 A4.6,4.6 0 0 1 391.35,259.80 H386.45 Z" fill="#d3d5fa"/>
<path d="M386.45,241.40 V259.80 M376.95,250.60 H395.95" stroke="#262626" stroke-width="1.1"/>
<rect x="376.95" y="241.40" width="19.0" height="18.4" rx="4.6" fill="none" stroke="#363636" stroke-width="1.15"/>
<text x="386.45" y="268.90" font-size="6.35" text-anchor="middle" fill="#2e2e2e" stroke="#2e2e2e" stroke-width="0.14">SEM3C</text>
<path d="M407.60,241.40 H412.50 V250.60 H403.00 V246.00 A4.6,4.6 0 0 1 407.60,241.40 Z" fill="#f8aa93"/>
<path d="M412.50,241.40 H417.40 A4.6,4.6 0 0 1 422.00,246.00 V250.60 H412.50 Z" fill="#f9b49e"/>
<path d="M403.00,250.60 H412.50 V259.80 H407.60 A4.6,4.6 0 0 1 403.00,255.20 Z" fill="#f9b49e"/>
<path d="M412.50,250.60 H422.00 V255.20 A4.6,4.6 0 0 1 417.40,259.80 H412.50 Z" fill="#fabeaa"/>
<path d="M412.50,241.40 V259.80 M403.00,250.60 H422.00" stroke="#262626" stroke-width="1.1"/>
<rect x="403.00" y="241.40" width="19.0" height="18.4" rx="4.6" fill="none" stroke="#363636" stroke-width="1.15"/>
<text x="412.50" y="268.90" font-size="6.35" text-anchor="middle" fill="#2e2e2e" stroke="#2e2e2e" stroke-width="0.14">TGBR3</text>
<path d="M433.65,241.40 H438.55 V250.60 H429.05 V246.00 A4.6,4.6 0 0 1 433.65,241.40 Z" fill="#babff7"/>
<path d="M438.55,241.40 H443.45 A4.6,4.6 0 0 1 448.05,246.00 V250.60 H438.55 Z" fill="#c7caf9"/>
<path d="M429.05,250.60 H438.55 V259.80 H433.65 A4.6,4.6 0 0 1 429.05,255.20 Z" fill="#c7caf9"/>
<path d="M438.55,250.60 H448.05 V255.20 A4.6,4.6 0 0 1 443.45,259.80 H438.55 Z" fill="#aeb4f6"/>
<path d="M438.55,241.40 V259.80 M429.05,250.60 H448.05" stroke="#262626" stroke-width="1.1"/>
<rect x="429.05" y="241.40" width="19.0" height="18.4" rx="4.6" fill="none" stroke="#363636" stroke-width="1.15"/>
<text x="438.55" y="268.90" font-size="6.35" text-anchor="middle" fill="#2e2e2e" stroke="#2e2e2e" stroke-width="0.14">TSP1</text>
<path d="M459.70,241.40 H464.60 V250.60 H455.10 V246.00 A4.6,4.6 0 0 1 459.70,241.40 Z" fill="#a8aef5"/>
<path d="M464.60,241.40 H469.50 A4.6,4.6 0 0 1 474.10,246.00 V250.60 H464.60 Z" fill="#f9b49e"/>
<path d="M455.10,250.60 H464.60 V259.80 H459.70 A4.6,4.6 0 0 1 455.10,255.20 Z" fill="#fde5dd"/>
<path d="M464.60,250.60 H474.10 V255.20 A4.6,4.6 0 0 1 469.50,259.80 H464.60 Z" fill="#fde0d6"/>
<path d="M464.60,241.40 V259.80 M455.10,250.60 H474.10" stroke="#262626" stroke-width="1.1"/>
<rect x="455.10" y="241.40" width="19.0" height="18.4" rx="4.6" fill="none" stroke="#363636" stroke-width="1.15"/>
<text x="464.60" y="268.90" font-size="6.35" text-anchor="middle" fill="#2e2e2e" stroke="#2e2e2e" stroke-width="0.14">UROK</text>
<path d="M485.75,241.40 H490.65 V250.60 H481.15 V246.00 A4.6,4.6 0 0 1 485.75,241.40 Z" fill="#fab9a4"/>
<path d="M490.65,241.40 H495.55 A4.6,4.6 0 0 1 500.15,246.00 V250.60 H490.65 Z" fill="#fde0d6"/>
<path d="M481.15,250.60 H490.65 V259.80 H485.75 A4.6,4.6 0 0 1 481.15,255.20 Z" fill="#f7a087"/>
<path d="M490.65,250.60 H500.15 V255.20 A4.6,4.6 0 0 1 495.55,259.80 H490.65 Z" fill="#f7a087"/>
<path d="M490.65,241.40 V259.80 M481.15,250.60 H500.15" stroke="#262626" stroke-width="1.1"/>
<rect x="481.15" y="241.40" width="19.0" height="18.4" rx="4.6" fill="none" stroke="#363636" stroke-width="1.15"/>
<text x="490.65" y="268.90" font-size="6.35" text-anchor="middle" fill="#2e2e2e" stroke="#2e2e2e" stroke-width="0.14">VILI</text>
<path d="M511.80,241.40 H516.70 V250.60 H507.20 V246.00 A4.6,4.6 0 0 1 511.80,241.40 Z" fill="#dee0fb"/>
<path d="M516.70,241.40 H521.60 A4.6,4.6 0 0 1 526.20,246.00 V250.60 H516.70 Z" fill="#e4e5fc"/>
<path d="M507.20,250.60 H516.70 V259.80 H511.80 A4.6,4.6 0 0 1 507.20,255.20 Z" fill="#d3d5fa"/>
<path d="M516.70,250.60 H526.20 V255.20 A4.6,4.6 0 0 1 521.60,259.80 H516.70 Z" fill="#a8aef5"/>
<path d="M516.70,241.40 V259.80 M507.20,250.60 H526.20" stroke="#262626" stroke-width="1.1"/>
<rect x="507.20" y="241.40" width="19.0" height="18.4" rx="4.6" fill="none" stroke="#363636" stroke-width="1.15"/>
<text x="516.70" y="268.90" font-size="6.35" text-anchor="middle" fill="#2e2e2e" stroke="#2e2e2e" stroke-width="0.14">WNT7B</text>
<rect x="175.6" y="279.6" width="102.8" height="119.6" rx="5.5" fill="none" stroke="#404040" stroke-width="1.1"/>
<text x="184.20" y="290.90" font-size="8.3" text-anchor="start" fill="#1a1a1a" stroke="#1a1a1a" stroke-width="0.2">Cell-cell adhesion</text>
<path d="M197.80,298.20 H202.70 V307.40 H193.20 V302.80 A4.6,4.6 0 0 1 197.80,298.20 Z" fill="#a0a7f4"/>
<path d="M202.70,298.20 H207.60 A4.6,4.6 0 0 1 212.20,302.80 V307.40 H202.70 Z" fill="#e4e5fc"/>
<path d="M193.20,307.40 H202.70 V316.60 H197.80 A4.6,4.6 0 0 1 193.20,312.00 Z" fill="#c7caf9"/>
<path d="M202.70,307.40 H212.20 V312.00 A4.6,4.6 0 0 1 207.60,316.60 H202.70 Z" fill="#e4e5fc"/>
<path d="M202.70,298.20 V316.60 M193.20,307.40 H212.20" stroke="#262626" stroke-width="1.1"/>
<rect x="193.20" y="298.20" width="19.0" height="18.4" rx="4.6" fill="none" stroke="#363636" stroke-width="1.15"/>
<text x="202.70" y="325.90" font-size="6.35" text-anchor="middle" fill="#2e2e2e" stroke="#2e2e2e" stroke-width="0.14">EHD4</text>
<path d="M223.90,298.20 H228.80 V307.40 H219.30 V302.80 A4.6,4.6 0 0 1 223.90,298.20 Z" fill="#fde5dd"/>
<path d="M228.80,298.20 H233.70 A4.6,4.6 0 0 1 238.30,302.80 V307.40 H228.80 Z" fill="#fde0d6"/>
<path d="M219.30,307.40 H228.80 V316.60 H223.90 A4.6,4.6 0 0 1 219.30,312.00 Z" fill="#fcd2c3"/>
<path d="M228.80,307.40 H238.30 V312.00 A4.6,4.6 0 0 1 233.70,316.60 H228.80 Z" fill="#fcdbd0"/>
<path d="M228.80,298.20 V316.60 M219.30,307.40 H238.30" stroke="#262626" stroke-width="1.1"/>
<rect x="219.30" y="298.20" width="19.0" height="18.4" rx="4.6" fill="none" stroke="#363636" stroke-width="1.15"/>
<text x="228.80" y="325.90" font-size="6.35" text-anchor="middle" fill="#2e2e2e" stroke="#2e2e2e" stroke-width="0.14">GIPC1</text>
<path d="M250.00,298.20 H254.90 V307.40 H245.40 V302.80 A4.6,4.6 0 0 1 250.00,298.20 Z" fill="#c7caf9"/>
<path d="M254.90,298.20 H259.80 A4.6,4.6 0 0 1 264.40,302.80 V307.40 H254.90 Z" fill="#fef2ee"/>
<path d="M245.40,307.40 H254.90 V316.60 H250.00 A4.6,4.6 0 0 1 245.40,312.00 Z" fill="#e9eafc"/>
<path d="M254.90,307.40 H264.40 V312.00 A4.6,4.6 0 0 1 259.80,316.60 H254.90 Z" fill="#f04e30"/>
<path d="M254.90,298.20 V316.60 M245.40,307.40 H264.40" stroke="#262626" stroke-width="1.1"/>
<rect x="245.40" y="298.20" width="19.0" height="18.4" rx="4.6" fill="none" stroke="#363636" stroke-width="1.15"/>
<text x="254.90" y="325.90" font-size="6.35" text-anchor="middle" fill="#2e2e2e" stroke="#2e2e2e" stroke-width="0.14">H32</text>
<path d="M197.60,332.40 H202.50 V341.60 H193.00 V337.00 A4.6,4.6 0 0 1 197.60,332.40 Z" fill="#fabeaa"/>
<path d="M202.50,332.40 H207.40 A4.6,4.6 0 0 1 212.00,337.00 V341.60 H202.50 Z" fill="#ffffff"/>
<path d="M193.00,341.60 H202.50 V350.80 H197.60 A4.6,4.6 0 0 1 193.00,346.20 Z" fill="#fffbf9"/>
<path d="M202.50,341.60 H212.00 V346.20 A4.6,4.6 0 0 1 207.40,350.80 H202.50 Z" fill="#ffffff"/>
<path d="M202.50,332.40 V350.80 M193.00,341.60 H212.00" stroke="#262626" stroke-width="1.1"/>
<rect x="193.00" y="332.40" width="19.0" height="18.4" rx="4.6" fill="none" stroke="#363636" stroke-width="1.15"/>
<text x="202.50" y="359.90" font-size="6.35" text-anchor="middle" fill="#2e2e2e" stroke="#2e2e2e" stroke-width="0.14">IDHC</text>
<path d="M223.70,332.40 H228.60 V341.60 H219.10 V337.00 A4.6,4.6 0 0 1 223.70,332.40 Z" fill="#feeee8"/>
<path d="M228.60,332.40 H233.50 A4.6,4.6 0 0 1 238.10,337.00 V341.60 H228.60 Z" fill="#fef2ee"/>
<path d="M219.10,341.60 H228.60 V350.80 H223.70 A4.6,4.6 0 0 1 219.10,346.20 Z" fill="#fde5dd"/>
<path d="M228.60,341.60 H238.10 V346.20 A4.6,4.6 0 0 1 233.50,350.80 H228.60 Z" fill="#fac3b0"/>
<path d="M228.60,332.40 V350.80 M219.10,341.60 H238.10" stroke="#262626" stroke-width="1.1"/>
<rect x="219.10" y="332.40" width="19.0" height="18.4" rx="4.6" fill="none" stroke="#363636" stroke-width="1.15"/>
<text x="228.60" y="359.90" font-size="6.35" text-anchor="middle" fill="#2e2e2e" stroke="#2e2e2e" stroke-width="0.14">IF4G2</text>
<path d="M249.80,332.40 H254.70 V341.60 H245.20 V337.00 A4.6,4.6 0 0 1 249.80,332.40 Z" fill="#dee0fb"/>
<path d="M254.70,332.40 H259.60 A4.6,4.6 0 0 1 264.20,337.00 V341.60 H254.70 Z" fill="#e9eafc"/>
<path d="M245.20,341.60 H254.70 V350.80 H249.80 A4.6,4.6 0 0 1 245.20,346.20 Z" fill="#a8aef5"/>
<path d="M254.70,341.60 H264.20 V346.20 A4.6,4.6 0 0 1 259.60,350.80 H254.70 Z" fill="#eeeffd"/>
<path d="M254.70,332.40 V350.80 M245.20,341.60 H264.20" stroke="#262626" stroke-width="1.1"/>
<rect x="245.20" y="332.40" width="19.0" height="18.4" rx="4.6" fill="none" stroke="#363636" stroke-width="1.15"/>
<text x="254.70" y="359.90" font-size="6.35" text-anchor="middle" fill="#2e2e2e" stroke="#2e2e2e" stroke-width="0.14">IST1</text>
<path d="M190.00,365.50 H194.90 V374.70 H185.40 V370.10 A4.6,4.6 0 0 1 190.00,365.50 Z" fill="#c7caf9"/>
<path d="M194.90,365.50 H199.80 A4.6,4.6 0 0 1 204.40,370.10 V374.70 H194.90 Z" fill="#d3d5fa"/>
<path d="M185.40,374.70 H194.90 V383.90 H190.00 A4.6,4.6 0 0 1 185.40,379.30 Z" fill="#a4aaf5"/>
<path d="M194.90,374.70 H204.40 V379.30 A4.6,4.6 0 0 1 199.80,383.90 H194.90 Z" fill="#d8dafb"/>
<path d="M194.90,365.50 V383.90 M185.40,374.70 H204.40" stroke="#262626" stroke-width="1.1"/>
<rect x="185.40" y="365.50" width="19.0" height="18.4" rx="4.6" fill="none" stroke="#363636" stroke-width="1.15"/>
<text x="194.90" y="392.60" font-size="6.35" text-anchor="middle" fill="#2e2e2e" stroke="#2e2e2e" stroke-width="0.14">PAIRB</text>
<path d="M212.50,365.50 H217.40 V374.70 H207.90 V370.10 A4.6,4.6 0 0 1 212.50,365.50 Z" fill="#7e8af1"/>
<path d="M217.40,365.50 H222.30 A4.6,4.6 0 0 1 226.90,370.10 V374.70 H217.40 Z" fill="#8b95f2"/>
<path d="M207.90,374.70 H217.40 V383.90 H212.50 A4.6,4.6 0 0 1 207.90,379.30 Z" fill="#7e8af1"/>
<path d="M217.40,374.70 H226.90 V379.30 A4.6,4.6 0 0 1 222.30,383.90 H217.40 Z" fill="#8b95f2"/>
<path d="M217.40,365.50 V383.90 M207.90,374.70 H226.90" stroke="#262626" stroke-width="1.1"/>
<rect x="207.90" y="365.50" width="19.0" height="18.4" rx="4.6" fill="none" stroke="#363636" stroke-width="1.15"/>
<text x="217.40" y="392.60" font-size="6.35" text-anchor="middle" fill="#2e2e2e" stroke="#2e2e2e" stroke-width="0.14">RAI3</text>
<path d="M235.00,365.50 H239.90 V374.70 H230.40 V370.10 A4.6,4.6 0 0 1 235.00,365.50 Z" fill="#e4e5fc"/>
<path d="M239.90,365.50 H244.80 A4.6,4.6 0 0 1 249.40,370.10 V374.70 H239.90 Z" fill="#e4e5fc"/>
<path d="M230.40,374.70 H239.90 V383.90 H235.00 A4.6,4.6 0 0 1 230.40,379.30 Z" fill="#d3d5fa"/>
<path d="M239.90,374.70 H249.40 V379.30 A4.6,4.6 0 0 1 244.80,383.90 H239.90 Z" fill="#dee0fb"/>
<path d="M239.90,365.50 V383.90 M230.40,374.70 H249.40" stroke="#262626" stroke-width="1.1"/>
<rect x="230.40" y="365.50" width="19.0" height="18.4" rx="4.6" fill="none" stroke="#363636" stroke-width="1.15"/>
<text x="239.90" y="392.60" font-size="6.35" text-anchor="middle" fill="#2e2e2e" stroke="#2e2e2e" stroke-width="0.14">TACD2</text>
<path d="M257.50,365.50 H262.40 V374.70 H252.90 V370.10 A4.6,4.6 0 0 1 257.50,365.50 Z" fill="#babff7"/>
<path d="M262.40,365.50 H267.30 A4.6,4.6 0 0 1 271.90,370.10 V374.70 H262.40 Z" fill="#b4b9f6"/>
<path d="M252.90,374.70 H262.40 V383.90 H257.50 A4.6,4.6 0 0 1 252.90,379.30 Z" fill="#d3d5fa"/>
<path d="M262.40,374.70 H271.90 V379.30 A4.6,4.6 0 0 1 267.30,383.90 H262.40 Z" fill="#d3d5fa"/>
<path d="M262.40,365.50 V383.90 M252.90,374.70 H271.90" stroke="#262626" stroke-width="1.1"/>
<rect x="252.90" y="365.50" width="19.0" height="18.4" rx="4.6" fill="none" stroke="#363636" stroke-width="1.15"/>
<text x="262.40" y="392.60" font-size="6.35" text-anchor="middle" fill="#2e2e2e" stroke="#2e2e2e" stroke-width="0.14">TMEM2</text>
<rect x="175.6" y="403.3" width="102.8" height="120.1" rx="5.5" fill="none" stroke="#404040" stroke-width="1.1"/>
<text x="184.20" y="413.80" font-size="8.3" text-anchor="start" fill="#1a1a1a" stroke="#1a1a1a" stroke-width="0.2" textLength="88.40" lengthAdjust="spacingAndGlyphs">Proteoglycans in cancer</text>
<path d="M198.20,422.40 H203.10 V431.60 H193.60 V427.00 A4.6,4.6 0 0 1 198.20,422.40 Z" fill="#feeee8"/>
<path d="M203.10,422.40 H208.00 A4.6,4.6 0 0 1 212.60,427.00 V431.60 H203.10 Z" fill="#fde9e3"/>
<path d="M193.60,431.60 H203.10 V440.80 H198.20 A4.6,4.6 0 0 1 193.60,436.20 Z" fill="#fffbf9"/>
<path d="M203.10,431.60 H212.60 V436.20 A4.6,4.6 0 0 1 208.00,440.80 H203.10 Z" fill="#fbc8b6"/>
<path d="M203.10,422.40 V440.80 M193.60,431.60 H212.60" stroke="#262626" stroke-width="1.1"/>
<rect x="193.60" y="422.40" width="19.0" height="18.4" rx="4.6" fill="none" stroke="#363636" stroke-width="1.15"/>
<text x="203.10" y="450.30" font-size="6.35" text-anchor="middle" fill="#2e2e2e" stroke="#2e2e2e" stroke-width="0.14">CATL1</text>
<path d="M224.20,422.40 H229.10 V431.60 H219.60 V427.00 A4.6,4.6 0 0 1 224.20,422.40 Z" fill="#fef2ee"/>
<path d="M229.10,422.40 H234.00 A4.6,4.6 0 0 1 238.60,427.00 V431.60 H229.10 Z" fill="#fde9e3"/>
<path d="M219.60,431.60 H229.10 V440.80 H224.20 A4.6,4.6 0 0 1 219.60,436.20 Z" fill="#fffbf9"/>
<path d="M229.10,431.60 H238.60 V436.20 A4.6,4.6 0 0 1 234.00,440.80 H229.10 Z" fill="#fcd2c3"/>
<path d="M229.10,422.40 V440.80 M219.60,431.60 H238.60" stroke="#262626" stroke-width="1.1"/>
<rect x="219.60" y="422.40" width="19.0" height="18.4" rx="4.6" fill="none" stroke="#363636" stroke-width="1.15"/>
<text x="229.10" y="450.30" font-size="6.35" text-anchor="middle" fill="#2e2e2e" stroke="#2e2e2e" stroke-width="0.14">CAV1</text>
<path d="M250.20,422.40 H255.10 V431.60 H245.60 V427.00 A4.6,4.6 0 0 1 250.20,422.40 Z" fill="#fef6f4"/>
<path d="M255.10,422.40 H260.00 A4.6,4.6 0 0 1 264.60,427.00 V431.60 H255.10 Z" fill="#fac3b0"/>
<path d="M245.60,431.60 H255.10 V440.80 H250.20 A4.6,4.6 0 0 1 245.60,436.20 Z" fill="#fffbf9"/>
<path d="M255.10,431.60 H264.60 V436.20 A4.6,4.6 0 0 1 260.00,440.80 H255.10 Z" fill="#f6997f"/>
<path d="M255.10,422.40 V440.80 M245.60,431.60 H264.60" stroke="#262626" stroke-width="1.1"/>
<rect x="245.60" y="422.40" width="19.0" height="18.4" rx="4.6" fill="none" stroke="#363636" stroke-width="1.15"/>
<text x="255.10" y="450.30" font-size="6.35" text-anchor="middle" fill="#2e2e2e" stroke="#2e2e2e" stroke-width="0.14">CAV2</text>
<path d="M198.20,456.40 H203.10 V465.60 H193.60 V461.00 A4.6,4.6 0 0 1 198.20,456.40 Z" fill="#feeee8"/>
<path d="M203.10,456.40 H208.00 A4.6,4.6 0 0 1 212.60,461.00 V465.60 H203.10 Z" fill="#fde0d6"/>
<path d="M193.60,465.60 H203.10 V474.80 H198.20 A4.6,4.6 0 0 1 193.60,470.20 Z" fill="#fef6f4"/>
<path d="M203.10,465.60 H212.60 V470.20 A4.6,4.6 0 0 1 208.00,474.80 H203.10 Z" fill="#f47658"/>
<path d="M203.10,456.40 V474.80 M193.60,465.60 H212.60" stroke="#262626" stroke-width="1.1"/>
<rect x="193.60" y="456.40" width="19.0" height="18.4" rx="4.6" fill="none" stroke="#363636" stroke-width="1.15"/>
<text x="203.10" y="483.60" font-size="6.35" text-anchor="middle" fill="#2e2e2e" stroke="#2e2e2e" stroke-width="0.14">GPC1</text>
<path d="M224.20,456.40 H229.10 V465.60 H219.60 V461.00 A4.6,4.6 0 0 1 224.20,456.40 Z" fill="#d8dafb"/>
<path d="M229.10,456.40 H234.00 A4.6,4.6 0 0 1 238.60,461.00 V465.60 H229.10 Z" fill="#e9eafc"/>
<path d="M219.60,465.60 H229.10 V474.80 H224.20 A4.6,4.6 0 0 1 219.60,470.20 Z" fill="#d3d5fa"/>
<path d="M229.10,465.60 H238.60 V470.20 A4.6,4.6 0 0 1 234.00,474.80 H229.10 Z" fill="#e9eafc"/>
<path d="M229.10,456.40 V474.80 M219.60,465.60 H238.60" stroke="#262626" stroke-width="1.1"/>
<rect x="219.60" y="456.40" width="19.0" height="18.4" rx="4.6" fill="none" stroke="#363636" stroke-width="1.15"/>
<text x="229.10" y="483.60" font-size="6.35" text-anchor="middle" fill="#2e2e2e" stroke="#2e2e2e" stroke-width="0.14">RHOA</text>
<path d="M250.20,456.40 H255.10 V465.60 H245.60 V461.00 A4.6,4.6 0 0 1 250.20,456.40 Z" fill="#c7caf9"/>
<path d="M255.10,456.40 H260.00 A4.6,4.6 0 0 1 264.60,461.00 V465.60 H255.10 Z" fill="#cdcff9"/>
<path d="M245.60,465.60 H255.10 V474.80 H250.20 A4.6,4.6 0 0 1 245.60,470.20 Z" fill="#c7caf9"/>
<path d="M255.10,465.60 H264.60 V470.20 A4.6,4.6 0 0 1 260.00,474.80 H255.10 Z" fill="#babff7"/>
<path d="M255.10,456.40 V474.80 M245.60,465.60 H264.60" stroke="#262626" stroke-width="1.1"/>
<rect x="245.60" y="456.40" width="19.0" height="18.4" rx="4.6" fill="none" stroke="#363636" stroke-width="1.15"/>
<text x="255.10" y="483.60" font-size="6.35" text-anchor="middle" fill="#2e2e2e" stroke="#2e2e2e" stroke-width="0.14">PGBM</text>
<path d="M190.30,490.20 H195.20 V499.40 H185.70 V494.80 A4.6,4.6 0 0 1 190.30,490.20 Z" fill="#babff7"/>
<path d="M195.20,490.20 H200.10 A4.6,4.6 0 0 1 204.70,494.80 V499.40 H195.20 Z" fill="#c7caf9"/>
<path d="M185.70,499.40 H195.20 V508.60 H190.30 A4.6,4.6 0 0 1 185.70,504.00 Z" fill="#babff7"/>
<path d="M195.20,499.40 H204.70 V504.00 A4.6,4.6 0 0 1 200.10,508.60 H195.20 Z" fill="#babff7"/>
<path d="M195.20,490.20 V508.60 M185.70,499.40 H204.70" stroke="#262626" stroke-width="1.1"/>
<rect x="185.70" y="490.20" width="19.0" height="18.4" rx="4.6" fill="none" stroke="#363636" stroke-width="1.15"/>
<text x="195.20" y="517.50" font-size="6.35" text-anchor="middle" fill="#2e2e2e" stroke="#2e2e2e" stroke-width="0.14">RASK</text>
<path d="M212.90,490.20 H217.80 V499.40 H208.30 V494.80 A4.6,4.6 0 0 1 212.90,490.20 Z" fill="#babff7"/>
<path d="M217.80,490.20 H222.70 A4.6,4.6 0 0 1 227.30,494.80 V499.40 H217.80 Z" fill="#e4e5fc"/>
<path d="M208.30,499.40 H217.80 V508.60 H212.90 A4.6,4.6 0 0 1 208.30,504.00 Z" fill="#a4aaf5"/>
<path d="M217.80,499.40 H227.30 V504.00 A4.6,4.6 0 0 1 222.70,508.60 H217.80 Z" fill="#e4e5fc"/>
<path d="M217.80,490.20 V508.60 M208.30,499.40 H227.30" stroke="#262626" stroke-width="1.1"/>
<rect x="208.30" y="490.20" width="19.0" height="18.4" rx="4.6" fill="none" stroke="#363636" stroke-width="1.15"/>
<text x="217.80" y="517.50" font-size="6.35" text-anchor="middle" fill="#2e2e2e" stroke="#2e2e2e" stroke-width="0.14">SDC1</text>
<path d="M235.50,490.20 H240.40 V499.40 H230.90 V494.80 A4.6,4.6 0 0 1 235.50,490.20 Z" fill="#fef2ee"/>
<path d="M240.40,490.20 H245.30 A4.6,4.6 0 0 1 249.90,494.80 V499.40 H240.40 Z" fill="#babff7"/>
<path d="M230.90,499.40 H240.40 V508.60 H235.50 A4.6,4.6 0 0 1 230.90,504.00 Z" fill="#a4aaf5"/>
<path d="M240.40,499.40 H249.90 V504.00 A4.6,4.6 0 0 1 245.30,508.60 H240.40 Z" fill="#a4aaf5"/>
<path d="M240.40,490.20 V508.60 M230.90,499.40 H249.90" stroke="#262626" stroke-width="1.1"/>
<rect x="230.90" y="490.20" width="19.0" height="18.4" rx="4.6" fill="none" stroke="#363636" stroke-width="1.15"/>
<text x="240.40" y="517.50" font-size="6.35" text-anchor="middle" fill="#2e2e2e" stroke="#2e2e2e" stroke-width="0.14">TIMP3</text>
<path d="M258.10,490.20 H263.00 V499.40 H253.50 V494.80 A4.6,4.6 0 0 1 258.10,490.20 Z" fill="#eeeffd"/>
<path d="M263.00,490.20 H267.90 A4.6,4.6 0 0 1 272.50,494.80 V499.40 H263.00 Z" fill="#fde5dd"/>
<path d="M253.50,499.40 H263.00 V508.60 H258.10 A4.6,4.6 0 0 1 253.50,504.00 Z" fill="#eeeffd"/>
<path d="M263.00,499.40 H272.50 V504.00 A4.6,4.6 0 0 1 267.90,508.60 H263.00 Z" fill="#fabeaa"/>
<path d="M263.00,490.20 V508.60 M253.50,499.40 H272.50" stroke="#262626" stroke-width="1.1"/>
<rect x="253.50" y="490.20" width="19.0" height="18.4" rx="4.6" fill="none" stroke="#363636" stroke-width="1.15"/>
<text x="263.00" y="517.50" font-size="6.35" text-anchor="middle" fill="#2e2e2e" stroke="#2e2e2e" stroke-width="0.14">UPAR</text>
<path d="M287.4,279.5 H540.7 A5.5,5.5 0 0 1 546.2,285.0 V329.9 A5.5,5.5 0 0 1 540.7,335.4 H486.7 A1.5,1.5 0 0 0 485.2,336.9 V517.3 A5.5,5.5 0 0 1 479.7,522.8 H287.4 A5.5,5.5 0 0 1 281.9,517.3 V285.0 A5.5,5.5 0 0 1 287.4,279.5 Z" fill="none" stroke="#404040" stroke-width="1.1"/>
<text x="286.10" y="291.40" font-size="8.3" text-anchor="start" fill="#1a1a1a" stroke="#1a1a1a" stroke-width="0.2" textLength="79.60" lengthAdjust="spacingAndGlyphs">SLIT-ROBO signaling</text>
<path d="M293.50,297.90 H298.40 V307.10 H288.90 V302.50 A4.6,4.6 0 0 1 293.50,297.90 Z" fill="#fef2ee"/>
<path d="M298.40,297.90 H303.30 A4.6,4.6 0 0 1 307.90,302.50 V307.10 H298.40 Z" fill="#fcdbd0"/>
<path d="M288.90,307.10 H298.40 V316.30 H293.50 A4.6,4.6 0 0 1 288.90,311.70 Z" fill="#fffbf9"/>
<path d="M298.40,307.10 H307.90 V311.70 A4.6,4.6 0 0 1 303.30,316.30 H298.40 Z" fill="#fbc8b6"/>
<path d="M298.40,297.90 V316.30 M288.90,307.10 H307.90" stroke="#262626" stroke-width="1.1"/>
<rect x="288.90" y="297.90" width="19.0" height="18.4" rx="4.6" fill="none" stroke="#363636" stroke-width="1.15"/>
<text x="298.40" y="324.90" font-size="6.35" text-anchor="middle" fill="#2e2e2e" stroke="#2e2e2e" stroke-width="0.14">CLCA</text>
<path d="M316.87,297.90 H321.77 V307.10 H312.27 V302.50 A4.6,4.6 0 0 1 316.87,297.90 Z" fill="#fde9e3"/>
<path d="M321.77,297.90 H326.67 A4.6,4.6 0 0 1 331.27,302.50 V307.10 H321.77 Z" fill="#fbcdbc"/>
<path d="M312.27,307.10 H321.77 V316.30 H316.87 A4.6,4.6 0 0 1 312.27,311.70 Z" fill="#fde5dd"/>
<path d="M321.77,307.10 H331.27 V311.70 A4.6,4.6 0 0 1 326.67,316.30 H321.77 Z" fill="#f69277"/>
<path d="M321.77,297.90 V316.30 M312.27,307.10 H331.27" stroke="#262626" stroke-width="1.1"/>
<rect x="312.27" y="297.90" width="19.0" height="18.4" rx="4.6" fill="none" stroke="#363636" stroke-width="1.15"/>
<text x="321.77" y="324.90" font-size="6.35" text-anchor="middle" fill="#2e2e2e" stroke="#2e2e2e" stroke-width="0.14">CSK2B</text>
<path d="M340.24,297.90 H345.14 V307.10 H335.64 V302.50 A4.6,4.6 0 0 1 340.24,297.90 Z" fill="#f7a087"/>
<path d="M345.14,297.90 H350.04 A4.6,4.6 0 0 1 354.64,302.50 V307.10 H345.14 Z" fill="#f58a6e"/>
<path d="M335.64,307.10 H345.14 V316.30 H340.24 A4.6,4.6 0 0 1 335.64,311.70 Z" fill="#fabeaa"/>
<path d="M345.14,307.10 H354.64 V311.70 A4.6,4.6 0 0 1 350.04,316.30 H345.14 Z" fill="#fab9a4"/>
<path d="M345.14,297.90 V316.30 M335.64,307.10 H354.64" stroke="#262626" stroke-width="1.1"/>
<rect x="335.64" y="297.90" width="19.0" height="18.4" rx="4.6" fill="none" stroke="#363636" stroke-width="1.15"/>
<text x="345.14" y="324.90" font-size="6.35" text-anchor="middle" fill="#2e2e2e" stroke="#2e2e2e" stroke-width="0.14">EFNB1</text>
<path d="M363.61,297.90 H368.51 V307.10 H359.01 V302.50 A4.6,4.6 0 0 1 363.61,297.90 Z" fill="#c7caf9"/>
<path d="M368.51,297.90 H373.41 A4.6,4.6 0 0 1 378.01,302.50 V307.10 H368.51 Z" fill="#fef6f4"/>
<path d="M359.01,307.10 H368.51 V316.30 H363.61 A4.6,4.6 0 0 1 359.01,311.70 Z" fill="#d8dafb"/>
<path d="M368.51,307.10 H378.01 V311.70 A4.6,4.6 0 0 1 373.41,316.30 H368.51 Z" fill="#fef2ee"/>
<path d="M368.51,297.90 V316.30 M359.01,307.10 H378.01" stroke="#262626" stroke-width="1.1"/>
<rect x="359.01" y="297.90" width="19.0" height="18.4" rx="4.6" fill="none" stroke="#363636" stroke-width="1.15"/>
<text x="368.51" y="324.90" font-size="6.35" text-anchor="middle" fill="#2e2e2e" stroke="#2e2e2e" stroke-width="0.14">EPHA2</text>
<path d="M386.98,297.90 H391.88 V307.10 H382.38 V302.50 A4.6,4.6 0 0 1 386.98,297.90 Z" fill="#fbc8b6"/>
<path d="M391.88,297.90 H396.78 A4.6,4.6 0 0 1 401.38,302.50 V307.10 H391.88 Z" fill="#ee4026"/>
<path d="M382.38,307.10 H391.88 V316.30 H386.98 A4.6,4.6 0 0 1 382.38,311.70 Z" fill="#d10809"/>
<path d="M391.88,307.10 H401.38 V311.70 A4.6,4.6 0 0 1 396.78,316.30 H391.88 Z" fill="#e4120e"/>
<path d="M391.88,297.90 V316.30 M382.38,307.10 H401.38" stroke="#262626" stroke-width="1.1"/>
<rect x="382.38" y="297.90" width="19.0" height="18.4" rx="4.6" fill="none" stroke="#363636" stroke-width="1.15"/>
<text x="391.88" y="324.90" font-size="6.35" text-anchor="middle" fill="#2e2e2e" stroke="#2e2e2e" stroke-width="0.14">KALRN</text>
<path d="M410.35,297.90 H415.25 V307.10 H405.75 V302.50 A4.6,4.6 0 0 1 410.35,297.90 Z" fill="#fcd2c3"/>
<path d="M415.25,297.90 H420.15 A4.6,4.6 0 0 1 424.75,302.50 V307.10 H415.25 Z" fill="#fcd2c3"/>
<path d="M405.75,307.10 H415.25 V316.30 H410.35 A4.6,4.6 0 0 1 405.75,311.70 Z" fill="#fac3b0"/>
<path d="M415.25,307.10 H424.75 V311.70 A4.6,4.6 0 0 1 420.15,316.30 H415.25 Z" fill="#fcd2c3"/>
<path d="M415.25,297.90 V316.30 M405.75,307.10 H424.75" stroke="#262626" stroke-width="1.1"/>
<rect x="405.75" y="297.90" width="19.0" height="18.4" rx="4.6" fill="none" stroke="#363636" stroke-width="1.15"/>
<text x="415.25" y="324.90" font-size="6.35" text-anchor="middle" fill="#2e2e2e" stroke="#2e2e2e" stroke-width="0.14">PSA6</text>
<path d="M433.72,297.90 H438.62 V307.10 H429.12 V302.50 A4.6,4.6 0 0 1 433.72,297.90 Z" fill="#fde0d6"/>
<path d="M438.62,297.90 H443.52 A4.6,4.6 0 0 1 448.12,302.50 V307.10 H438.62 Z" fill="#fde5dd"/>
<path d="M429.12,307.10 H438.62 V316.30 H433.72 A4.6,4.6 0 0 1 429.12,311.70 Z" fill="#fcdbd0"/>
<path d="M438.62,307.10 H448.12 V311.70 A4.6,4.6 0 0 1 443.52,316.30 H438.62 Z" fill="#fde5dd"/>
<path d="M438.62,297.90 V316.30 M429.12,307.10 H448.12" stroke="#262626" stroke-width="1.1"/>
<rect x="429.12" y="297.90" width="19.0" height="18.4" rx="4.6" fill="none" stroke="#363636" stroke-width="1.15"/>
<text x="438.62" y="324.90" font-size="6.35" text-anchor="middle" fill="#2e2e2e" stroke="#2e2e2e" stroke-width="0.14">PSA7</text>
<path d="M457.09,297.90 H461.99 V307.10 H452.49 V302.50 A4.6,4.6 0 0 1 457.09,297.90 Z" fill="#fffbf9"/>
<path d="M461.99,297.90 H466.89 A4.6,4.6 0 0 1 471.49,302.50 V307.10 H461.99 Z" fill="#fef8f6"/>
<path d="M452.49,307.10 H461.99 V316.30 H457.09 A4.6,4.6 0 0 1 452.49,311.70 Z" fill="#fcd6ca"/>
<path d="M461.99,307.10 H471.49 V311.70 A4.6,4.6 0 0 1 466.89,316.30 H461.99 Z" fill="#fde9e3"/>
<path d="M461.99,297.90 V316.30 M452.49,307.10 H471.49" stroke="#262626" stroke-width="1.1"/>
<rect x="452.49" y="297.90" width="19.0" height="18.4" rx="4.6" fill="none" stroke="#363636" stroke-width="1.15"/>
<text x="461.99" y="324.90" font-size="6.35" text-anchor="middle" fill="#2e2e2e" stroke="#2e2e2e" stroke-width="0.14">PSDE</text>
<path d="M480.46,297.90 H485.36 V307.10 H475.86 V302.50 A4.6,4.6 0 0 1 480.46,297.90 Z" fill="#a8aef5"/>
<path d="M485.36,297.90 H490.26 A4.6,4.6 0 0 1 494.86,302.50 V307.10 H485.36 Z" fill="#a0a7f4"/>
<path d="M475.86,307.10 H485.36 V316.30 H480.46 A4.6,4.6 0 0 1 475.86,311.70 Z" fill="#4b66e6"/>
<path d="M485.36,307.10 H494.86 V311.70 A4.6,4.6 0 0 1 490.26,316.30 H485.36 Z" fill="#c7caf9"/>
<path d="M485.36,297.90 V316.30 M475.86,307.10 H494.86" stroke="#262626" stroke-width="1.1"/>
<rect x="475.86" y="297.90" width="19.0" height="18.4" rx="4.6" fill="none" stroke="#363636" stroke-width="1.15"/>
<text x="485.36" y="324.90" font-size="6.35" text-anchor="middle" fill="#2e2e2e" stroke="#2e2e2e" stroke-width="0.14">RHOC</text>
<path d="M503.83,297.90 H508.73 V307.10 H499.23 V302.50 A4.6,4.6 0 0 1 503.83,297.90 Z" fill="#fde5dd"/>
<path d="M508.73,297.90 H513.63 A4.6,4.6 0 0 1 518.23,302.50 V307.10 H508.73 Z" fill="#fde9e3"/>
<path d="M499.23,307.10 H508.73 V316.30 H503.83 A4.6,4.6 0 0 1 499.23,311.70 Z" fill="#fcd2c3"/>
<path d="M508.73,307.10 H518.23 V311.70 A4.6,4.6 0 0 1 513.63,316.30 H508.73 Z" fill="#fcd6ca"/>
<path d="M508.73,297.90 V316.30 M499.23,307.10 H518.23" stroke="#262626" stroke-width="1.1"/>
<rect x="499.23" y="297.90" width="19.0" height="18.4" rx="4.6" fill="none" stroke="#363636" stroke-width="1.15"/>
<text x="508.73" y="324.90" font-size="6.35" text-anchor="middle" fill="#2e2e2e" stroke="#2e2e2e" stroke-width="0.14">SDF1</text>
<path d="M527.20,297.90 H532.10 V307.10 H522.60 V302.50 A4.6,4.6 0 0 1 527.20,297.90 Z" fill="#eeeffd"/>
<path d="M532.10,297.90 H537.00 A4.6,4.6 0 0 1 541.60,302.50 V307.10 H532.10 Z" fill="#fef2ee"/>
<path d="M522.60,307.10 H532.10 V316.30 H527.20 A4.6,4.6 0 0 1 522.60,311.70 Z" fill="#fcd2c3"/>
<path d="M532.10,307.10 H541.60 V311.70 A4.6,4.6 0 0 1 537.00,316.30 H532.10 Z" fill="#fcd6ca"/>
<path d="M532.10,297.90 V316.30 M522.60,307.10 H541.60" stroke="#262626" stroke-width="1.1"/>
<rect x="522.60" y="297.90" width="19.0" height="18.4" rx="4.6" fill="none" stroke="#363636" stroke-width="1.15"/>
<text x="532.10" y="324.90" font-size="6.35" text-anchor="middle" fill="#2e2e2e" stroke="#2e2e2e" stroke-width="0.14">MYO9B</text>
<path d="M293.80,341.40 H298.70 V350.60 H289.20 V346.00 A4.6,4.6 0 0 1 293.80,341.40 Z" fill="#c7caf9"/>
<path d="M298.70,341.40 H303.60 A4.6,4.6 0 0 1 308.20,346.00 V350.60 H298.70 Z" fill="#fafafe"/>
<path d="M289.20,350.60 H298.70 V359.80 H293.80 A4.6,4.6 0 0 1 289.20,355.20 Z" fill="#e4e5fc"/>
<path d="M298.70,350.60 H308.20 V355.20 A4.6,4.6 0 0 1 303.60,359.80 H298.70 Z" fill="#fcd2c3"/>
<path d="M298.70,341.40 V359.80 M289.20,350.60 H308.20" stroke="#262626" stroke-width="1.1"/>
<rect x="289.20" y="341.40" width="19.0" height="18.4" rx="4.6" fill="none" stroke="#363636" stroke-width="1.15"/>
<text x="298.70" y="369.30" font-size="6.35" text-anchor="middle" fill="#2e2e2e" stroke="#2e2e2e" stroke-width="0.14">RL11</text>
<path d="M319.85,341.40 H324.75 V350.60 H315.25 V346.00 A4.6,4.6 0 0 1 319.85,341.40 Z" fill="#d3d5fa"/>
<path d="M324.75,341.40 H329.65 A4.6,4.6 0 0 1 334.25,346.00 V350.60 H324.75 Z" fill="#f4f4fe"/>
<path d="M315.25,350.60 H324.75 V359.80 H319.85 A4.6,4.6 0 0 1 315.25,355.20 Z" fill="#d8dafb"/>
<path d="M324.75,350.60 H334.25 V355.20 A4.6,4.6 0 0 1 329.65,359.80 H324.75 Z" fill="#fde5dd"/>
<path d="M324.75,341.40 V359.80 M315.25,350.60 H334.25" stroke="#262626" stroke-width="1.1"/>
<rect x="315.25" y="341.40" width="19.0" height="18.4" rx="4.6" fill="none" stroke="#363636" stroke-width="1.15"/>
<text x="324.75" y="369.30" font-size="6.35" text-anchor="middle" fill="#2e2e2e" stroke="#2e2e2e" stroke-width="0.14">RL12</text>
<path d="M345.90,341.40 H350.80 V350.60 H341.30 V346.00 A4.6,4.6 0 0 1 345.90,341.40 Z" fill="#b4b9f6"/>
<path d="M350.80,341.40 H355.70 A4.6,4.6 0 0 1 360.30,346.00 V350.60 H350.80 Z" fill="#e4e5fc"/>
<path d="M341.30,350.60 H350.80 V359.80 H345.90 A4.6,4.6 0 0 1 341.30,355.20 Z" fill="#c7caf9"/>
<path d="M350.80,350.60 H360.30 V355.20 A4.6,4.6 0 0 1 355.70,359.80 H350.80 Z" fill="#fac3b0"/>
<path d="M350.80,341.40 V359.80 M341.30,350.60 H360.30" stroke="#262626" stroke-width="1.1"/>
<rect x="341.30" y="341.40" width="19.0" height="18.4" rx="4.6" fill="none" stroke="#363636" stroke-width="1.15"/>
<text x="350.80" y="369.30" font-size="6.35" text-anchor="middle" fill="#2e2e2e" stroke="#2e2e2e" stroke-width="0.14">RL13A</text>
<path d="M371.95,341.40 H376.85 V350.60 H367.35 V346.00 A4.6,4.6 0 0 1 371.95,341.40 Z" fill="#c7caf9"/>
<path d="M376.85,341.40 H381.75 A4.6,4.6 0 0 1 386.35,346.00 V350.60 H376.85 Z" fill="#e9eafc"/>
<path d="M367.35,350.60 H376.85 V359.80 H371.95 A4.6,4.6 0 0 1 367.35,355.20 Z" fill="#d3d5fa"/>
<path d="M376.85,350.60 H386.35 V355.20 A4.6,4.6 0 0 1 381.75,359.80 H376.85 Z" fill="#fcd2c3"/>
<path d="M376.85,341.40 V359.80 M367.35,350.60 H386.35" stroke="#262626" stroke-width="1.1"/>
<rect x="367.35" y="341.40" width="19.0" height="18.4" rx="4.6" fill="none" stroke="#363636" stroke-width="1.15"/>
<text x="376.85" y="369.30" font-size="6.35" text-anchor="middle" fill="#2e2e2e" stroke="#2e2e2e" stroke-width="0.14">RL17</text>
<path d="M398.00,341.40 H402.90 V350.60 H393.40 V346.00 A4.6,4.6 0 0 1 398.00,341.40 Z" fill="#b4b9f6"/>
<path d="M402.90,341.40 H407.80 A4.6,4.6 0 0 1 412.40,346.00 V350.60 H402.90 Z" fill="#e9eafc"/>
<path d="M393.40,350.60 H402.90 V359.80 H398.00 A4.6,4.6 0 0 1 393.40,355.20 Z" fill="#dee0fb"/>
<path d="M402.90,350.60 H412.40 V355.20 A4.6,4.6 0 0 1 407.80,359.80 H402.90 Z" fill="#fbc8b6"/>
<path d="M402.90,341.40 V359.80 M393.40,350.60 H412.40" stroke="#262626" stroke-width="1.1"/>
<rect x="393.40" y="341.40" width="19.0" height="18.4" rx="4.6" fill="none" stroke="#363636" stroke-width="1.15"/>
<text x="402.90" y="369.30" font-size="6.35" text-anchor="middle" fill="#2e2e2e" stroke="#2e2e2e" stroke-width="0.14">RL18</text>
<path d="M424.05,341.40 H428.95 V350.60 H419.45 V346.00 A4.6,4.6 0 0 1 424.05,341.40 Z" fill="#c7caf9"/>
<path d="M428.95,341.40 H433.85 A4.6,4.6 0 0 1 438.45,346.00 V350.60 H428.95 Z" fill="#dee0fb"/>
<path d="M419.45,350.60 H428.95 V359.80 H424.05 A4.6,4.6 0 0 1 419.45,355.20 Z" fill="#c7caf9"/>
<path d="M428.95,350.60 H438.45 V355.20 A4.6,4.6 0 0 1 433.85,359.80 H428.95 Z" fill="#fde9e3"/>
<path d="M428.95,341.40 V359.80 M419.45,350.60 H438.45" stroke="#262626" stroke-width="1.1"/>
<rect x="419.45" y="341.40" width="19.0" height="18.4" rx="4.6" fill="none" stroke="#363636" stroke-width="1.15"/>
<text x="428.95" y="369.30" font-size="6.35" text-anchor="middle" fill="#2e2e2e" stroke="#2e2e2e" stroke-width="0.14">RL21</text>
<path d="M450.10,341.40 H455.00 V350.60 H445.50 V346.00 A4.6,4.6 0 0 1 450.10,341.40 Z" fill="#aeb4f6"/>
<path d="M455.00,341.40 H459.90 A4.6,4.6 0 0 1 464.50,346.00 V350.60 H455.00 Z" fill="#d3d5fa"/>
<path d="M445.50,350.60 H455.00 V359.80 H450.10 A4.6,4.6 0 0 1 445.50,355.20 Z" fill="#babff7"/>
<path d="M455.00,350.60 H464.50 V355.20 A4.6,4.6 0 0 1 459.90,359.80 H455.00 Z" fill="#fffbf9"/>
<path d="M455.00,341.40 V359.80 M445.50,350.60 H464.50" stroke="#262626" stroke-width="1.1"/>
<rect x="445.50" y="341.40" width="19.0" height="18.4" rx="4.6" fill="none" stroke="#363636" stroke-width="1.15"/>
<text x="455.00" y="369.30" font-size="6.35" text-anchor="middle" fill="#2e2e2e" stroke="#2e2e2e" stroke-width="0.14">RL23</text>
<path d="M293.80,374.90 H298.70 V384.10 H289.20 V379.50 A4.6,4.6 0 0 1 293.80,374.90 Z" fill="#8691f2"/>
<path d="M298.70,374.90 H303.60 A4.6,4.6 0 0 1 308.20,379.50 V384.10 H298.70 Z" fill="#aeb4f6"/>
<path d="M289.20,384.10 H298.70 V393.30 H293.80 A4.6,4.6 0 0 1 289.20,388.70 Z" fill="#babff7"/>
<path d="M298.70,384.10 H308.20 V388.70 A4.6,4.6 0 0 1 303.60,393.30 H298.70 Z" fill="#eeeffd"/>
<path d="M298.70,374.90 V393.30 M289.20,384.10 H308.20" stroke="#262626" stroke-width="1.1"/>
<rect x="289.20" y="374.90" width="19.0" height="18.4" rx="4.6" fill="none" stroke="#363636" stroke-width="1.15"/>
<text x="298.70" y="402.20" font-size="6.35" text-anchor="middle" fill="#2e2e2e" stroke="#2e2e2e" stroke-width="0.14">RL23A</text>
<path d="M319.85,374.90 H324.75 V384.10 H315.25 V379.50 A4.6,4.6 0 0 1 319.85,374.90 Z" fill="#b4b9f6"/>
<path d="M324.75,374.90 H329.65 A4.6,4.6 0 0 1 334.25,379.50 V384.10 H324.75 Z" fill="#d3d5fa"/>
<path d="M315.25,384.10 H324.75 V393.30 H319.85 A4.6,4.6 0 0 1 315.25,388.70 Z" fill="#babff7"/>
<path d="M324.75,384.10 H334.25 V388.70 A4.6,4.6 0 0 1 329.65,393.30 H324.75 Z" fill="#fffbf9"/>
<path d="M324.75,374.90 V393.30 M315.25,384.10 H334.25" stroke="#262626" stroke-width="1.1"/>
<rect x="315.25" y="374.90" width="19.0" height="18.4" rx="4.6" fill="none" stroke="#363636" stroke-width="1.15"/>
<text x="324.75" y="402.20" font-size="6.35" text-anchor="middle" fill="#2e2e2e" stroke="#2e2e2e" stroke-width="0.14">RL24</text>
<path d="M345.90,374.90 H350.80 V384.10 H341.30 V379.50 A4.6,4.6 0 0 1 345.90,374.90 Z" fill="#d3d5fa"/>
<path d="M350.80,374.90 H355.70 A4.6,4.6 0 0 1 360.30,379.50 V384.10 H350.80 Z" fill="#d8dafb"/>
<path d="M341.30,384.10 H350.80 V393.30 H345.90 A4.6,4.6 0 0 1 341.30,388.70 Z" fill="#c7caf9"/>
<path d="M350.80,384.10 H360.30 V388.70 A4.6,4.6 0 0 1 355.70,393.30 H350.80 Z" fill="#dee0fb"/>
<path d="M350.80,374.90 V393.30 M341.30,384.10 H360.30" stroke="#262626" stroke-width="1.1"/>
<rect x="341.30" y="374.90" width="19.0" height="18.4" rx="4.6" fill="none" stroke="#363636" stroke-width="1.15"/>
<text x="350.80" y="402.20" font-size="6.35" text-anchor="middle" fill="#2e2e2e" stroke="#2e2e2e" stroke-width="0.14">RL28</text>
<path d="M371.95,374.90 H376.85 V384.10 H367.35 V379.50 A4.6,4.6 0 0 1 371.95,374.90 Z" fill="#8b95f2"/>
<path d="M376.85,374.90 H381.75 A4.6,4.6 0 0 1 386.35,379.50 V384.10 H376.85 Z" fill="#d3d5fa"/>
<path d="M367.35,384.10 H376.85 V393.30 H371.95 A4.6,4.6 0 0 1 367.35,388.70 Z" fill="#939cf3"/>
<path d="M376.85,384.10 H386.35 V388.70 A4.6,4.6 0 0 1 381.75,393.30 H376.85 Z" fill="#fef2ee"/>
<path d="M376.85,374.90 V393.30 M367.35,384.10 H386.35" stroke="#262626" stroke-width="1.1"/>
<rect x="367.35" y="374.90" width="19.0" height="18.4" rx="4.6" fill="none" stroke="#363636" stroke-width="1.15"/>
<text x="376.85" y="402.20" font-size="6.35" text-anchor="middle" fill="#2e2e2e" stroke="#2e2e2e" stroke-width="0.14">RL29</text>
<path d="M398.00,374.90 H402.90 V384.10 H393.40 V379.50 A4.6,4.6 0 0 1 398.00,374.90 Z" fill="#8691f2"/>
<path d="M402.90,374.90 H407.80 A4.6,4.6 0 0 1 412.40,379.50 V384.10 H402.90 Z" fill="#9ba3f4"/>
<path d="M393.40,384.10 H402.90 V393.30 H398.00 A4.6,4.6 0 0 1 393.40,388.70 Z" fill="#8691f2"/>
<path d="M402.90,384.10 H412.40 V388.70 A4.6,4.6 0 0 1 407.80,393.30 H402.90 Z" fill="#ffffff"/>
<path d="M402.90,374.90 V393.30 M393.40,384.10 H412.40" stroke="#262626" stroke-width="1.1"/>
<rect x="393.40" y="374.90" width="19.0" height="18.4" rx="4.6" fill="none" stroke="#363636" stroke-width="1.15"/>
<text x="402.90" y="402.20" font-size="6.35" text-anchor="middle" fill="#2e2e2e" stroke="#2e2e2e" stroke-width="0.14">RL35</text>
<path d="M424.05,374.90 H428.95 V384.10 H419.45 V379.50 A4.6,4.6 0 0 1 424.05,374.90 Z" fill="#b4b9f6"/>
<path d="M428.95,374.90 H433.85 A4.6,4.6 0 0 1 438.45,379.50 V384.10 H428.95 Z" fill="#c7caf9"/>
<path d="M419.45,384.10 H428.95 V393.30 H424.05 A4.6,4.6 0 0 1 419.45,388.70 Z" fill="#fabeaa"/>
<path d="M428.95,384.10 H438.45 V388.70 A4.6,4.6 0 0 1 433.85,393.30 H428.95 Z" fill="#fac3b0"/>
<path d="M428.95,374.90 V393.30 M419.45,384.10 H438.45" stroke="#262626" stroke-width="1.1"/>
<rect x="419.45" y="374.90" width="19.0" height="18.4" rx="4.6" fill="none" stroke="#363636" stroke-width="1.15"/>
<text x="428.95" y="402.20" font-size="6.35" text-anchor="middle" fill="#2e2e2e" stroke="#2e2e2e" stroke-width="0.14">RL37A</text>
<path d="M450.10,374.90 H455.00 V384.10 H445.50 V379.50 A4.6,4.6 0 0 1 450.10,374.90 Z" fill="#5970e9"/>
<path d="M455.00,374.90 H459.90 A4.6,4.6 0 0 1 464.50,379.50 V384.10 H455.00 Z" fill="#a4aaf5"/>
<path d="M445.50,384.10 H455.00 V393.30 H450.10 A4.6,4.6 0 0 1 445.50,388.70 Z" fill="#8691f2"/>
<path d="M455.00,384.10 H464.50 V388.70 A4.6,4.6 0 0 1 459.90,393.30 H455.00 Z" fill="#a8aef5"/>
<path d="M455.00,374.90 V393.30 M445.50,384.10 H464.50" stroke="#262626" stroke-width="1.1"/>
<rect x="445.50" y="374.90" width="19.0" height="18.4" rx="4.6" fill="none" stroke="#363636" stroke-width="1.15"/>
<text x="455.00" y="402.20" font-size="6.35" text-anchor="middle" fill="#2e2e2e" stroke="#2e2e2e" stroke-width="0.14">RL38</text>
<path d="M293.80,408.40 H298.70 V417.60 H289.20 V413.00 A4.6,4.6 0 0 1 293.80,408.40 Z" fill="#d3d5fa"/>
<path d="M298.70,408.40 H303.60 A4.6,4.6 0 0 1 308.20,413.00 V417.60 H298.70 Z" fill="#fffbf9"/>
<path d="M289.20,417.60 H298.70 V426.80 H293.80 A4.6,4.6 0 0 1 289.20,422.20 Z" fill="#eeeffd"/>
<path d="M298.70,417.60 H308.20 V422.20 A4.6,4.6 0 0 1 303.60,426.80 H298.70 Z" fill="#fac3b0"/>
<path d="M298.70,408.40 V426.80 M289.20,417.60 H308.20" stroke="#262626" stroke-width="1.1"/>
<rect x="289.20" y="408.40" width="19.0" height="18.4" rx="4.6" fill="none" stroke="#363636" stroke-width="1.15"/>
<text x="298.70" y="436.00" font-size="6.35" text-anchor="middle" fill="#2e2e2e" stroke="#2e2e2e" stroke-width="0.14">RL4</text>
<path d="M319.85,408.40 H324.75 V417.60 H315.25 V413.00 A4.6,4.6 0 0 1 319.85,408.40 Z" fill="#babff7"/>
<path d="M324.75,408.40 H329.65 A4.6,4.6 0 0 1 334.25,413.00 V417.60 H324.75 Z" fill="#e9eafc"/>
<path d="M315.25,417.60 H324.75 V426.80 H319.85 A4.6,4.6 0 0 1 315.25,422.20 Z" fill="#c7caf9"/>
<path d="M324.75,417.60 H334.25 V422.20 A4.6,4.6 0 0 1 329.65,426.80 H324.75 Z" fill="#fbc8b6"/>
<path d="M324.75,408.40 V426.80 M315.25,417.60 H334.25" stroke="#262626" stroke-width="1.1"/>
<rect x="315.25" y="408.40" width="19.0" height="18.4" rx="4.6" fill="none" stroke="#363636" stroke-width="1.15"/>
<text x="324.75" y="436.00" font-size="6.35" text-anchor="middle" fill="#2e2e2e" stroke="#2e2e2e" stroke-width="0.14">RL15</text>
<path d="M345.90,408.40 H350.80 V417.60 H341.30 V413.00 A4.6,4.6 0 0 1 345.90,408.40 Z" fill="#c7caf9"/>
<path d="M350.80,408.40 H355.70 A4.6,4.6 0 0 1 360.30,413.00 V417.60 H350.80 Z" fill="#dee0fb"/>
<path d="M341.30,417.60 H350.80 V426.80 H345.90 A4.6,4.6 0 0 1 341.30,422.20 Z" fill="#d3d5fa"/>
<path d="M350.80,417.60 H360.30 V422.20 A4.6,4.6 0 0 1 355.70,426.80 H350.80 Z" fill="#fef2ee"/>
<path d="M350.80,408.40 V426.80 M341.30,417.60 H360.30" stroke="#262626" stroke-width="1.1"/>
<rect x="341.30" y="408.40" width="19.0" height="18.4" rx="4.6" fill="none" stroke="#363636" stroke-width="1.15"/>
<text x="350.80" y="436.00" font-size="6.35" text-anchor="middle" fill="#2e2e2e" stroke="#2e2e2e" stroke-width="0.14">RL7A</text>
<path d="M371.95,408.40 H376.85 V417.60 H367.35 V413.00 A4.6,4.6 0 0 1 371.95,408.40 Z" fill="#d3d5fa"/>
<path d="M376.85,408.40 H381.75 A4.6,4.6 0 0 1 386.35,413.00 V417.60 H376.85 Z" fill="#feeee8"/>
<path d="M367.35,417.60 H376.85 V426.80 H371.95 A4.6,4.6 0 0 1 367.35,422.20 Z" fill="#e9eafc"/>
<path d="M376.85,417.60 H386.35 V422.20 A4.6,4.6 0 0 1 381.75,426.80 H376.85 Z" fill="#fabeaa"/>
<path d="M376.85,408.40 V426.80 M367.35,417.60 H386.35" stroke="#262626" stroke-width="1.1"/>
<rect x="367.35" y="408.40" width="19.0" height="18.4" rx="4.6" fill="none" stroke="#363636" stroke-width="1.15"/>
<text x="376.85" y="436.00" font-size="6.35" text-anchor="middle" fill="#2e2e2e" stroke="#2e2e2e" stroke-width="0.14">RL6</text>
<path d="M398.00,408.40 H402.90 V417.60 H393.40 V413.00 A4.6,4.6 0 0 1 398.00,408.40 Z" fill="#c7caf9"/>
<path d="M402.90,408.40 H407.80 A4.6,4.6 0 0 1 412.40,413.00 V417.60 H402.90 Z" fill="#fafafe"/>
<path d="M393.40,417.60 H402.90 V426.80 H398.00 A4.6,4.6 0 0 1 393.40,422.20 Z" fill="#dee0fb"/>
<path d="M402.90,417.60 H412.40 V422.20 A4.6,4.6 0 0 1 407.80,426.80 H402.90 Z" fill="#fac3b0"/>
<path d="M402.90,408.40 V426.80 M393.40,417.60 H412.40" stroke="#262626" stroke-width="1.1"/>
<rect x="393.40" y="408.40" width="19.0" height="18.4" rx="4.6" fill="none" stroke="#363636" stroke-width="1.15"/>
<text x="402.90" y="436.00" font-size="6.35" text-anchor="middle" fill="#2e2e2e" stroke="#2e2e2e" stroke-width="0.14">RL7</text>
<path d="M424.05,408.40 H428.95 V417.60 H419.45 V413.00 A4.6,4.6 0 0 1 424.05,408.40 Z" fill="#a8aef5"/>
<path d="M428.95,408.40 H433.85 A4.6,4.6 0 0 1 438.45,413.00 V417.60 H428.95 Z" fill="#babff7"/>
<path d="M419.45,417.60 H428.95 V426.80 H424.05 A4.6,4.6 0 0 1 419.45,422.20 Z" fill="#939cf3"/>
<path d="M428.95,417.60 H438.45 V422.20 A4.6,4.6 0 0 1 433.85,426.80 H428.95 Z" fill="#fbc8b6"/>
<path d="M428.95,408.40 V426.80 M419.45,417.60 H438.45" stroke="#262626" stroke-width="1.1"/>
<rect x="419.45" y="408.40" width="19.0" height="18.4" rx="4.6" fill="none" stroke="#363636" stroke-width="1.15"/>
<text x="428.95" y="436.00" font-size="6.35" text-anchor="middle" fill="#2e2e2e" stroke="#2e2e2e" stroke-width="0.14">RL8</text>
<path d="M450.10,408.40 H455.00 V417.60 H445.50 V413.00 A4.6,4.6 0 0 1 450.10,408.40 Z" fill="#dee0fb"/>
<path d="M455.00,408.40 H459.90 A4.6,4.6 0 0 1 464.50,413.00 V417.60 H455.00 Z" fill="#d3d5fa"/>
<path d="M445.50,417.60 H455.00 V426.80 H450.10 A4.6,4.6 0 0 1 445.50,422.20 Z" fill="#dee0fb"/>
<path d="M455.00,417.60 H464.50 V422.20 A4.6,4.6 0 0 1 459.90,426.80 H455.00 Z" fill="#e4e5fc"/>
<path d="M455.00,408.40 V426.80 M445.50,417.60 H464.50" stroke="#262626" stroke-width="1.1"/>
<rect x="445.50" y="408.40" width="19.0" height="18.4" rx="4.6" fill="none" stroke="#363636" stroke-width="1.15"/>
<text x="455.00" y="436.00" font-size="6.35" text-anchor="middle" fill="#2e2e2e" stroke="#2e2e2e" stroke-width="0.14">RLA2</text>
<path d="M293.80,452.00 H298.70 V461.20 H289.20 V456.60 A4.6,4.6 0 0 1 293.80,452.00 Z" fill="#d3d5fa"/>
<path d="M298.70,452.00 H303.60 A4.6,4.6 0 0 1 308.20,456.60 V461.20 H298.70 Z" fill="#eeeffd"/>
<path d="M289.20,461.20 H298.70 V470.40 H293.80 A4.6,4.6 0 0 1 289.20,465.80 Z" fill="#d8dafb"/>
<path d="M298.70,461.20 H308.20 V465.80 A4.6,4.6 0 0 1 303.60,470.40 H298.70 Z" fill="#fde0d6"/>
<path d="M298.70,452.00 V470.40 M289.20,461.20 H308.20" stroke="#262626" stroke-width="1.1"/>
<rect x="289.20" y="452.00" width="19.0" height="18.4" rx="4.6" fill="none" stroke="#363636" stroke-width="1.15"/>
<text x="298.70" y="479.30" font-size="6.35" text-anchor="middle" fill="#2e2e2e" stroke="#2e2e2e" stroke-width="0.14">RS26</text>
<path d="M319.85,452.00 H324.75 V461.20 H315.25 V456.60 A4.6,4.6 0 0 1 319.85,452.00 Z" fill="#d3d5fa"/>
<path d="M324.75,452.00 H329.65 A4.6,4.6 0 0 1 334.25,456.60 V461.20 H324.75 Z" fill="#fafafe"/>
<path d="M315.25,461.20 H324.75 V470.40 H319.85 A4.6,4.6 0 0 1 315.25,465.80 Z" fill="#dee0fb"/>
<path d="M324.75,461.20 H334.25 V465.80 A4.6,4.6 0 0 1 329.65,470.40 H324.75 Z" fill="#fbc8b6"/>
<path d="M324.75,452.00 V470.40 M315.25,461.20 H334.25" stroke="#262626" stroke-width="1.1"/>
<rect x="315.25" y="452.00" width="19.0" height="18.4" rx="4.6" fill="none" stroke="#363636" stroke-width="1.15"/>
<text x="324.75" y="479.30" font-size="6.35" text-anchor="middle" fill="#2e2e2e" stroke="#2e2e2e" stroke-width="0.14">RS4X</text>
<path d="M345.90,452.00 H350.80 V461.20 H341.30 V456.60 A4.6,4.6 0 0 1 345.90,452.00 Z" fill="#9ba3f4"/>
<path d="M350.80,452.00 H355.70 A4.6,4.6 0 0 1 360.30,456.60 V461.20 H350.80 Z" fill="#babff7"/>
<path d="M341.30,461.20 H350.80 V470.40 H345.90 A4.6,4.6 0 0 1 341.30,465.80 Z" fill="#a8aef5"/>
<path d="M350.80,461.20 H360.30 V465.80 A4.6,4.6 0 0 1 355.70,470.40 H350.80 Z" fill="#d8dafb"/>
<path d="M350.80,452.00 V470.40 M341.30,461.20 H360.30" stroke="#262626" stroke-width="1.1"/>
<rect x="341.30" y="452.00" width="19.0" height="18.4" rx="4.6" fill="none" stroke="#363636" stroke-width="1.15"/>
<text x="350.80" y="479.30" font-size="6.35" text-anchor="middle" fill="#2e2e2e" stroke="#2e2e2e" stroke-width="0.14">RS10</text>
<path d="M371.95,452.00 H376.85 V461.20 H367.35 V456.60 A4.6,4.6 0 0 1 371.95,452.00 Z" fill="#c7caf9"/>
<path d="M376.85,452.00 H381.75 A4.6,4.6 0 0 1 386.35,456.60 V461.20 H376.85 Z" fill="#f4f4fe"/>
<path d="M367.35,461.20 H376.85 V470.40 H371.95 A4.6,4.6 0 0 1 367.35,465.80 Z" fill="#e9eafc"/>
<path d="M376.85,461.20 H386.35 V465.80 A4.6,4.6 0 0 1 381.75,470.40 H376.85 Z" fill="#fcd6ca"/>
<path d="M376.85,452.00 V470.40 M367.35,461.20 H386.35" stroke="#262626" stroke-width="1.1"/>
<rect x="367.35" y="452.00" width="19.0" height="18.4" rx="4.6" fill="none" stroke="#363636" stroke-width="1.15"/>
<text x="376.85" y="479.30" font-size="6.35" text-anchor="middle" fill="#2e2e2e" stroke="#2e2e2e" stroke-width="0.14">RS11</text>
<path d="M398.00,452.00 H402.90 V461.20 H393.40 V456.60 A4.6,4.6 0 0 1 398.00,452.00 Z" fill="#dee0fb"/>
<path d="M402.90,452.00 H407.80 A4.6,4.6 0 0 1 412.40,456.60 V461.20 H402.90 Z" fill="#f4f4fe"/>
<path d="M393.40,461.20 H402.90 V470.40 H398.00 A4.6,4.6 0 0 1 393.40,465.80 Z" fill="#c7caf9"/>
<path d="M402.90,461.20 H412.40 V465.80 A4.6,4.6 0 0 1 407.80,470.40 H402.90 Z" fill="#fde5dd"/>
<path d="M402.90,452.00 V470.40 M393.40,461.20 H412.40" stroke="#262626" stroke-width="1.1"/>
<rect x="393.40" y="452.00" width="19.0" height="18.4" rx="4.6" fill="none" stroke="#363636" stroke-width="1.15"/>
<text x="402.90" y="479.30" font-size="6.35" text-anchor="middle" fill="#2e2e2e" stroke="#2e2e2e" stroke-width="0.14">RS13</text>
<path d="M424.05,452.00 H428.95 V461.20 H419.45 V456.60 A4.6,4.6 0 0 1 424.05,452.00 Z" fill="#c7caf9"/>
<path d="M428.95,452.00 H433.85 A4.6,4.6 0 0 1 438.45,456.60 V461.20 H428.95 Z" fill="#fafafe"/>
<path d="M419.45,461.20 H428.95 V470.40 H424.05 A4.6,4.6 0 0 1 419.45,465.80 Z" fill="#eeeffd"/>
<path d="M428.95,461.20 H438.45 V465.80 A4.6,4.6 0 0 1 433.85,470.40 H428.95 Z" fill="#fcd2c3"/>
<path d="M428.95,452.00 V470.40 M419.45,461.20 H438.45" stroke="#262626" stroke-width="1.1"/>
<rect x="419.45" y="452.00" width="19.0" height="18.4" rx="4.6" fill="none" stroke="#363636" stroke-width="1.15"/>
<text x="428.95" y="479.30" font-size="6.35" text-anchor="middle" fill="#2e2e2e" stroke="#2e2e2e" stroke-width="0.14">RS16</text>
<path d="M312.30,485.80 H317.20 V495.00 H307.70 V490.40 A4.6,4.6 0 0 1 312.30,485.80 Z" fill="#5970e9"/>
<path d="M317.20,485.80 H322.10 A4.6,4.6 0 0 1 326.70,490.40 V495.00 H317.20 Z" fill="#9ba3f4"/>
<path d="M307.70,495.00 H317.20 V504.20 H312.30 A4.6,4.6 0 0 1 307.70,499.60 Z" fill="#8b95f2"/>
<path d="M317.20,495.00 H326.70 V499.60 A4.6,4.6 0 0 1 322.10,504.20 H317.20 Z" fill="#a8aef5"/>
<path d="M317.20,485.80 V504.20 M307.70,495.00 H326.70" stroke="#262626" stroke-width="1.1"/>
<rect x="307.70" y="485.80" width="19.0" height="18.4" rx="4.6" fill="none" stroke="#363636" stroke-width="1.15"/>
<text x="317.20" y="512.70" font-size="6.35" text-anchor="middle" fill="#2e2e2e" stroke="#2e2e2e" stroke-width="0.14">RS19</text>
<path d="M337.75,485.80 H342.65 V495.00 H333.15 V490.40 A4.6,4.6 0 0 1 337.75,485.80 Z" fill="#d8dafb"/>
<path d="M342.65,485.80 H347.55 A4.6,4.6 0 0 1 352.15,490.40 V495.00 H342.65 Z" fill="#eeeffd"/>
<path d="M333.15,495.00 H342.65 V504.20 H337.75 A4.6,4.6 0 0 1 333.15,499.60 Z" fill="#dee0fb"/>
<path d="M342.65,495.00 H352.15 V499.60 A4.6,4.6 0 0 1 347.55,504.20 H342.65 Z" fill="#fef2ee"/>
<path d="M342.65,485.80 V504.20 M333.15,495.00 H352.15" stroke="#262626" stroke-width="1.1"/>
<rect x="333.15" y="485.80" width="19.0" height="18.4" rx="4.6" fill="none" stroke="#363636" stroke-width="1.15"/>
<text x="342.65" y="512.70" font-size="6.35" text-anchor="middle" fill="#2e2e2e" stroke="#2e2e2e" stroke-width="0.14">RS23</text>
<path d="M363.20,485.80 H368.10 V495.00 H358.60 V490.40 A4.6,4.6 0 0 1 363.20,485.80 Z" fill="#aeb4f6"/>
<path d="M368.10,485.80 H373.00 A4.6,4.6 0 0 1 377.60,490.40 V495.00 H368.10 Z" fill="#dee0fb"/>
<path d="M358.60,495.00 H368.10 V504.20 H363.20 A4.6,4.6 0 0 1 358.60,499.60 Z" fill="#babff7"/>
<path d="M368.10,495.00 H377.60 V499.60 A4.6,4.6 0 0 1 373.00,504.20 H368.10 Z" fill="#fafafe"/>
<path d="M368.10,485.80 V504.20 M358.60,495.00 H377.60" stroke="#262626" stroke-width="1.1"/>
<rect x="358.60" y="485.80" width="19.0" height="18.4" rx="4.6" fill="none" stroke="#363636" stroke-width="1.15"/>
<text x="368.10" y="512.70" font-size="6.35" text-anchor="middle" fill="#2e2e2e" stroke="#2e2e2e" stroke-width="0.14">RS25</text>
<path d="M388.65,485.80 H393.55 V495.00 H384.05 V490.40 A4.6,4.6 0 0 1 388.65,485.80 Z" fill="#aeb4f6"/>
<path d="M393.55,485.80 H398.45 A4.6,4.6 0 0 1 403.05,490.40 V495.00 H393.55 Z" fill="#e4e5fc"/>
<path d="M384.05,495.00 H393.55 V504.20 H388.65 A4.6,4.6 0 0 1 384.05,499.60 Z" fill="#b4b9f6"/>
<path d="M393.55,495.00 H403.05 V499.60 A4.6,4.6 0 0 1 398.45,504.20 H393.55 Z" fill="#f4f4fe"/>
<path d="M393.55,485.80 V504.20 M384.05,495.00 H403.05" stroke="#262626" stroke-width="1.1"/>
<rect x="384.05" y="485.80" width="19.0" height="18.4" rx="4.6" fill="none" stroke="#363636" stroke-width="1.15"/>
<text x="393.55" y="512.70" font-size="6.35" text-anchor="middle" fill="#2e2e2e" stroke="#2e2e2e" stroke-width="0.14">RS27</text>
<path d="M414.10,485.80 H419.00 V495.00 H409.50 V490.40 A4.6,4.6 0 0 1 414.10,485.80 Z" fill="#dee0fb"/>
<path d="M419.00,485.80 H423.90 A4.6,4.6 0 0 1 428.50,490.40 V495.00 H419.00 Z" fill="#fafafe"/>
<path d="M409.50,495.00 H419.00 V504.20 H414.10 A4.6,4.6 0 0 1 409.50,499.60 Z" fill="#e9eafc"/>
<path d="M419.00,495.00 H428.50 V499.60 A4.6,4.6 0 0 1 423.90,504.20 H419.00 Z" fill="#fcd2c3"/>
<path d="M419.00,485.80 V504.20 M409.50,495.00 H428.50" stroke="#262626" stroke-width="1.1"/>
<rect x="409.50" y="485.80" width="19.0" height="18.4" rx="4.6" fill="none" stroke="#363636" stroke-width="1.15"/>
<text x="419.00" y="512.70" font-size="6.35" text-anchor="middle" fill="#2e2e2e" stroke="#2e2e2e" stroke-width="0.14">RS8</text>
<text x="472.30" y="389.80" font-size="7.6" text-anchor="middle" fill="#1a1a1a" stroke="#1a1a1a" stroke-width="0.2" textLength="80.00" lengthAdjust="spacingAndGlyphs" transform="rotate(90 472.30 389.80)">60S ribosomal protein</text>
<text x="456.40" y="483.90" font-size="8.2" text-anchor="middle" fill="#1a1a1a" stroke="#1a1a1a" stroke-width="0.2" textLength="53.50" lengthAdjust="spacingAndGlyphs" transform="rotate(90 456.40 483.90)">40S ribosomal</text>
<text x="446.40" y="484.40" font-size="8.2" text-anchor="middle" fill="#1a1a1a" stroke="#1a1a1a" stroke-width="0.2" textLength="26.20" lengthAdjust="spacingAndGlyphs" transform="rotate(90 446.40 484.40)">protein</text>
<text x="509.70" y="398.30" font-size="7.8" text-anchor="middle" fill="#111" stroke="#111" stroke-width="0.2" textLength="12.40" lengthAdjust="spacingAndGlyphs">116</text>
<text x="529.90" y="398.30" font-size="7.8" text-anchor="middle" fill="#111" stroke="#111" stroke-width="0.2" textLength="17.80" lengthAdjust="spacingAndGlyphs">1424</text>
<path d="M518.50,400.50 V416.50 M510.20,408.50 H526.80" stroke="#262626" stroke-width="1.1"/>
<rect x="510.20" y="400.50" width="16.6" height="16.0" rx="4.0" fill="none" stroke="#363636" stroke-width="1.15"/>
<text x="503.80" y="424.10" font-size="7.8" text-anchor="middle" fill="#111" stroke="#111" stroke-width="0.2" textLength="23.80" lengthAdjust="spacingAndGlyphs">1424.1</text>
<text x="533.30" y="424.10" font-size="7.8" text-anchor="middle" fill="#111" stroke="#111" stroke-width="0.2" textLength="24.50" lengthAdjust="spacingAndGlyphs">1424.2</text>
<text x="519.00" y="444.70" font-size="8.2" text-anchor="middle" fill="#111" stroke="#111" stroke-width="0.2">Log2</text>
<text x="519.00" y="454.40" font-size="8.2" text-anchor="middle" fill="#111" stroke="#111" stroke-width="0.2" textLength="43.90" lengthAdjust="spacingAndGlyphs">protein ratio</text>
<defs><linearGradient id="lr" x1="0" y1="0" x2="1" y2="0"><stop offset="0" stop-color="#2a46a6"/><stop offset="0.22" stop-color="#3a62dc"/><stop offset="0.38" stop-color="#8f9ef2"/><stop offset="0.5" stop-color="#ffffff"/><stop offset="0.6" stop-color="#fbb6a0"/><stop offset="0.72" stop-color="#f03a20"/><stop offset="0.85" stop-color="#d20404"/><stop offset="1" stop-color="#960012"/></linearGradient></defs>
<rect x="494.4" y="459.5" width="51.3" height="11.3" fill="url(#lr)"/>
<text x="491.20" y="481.30" font-size="7.8" text-anchor="middle" fill="#111" stroke="#111" stroke-width="0.2">−</text>
<text x="498.00" y="481.30" font-size="7.8" text-anchor="middle" fill="#111" stroke="#111" stroke-width="0.2">5</text>
<text x="520.00" y="481.30" font-size="7.8" text-anchor="middle" fill="#111" stroke="#111" stroke-width="0.2">0</text>
<text x="545.70" y="481.30" font-size="7.8" text-anchor="middle" fill="#111" stroke="#111" stroke-width="0.2">5</text>
</svg></body></html>
